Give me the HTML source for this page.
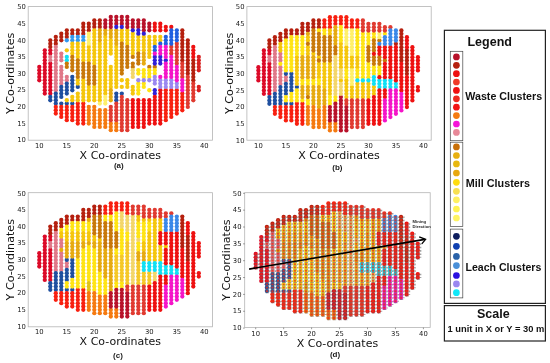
<!DOCTYPE html>
<html><head><meta charset="utf-8"><title>Cluster maps</title>
<style>html,body{margin:0;padding:0;background:#fff}svg{display:block}</style></head>
<body><svg width="550" height="363" viewBox="0 0 550 363">
<rect width="550" height="363" fill="#fff"/>
<g fill="#dc0a28"><circle cx="39.3" cy="66.94" r="2.15"/><circle cx="39.3" cy="70.27" r="2.15"/><circle cx="39.3" cy="73.6" r="2.15"/><circle cx="39.3" cy="76.93" r="2.15"/><circle cx="39.3" cy="80.26" r="2.15"/><circle cx="44.8" cy="50.29" r="2.15"/><circle cx="44.8" cy="53.62" r="2.15"/><circle cx="44.8" cy="56.95" r="2.15"/><circle cx="44.8" cy="60.28" r="2.15"/><circle cx="44.8" cy="63.61" r="2.15"/><circle cx="44.8" cy="66.94" r="2.15"/><circle cx="44.8" cy="70.27" r="2.15"/><circle cx="44.8" cy="73.6" r="2.15"/><circle cx="44.8" cy="76.93" r="2.15"/><circle cx="44.8" cy="80.26" r="2.15"/><circle cx="44.8" cy="83.59" r="2.15"/><circle cx="44.8" cy="86.92" r="2.15"/><circle cx="44.8" cy="90.25" r="2.15"/><circle cx="44.8" cy="93.58" r="2.15"/><circle cx="50.3" cy="50.29" r="2.15"/><circle cx="50.3" cy="53.62" r="2.15"/><circle cx="50.3" cy="63.61" r="2.15"/><circle cx="50.3" cy="66.94" r="2.15"/><circle cx="50.3" cy="70.27" r="2.15"/><circle cx="50.3" cy="73.6" r="2.15"/><circle cx="50.3" cy="76.93" r="2.15"/><circle cx="50.3" cy="80.26" r="2.15"/><circle cx="50.3" cy="83.59" r="2.15"/><circle cx="50.3" cy="86.92" r="2.15"/><circle cx="50.3" cy="90.25" r="2.15"/><circle cx="50.3" cy="93.58" r="2.15"/></g>
<g fill="#b5200f"><circle cx="50.3" cy="40.3" r="2.15"/><circle cx="50.3" cy="43.63" r="2.15"/><circle cx="50.3" cy="46.96" r="2.15"/><circle cx="55.8" cy="36.97" r="2.15"/><circle cx="55.8" cy="40.3" r="2.15"/><circle cx="55.8" cy="43.63" r="2.15"/><circle cx="61.3" cy="33.64" r="2.15"/><circle cx="61.3" cy="36.97" r="2.15"/><circle cx="61.3" cy="40.3" r="2.15"/><circle cx="66.8" cy="30.31" r="2.15"/><circle cx="66.8" cy="33.64" r="2.15"/><circle cx="66.8" cy="36.97" r="2.15"/><circle cx="72.3" cy="30.31" r="2.15"/><circle cx="72.3" cy="33.64" r="2.15"/><circle cx="77.8" cy="30.31" r="2.15"/><circle cx="77.8" cy="33.64" r="2.15"/><circle cx="83.3" cy="23.65" r="2.15"/><circle cx="83.3" cy="26.98" r="2.15"/><circle cx="83.3" cy="30.31" r="2.15"/><circle cx="83.3" cy="33.64" r="2.15"/><circle cx="88.8" cy="23.65" r="2.15"/><circle cx="88.8" cy="26.98" r="2.15"/><circle cx="88.8" cy="30.31" r="2.15"/><circle cx="94.3" cy="20.32" r="2.15"/><circle cx="94.3" cy="23.65" r="2.15"/><circle cx="94.3" cy="26.98" r="2.15"/><circle cx="99.8" cy="20.32" r="2.15"/><circle cx="99.8" cy="23.65" r="2.15"/><circle cx="99.8" cy="26.98" r="2.15"/><circle cx="182.3" cy="30.31" r="2.15"/><circle cx="182.3" cy="33.64" r="2.15"/><circle cx="182.3" cy="36.97" r="2.15"/><circle cx="182.3" cy="40.3" r="2.15"/><circle cx="182.3" cy="43.63" r="2.15"/><circle cx="182.3" cy="46.96" r="2.15"/><circle cx="182.3" cy="50.29" r="2.15"/><circle cx="182.3" cy="53.62" r="2.15"/><circle cx="182.3" cy="56.95" r="2.15"/><circle cx="182.3" cy="60.28" r="2.15"/><circle cx="187.8" cy="40.3" r="2.15"/><circle cx="187.8" cy="43.63" r="2.15"/><circle cx="187.8" cy="46.96" r="2.15"/><circle cx="187.8" cy="50.29" r="2.15"/><circle cx="187.8" cy="53.62" r="2.15"/><circle cx="187.8" cy="56.95" r="2.15"/><circle cx="187.8" cy="60.28" r="2.15"/><circle cx="187.8" cy="63.61" r="2.15"/><circle cx="187.8" cy="66.94" r="2.15"/><circle cx="187.8" cy="70.27" r="2.15"/><circle cx="187.8" cy="73.6" r="2.15"/><circle cx="193.3" cy="60.28" r="2.15"/><circle cx="193.3" cy="63.61" r="2.15"/><circle cx="193.3" cy="66.94" r="2.15"/><circle cx="193.3" cy="70.27" r="2.15"/><circle cx="193.3" cy="73.6" r="2.15"/><circle cx="193.3" cy="76.93" r="2.15"/><circle cx="193.3" cy="80.26" r="2.15"/></g>
<g fill="#e07888"><circle cx="50.3" cy="56.95" r="2.15"/><circle cx="50.3" cy="60.28" r="2.15"/><circle cx="55.8" cy="46.96" r="2.15"/><circle cx="55.8" cy="50.29" r="2.15"/><circle cx="55.8" cy="53.62" r="2.15"/><circle cx="55.8" cy="56.95" r="2.15"/><circle cx="55.8" cy="60.28" r="2.15"/><circle cx="55.8" cy="63.61" r="2.15"/><circle cx="55.8" cy="66.94" r="2.15"/><circle cx="55.8" cy="70.27" r="2.15"/><circle cx="55.8" cy="73.6" r="2.15"/><circle cx="55.8" cy="76.93" r="2.15"/><circle cx="55.8" cy="80.26" r="2.15"/><circle cx="55.8" cy="83.59" r="2.15"/><circle cx="55.8" cy="86.92" r="2.15"/><circle cx="55.8" cy="90.25" r="2.15"/><circle cx="61.3" cy="53.62" r="2.15"/><circle cx="61.3" cy="56.95" r="2.15"/><circle cx="61.3" cy="60.28" r="2.15"/><circle cx="61.3" cy="66.94" r="2.15"/><circle cx="61.3" cy="70.27" r="2.15"/><circle cx="61.3" cy="73.6" r="2.15"/><circle cx="61.3" cy="76.93" r="2.15"/><circle cx="61.3" cy="80.26" r="2.15"/><circle cx="61.3" cy="83.59" r="2.15"/><circle cx="66.8" cy="76.93" r="2.15"/><circle cx="66.8" cy="80.26" r="2.15"/></g>
<g fill="#1f4f9f"><circle cx="50.3" cy="96.91" r="2.15"/><circle cx="50.3" cy="100.24" r="2.15"/><circle cx="55.8" cy="93.58" r="2.15"/><circle cx="55.8" cy="96.91" r="2.15"/><circle cx="55.8" cy="100.24" r="2.15"/><circle cx="55.8" cy="103.57" r="2.15"/><circle cx="61.3" cy="86.92" r="2.15"/><circle cx="61.3" cy="90.25" r="2.15"/><circle cx="61.3" cy="93.58" r="2.15"/><circle cx="61.3" cy="96.91" r="2.15"/><circle cx="61.3" cy="103.57" r="2.15"/><circle cx="66.8" cy="83.59" r="2.15"/><circle cx="66.8" cy="86.92" r="2.15"/><circle cx="66.8" cy="90.25" r="2.15"/><circle cx="66.8" cy="93.58" r="2.15"/><circle cx="66.8" cy="103.57" r="2.15"/><circle cx="72.3" cy="76.93" r="2.15"/><circle cx="72.3" cy="80.26" r="2.15"/><circle cx="72.3" cy="83.59" r="2.15"/><circle cx="72.3" cy="86.92" r="2.15"/><circle cx="72.3" cy="90.25" r="2.15"/><circle cx="72.3" cy="103.57" r="2.15"/><circle cx="77.8" cy="86.92" r="2.15"/><circle cx="116.3" cy="93.58" r="2.15"/><circle cx="116.3" cy="96.91" r="2.15"/><circle cx="116.3" cy="100.24" r="2.15"/><circle cx="121.8" cy="93.58" r="2.15"/></g>
<g fill="#f82010"><circle cx="55.8" cy="106.9" r="2.15"/><circle cx="55.8" cy="110.23" r="2.15"/><circle cx="55.8" cy="113.56" r="2.15"/><circle cx="61.3" cy="106.9" r="2.15"/><circle cx="61.3" cy="110.23" r="2.15"/><circle cx="61.3" cy="113.56" r="2.15"/><circle cx="61.3" cy="116.89" r="2.15"/><circle cx="66.8" cy="106.9" r="2.15"/><circle cx="66.8" cy="110.23" r="2.15"/><circle cx="66.8" cy="113.56" r="2.15"/><circle cx="66.8" cy="116.89" r="2.15"/><circle cx="66.8" cy="120.22" r="2.15"/><circle cx="72.3" cy="106.9" r="2.15"/><circle cx="72.3" cy="110.23" r="2.15"/><circle cx="72.3" cy="113.56" r="2.15"/><circle cx="72.3" cy="116.89" r="2.15"/><circle cx="72.3" cy="120.22" r="2.15"/><circle cx="77.8" cy="103.57" r="2.15"/><circle cx="77.8" cy="106.9" r="2.15"/><circle cx="77.8" cy="110.23" r="2.15"/><circle cx="77.8" cy="113.56" r="2.15"/><circle cx="77.8" cy="116.89" r="2.15"/><circle cx="77.8" cy="120.22" r="2.15"/><circle cx="77.8" cy="123.55" r="2.15"/><circle cx="83.3" cy="103.57" r="2.15"/><circle cx="83.3" cy="106.9" r="2.15"/><circle cx="83.3" cy="110.23" r="2.15"/><circle cx="83.3" cy="113.56" r="2.15"/><circle cx="83.3" cy="116.89" r="2.15"/><circle cx="83.3" cy="120.22" r="2.15"/><circle cx="83.3" cy="123.55" r="2.15"/><circle cx="165.8" cy="90.25" r="2.15"/><circle cx="165.8" cy="93.58" r="2.15"/><circle cx="165.8" cy="96.91" r="2.15"/><circle cx="165.8" cy="100.24" r="2.15"/><circle cx="165.8" cy="103.57" r="2.15"/><circle cx="165.8" cy="106.9" r="2.15"/><circle cx="165.8" cy="110.23" r="2.15"/><circle cx="165.8" cy="113.56" r="2.15"/><circle cx="165.8" cy="116.89" r="2.15"/><circle cx="165.8" cy="120.22" r="2.15"/><circle cx="171.3" cy="90.25" r="2.15"/><circle cx="171.3" cy="93.58" r="2.15"/><circle cx="171.3" cy="96.91" r="2.15"/><circle cx="171.3" cy="100.24" r="2.15"/><circle cx="171.3" cy="103.57" r="2.15"/><circle cx="171.3" cy="106.9" r="2.15"/><circle cx="171.3" cy="110.23" r="2.15"/><circle cx="171.3" cy="113.56" r="2.15"/><circle cx="171.3" cy="116.89" r="2.15"/><circle cx="176.8" cy="90.25" r="2.15"/><circle cx="176.8" cy="93.58" r="2.15"/><circle cx="176.8" cy="96.91" r="2.15"/><circle cx="176.8" cy="100.24" r="2.15"/><circle cx="176.8" cy="103.57" r="2.15"/><circle cx="176.8" cy="106.9" r="2.15"/><circle cx="176.8" cy="110.23" r="2.15"/><circle cx="176.8" cy="113.56" r="2.15"/><circle cx="182.3" cy="93.58" r="2.15"/><circle cx="182.3" cy="96.91" r="2.15"/><circle cx="182.3" cy="100.24" r="2.15"/><circle cx="182.3" cy="103.57" r="2.15"/><circle cx="182.3" cy="106.9" r="2.15"/><circle cx="182.3" cy="110.23" r="2.15"/></g>
<g fill="#3399f0"><circle cx="66.8" cy="40.3" r="2.15"/><circle cx="72.3" cy="36.97" r="2.15"/><circle cx="72.3" cy="40.3" r="2.15"/><circle cx="77.8" cy="36.97" r="2.15"/><circle cx="77.8" cy="40.3" r="2.15"/><circle cx="83.3" cy="36.97" r="2.15"/><circle cx="83.3" cy="40.3" r="2.15"/></g>
<g fill="#f5c60c"><circle cx="66.8" cy="50.29" r="2.15"/><circle cx="66.8" cy="100.24" r="2.15"/><circle cx="72.3" cy="43.63" r="2.15"/><circle cx="72.3" cy="46.96" r="2.15"/><circle cx="72.3" cy="50.29" r="2.15"/><circle cx="72.3" cy="53.62" r="2.15"/><circle cx="72.3" cy="96.91" r="2.15"/><circle cx="72.3" cy="100.24" r="2.15"/><circle cx="77.8" cy="43.63" r="2.15"/><circle cx="77.8" cy="46.96" r="2.15"/><circle cx="77.8" cy="50.29" r="2.15"/><circle cx="77.8" cy="53.62" r="2.15"/><circle cx="77.8" cy="56.95" r="2.15"/><circle cx="77.8" cy="80.26" r="2.15"/><circle cx="77.8" cy="83.59" r="2.15"/><circle cx="77.8" cy="93.58" r="2.15"/><circle cx="77.8" cy="96.91" r="2.15"/><circle cx="77.8" cy="100.24" r="2.15"/><circle cx="83.3" cy="43.63" r="2.15"/><circle cx="83.3" cy="46.96" r="2.15"/><circle cx="83.3" cy="50.29" r="2.15"/><circle cx="83.3" cy="53.62" r="2.15"/><circle cx="83.3" cy="56.95" r="2.15"/><circle cx="83.3" cy="60.28" r="2.15"/><circle cx="83.3" cy="80.26" r="2.15"/><circle cx="83.3" cy="83.59" r="2.15"/><circle cx="83.3" cy="86.92" r="2.15"/><circle cx="83.3" cy="90.25" r="2.15"/><circle cx="83.3" cy="93.58" r="2.15"/><circle cx="83.3" cy="96.91" r="2.15"/><circle cx="83.3" cy="100.24" r="2.15"/><circle cx="88.8" cy="46.96" r="2.15"/><circle cx="88.8" cy="50.29" r="2.15"/><circle cx="88.8" cy="53.62" r="2.15"/><circle cx="88.8" cy="56.95" r="2.15"/><circle cx="88.8" cy="60.28" r="2.15"/><circle cx="88.8" cy="86.92" r="2.15"/><circle cx="88.8" cy="90.25" r="2.15"/><circle cx="88.8" cy="93.58" r="2.15"/><circle cx="88.8" cy="96.91" r="2.15"/><circle cx="88.8" cy="100.24" r="2.15"/><circle cx="94.3" cy="30.31" r="2.15"/><circle cx="94.3" cy="33.64" r="2.15"/><circle cx="94.3" cy="36.97" r="2.15"/><circle cx="94.3" cy="40.3" r="2.15"/><circle cx="94.3" cy="43.63" r="2.15"/><circle cx="94.3" cy="46.96" r="2.15"/><circle cx="94.3" cy="50.29" r="2.15"/><circle cx="94.3" cy="53.62" r="2.15"/><circle cx="94.3" cy="56.95" r="2.15"/><circle cx="94.3" cy="60.28" r="2.15"/><circle cx="94.3" cy="63.61" r="2.15"/><circle cx="94.3" cy="86.92" r="2.15"/><circle cx="94.3" cy="90.25" r="2.15"/><circle cx="94.3" cy="93.58" r="2.15"/><circle cx="94.3" cy="96.91" r="2.15"/><circle cx="94.3" cy="100.24" r="2.15"/><circle cx="99.8" cy="43.63" r="2.15"/><circle cx="99.8" cy="46.96" r="2.15"/><circle cx="99.8" cy="50.29" r="2.15"/><circle cx="99.8" cy="53.62" r="2.15"/><circle cx="99.8" cy="56.95" r="2.15"/><circle cx="99.8" cy="60.28" r="2.15"/><circle cx="99.8" cy="63.61" r="2.15"/><circle cx="99.8" cy="66.94" r="2.15"/><circle cx="99.8" cy="70.27" r="2.15"/><circle cx="99.8" cy="73.6" r="2.15"/><circle cx="99.8" cy="76.93" r="2.15"/><circle cx="99.8" cy="80.26" r="2.15"/><circle cx="99.8" cy="83.59" r="2.15"/><circle cx="99.8" cy="86.92" r="2.15"/><circle cx="99.8" cy="90.25" r="2.15"/><circle cx="99.8" cy="93.58" r="2.15"/><circle cx="99.8" cy="96.91" r="2.15"/><circle cx="99.8" cy="100.24" r="2.15"/><circle cx="105.3" cy="36.97" r="2.15"/><circle cx="105.3" cy="40.3" r="2.15"/><circle cx="105.3" cy="43.63" r="2.15"/><circle cx="105.3" cy="46.96" r="2.15"/><circle cx="105.3" cy="50.29" r="2.15"/><circle cx="105.3" cy="53.62" r="2.15"/><circle cx="105.3" cy="56.95" r="2.15"/><circle cx="105.3" cy="60.28" r="2.15"/><circle cx="105.3" cy="63.61" r="2.15"/><circle cx="105.3" cy="66.94" r="2.15"/><circle cx="105.3" cy="70.27" r="2.15"/><circle cx="105.3" cy="73.6" r="2.15"/><circle cx="105.3" cy="76.93" r="2.15"/><circle cx="105.3" cy="80.26" r="2.15"/><circle cx="105.3" cy="83.59" r="2.15"/><circle cx="105.3" cy="86.92" r="2.15"/><circle cx="105.3" cy="90.25" r="2.15"/><circle cx="105.3" cy="93.58" r="2.15"/><circle cx="110.8" cy="40.3" r="2.15"/><circle cx="110.8" cy="43.63" r="2.15"/><circle cx="110.8" cy="46.96" r="2.15"/><circle cx="110.8" cy="50.29" r="2.15"/><circle cx="110.8" cy="53.62" r="2.15"/><circle cx="110.8" cy="66.94" r="2.15"/><circle cx="110.8" cy="70.27" r="2.15"/><circle cx="110.8" cy="73.6" r="2.15"/><circle cx="110.8" cy="76.93" r="2.15"/><circle cx="110.8" cy="80.26" r="2.15"/><circle cx="110.8" cy="83.59" r="2.15"/><circle cx="110.8" cy="86.92" r="2.15"/><circle cx="116.3" cy="46.96" r="2.15"/><circle cx="116.3" cy="50.29" r="2.15"/><circle cx="116.3" cy="53.62" r="2.15"/><circle cx="116.3" cy="56.95" r="2.15"/><circle cx="116.3" cy="60.28" r="2.15"/><circle cx="116.3" cy="63.61" r="2.15"/><circle cx="116.3" cy="66.94" r="2.15"/><circle cx="116.3" cy="70.27" r="2.15"/><circle cx="116.3" cy="73.6" r="2.15"/><circle cx="116.3" cy="76.93" r="2.15"/><circle cx="116.3" cy="80.26" r="2.15"/><circle cx="116.3" cy="83.59" r="2.15"/><circle cx="116.3" cy="86.92" r="2.15"/><circle cx="121.8" cy="30.31" r="2.15"/><circle cx="121.8" cy="33.64" r="2.15"/><circle cx="121.8" cy="36.97" r="2.15"/><circle cx="121.8" cy="40.3" r="2.15"/><circle cx="121.8" cy="80.26" r="2.15"/><circle cx="121.8" cy="86.92" r="2.15"/><circle cx="127.3" cy="30.31" r="2.15"/><circle cx="127.3" cy="33.64" r="2.15"/><circle cx="127.3" cy="36.97" r="2.15"/><circle cx="127.3" cy="40.3" r="2.15"/><circle cx="127.3" cy="43.63" r="2.15"/><circle cx="127.3" cy="80.26" r="2.15"/><circle cx="127.3" cy="83.59" r="2.15"/><circle cx="127.3" cy="86.92" r="2.15"/><circle cx="132.8" cy="33.64" r="2.15"/><circle cx="132.8" cy="36.97" r="2.15"/><circle cx="132.8" cy="40.3" r="2.15"/><circle cx="132.8" cy="43.63" r="2.15"/><circle cx="132.8" cy="46.96" r="2.15"/><circle cx="132.8" cy="50.29" r="2.15"/><circle cx="132.8" cy="53.62" r="2.15"/><circle cx="132.8" cy="86.92" r="2.15"/><circle cx="132.8" cy="90.25" r="2.15"/><circle cx="132.8" cy="93.58" r="2.15"/><circle cx="138.3" cy="36.97" r="2.15"/><circle cx="138.3" cy="40.3" r="2.15"/><circle cx="138.3" cy="43.63" r="2.15"/><circle cx="138.3" cy="46.96" r="2.15"/><circle cx="138.3" cy="50.29" r="2.15"/><circle cx="143.8" cy="36.97" r="2.15"/><circle cx="143.8" cy="40.3" r="2.15"/><circle cx="143.8" cy="43.63" r="2.15"/><circle cx="143.8" cy="46.96" r="2.15"/><circle cx="143.8" cy="50.29" r="2.15"/><circle cx="149.3" cy="36.97" r="2.15"/><circle cx="149.3" cy="40.3" r="2.15"/><circle cx="149.3" cy="43.63" r="2.15"/><circle cx="149.3" cy="46.96" r="2.15"/><circle cx="149.3" cy="50.29" r="2.15"/><circle cx="149.3" cy="53.62" r="2.15"/><circle cx="149.3" cy="56.95" r="2.15"/><circle cx="154.8" cy="36.97" r="2.15"/><circle cx="154.8" cy="40.3" r="2.15"/><circle cx="154.8" cy="43.63" r="2.15"/><circle cx="160.3" cy="36.97" r="2.15"/><circle cx="160.3" cy="40.3" r="2.15"/></g>
<g fill="#10e0f5"><circle cx="66.8" cy="56.95" r="2.15"/><circle cx="66.8" cy="60.28" r="2.15"/></g>
<g fill="#c8780a"><circle cx="66.8" cy="63.61" r="2.15"/><circle cx="66.8" cy="66.94" r="2.15"/><circle cx="72.3" cy="56.95" r="2.15"/><circle cx="72.3" cy="60.28" r="2.15"/><circle cx="72.3" cy="63.61" r="2.15"/><circle cx="72.3" cy="66.94" r="2.15"/><circle cx="72.3" cy="70.27" r="2.15"/><circle cx="77.8" cy="60.28" r="2.15"/><circle cx="77.8" cy="63.61" r="2.15"/><circle cx="77.8" cy="66.94" r="2.15"/><circle cx="77.8" cy="70.27" r="2.15"/><circle cx="77.8" cy="73.6" r="2.15"/><circle cx="77.8" cy="76.93" r="2.15"/><circle cx="83.3" cy="63.61" r="2.15"/><circle cx="83.3" cy="66.94" r="2.15"/><circle cx="83.3" cy="70.27" r="2.15"/><circle cx="83.3" cy="73.6" r="2.15"/><circle cx="83.3" cy="76.93" r="2.15"/><circle cx="88.8" cy="63.61" r="2.15"/><circle cx="88.8" cy="66.94" r="2.15"/><circle cx="88.8" cy="70.27" r="2.15"/><circle cx="88.8" cy="73.6" r="2.15"/><circle cx="88.8" cy="76.93" r="2.15"/><circle cx="88.8" cy="80.26" r="2.15"/><circle cx="88.8" cy="83.59" r="2.15"/><circle cx="94.3" cy="66.94" r="2.15"/><circle cx="94.3" cy="70.27" r="2.15"/><circle cx="94.3" cy="73.6" r="2.15"/><circle cx="94.3" cy="76.93" r="2.15"/><circle cx="94.3" cy="80.26" r="2.15"/><circle cx="94.3" cy="83.59" r="2.15"/><circle cx="121.8" cy="43.63" r="2.15"/><circle cx="121.8" cy="46.96" r="2.15"/><circle cx="121.8" cy="50.29" r="2.15"/><circle cx="121.8" cy="53.62" r="2.15"/><circle cx="121.8" cy="56.95" r="2.15"/><circle cx="121.8" cy="60.28" r="2.15"/><circle cx="121.8" cy="63.61" r="2.15"/><circle cx="121.8" cy="66.94" r="2.15"/><circle cx="121.8" cy="70.27" r="2.15"/><circle cx="121.8" cy="73.6" r="2.15"/><circle cx="127.3" cy="46.96" r="2.15"/><circle cx="127.3" cy="50.29" r="2.15"/><circle cx="127.3" cy="53.62" r="2.15"/><circle cx="127.3" cy="56.95" r="2.15"/><circle cx="127.3" cy="60.28" r="2.15"/><circle cx="127.3" cy="63.61" r="2.15"/><circle cx="127.3" cy="66.94" r="2.15"/><circle cx="132.8" cy="56.95" r="2.15"/><circle cx="132.8" cy="63.61" r="2.15"/><circle cx="132.8" cy="66.94" r="2.15"/><circle cx="138.3" cy="53.62" r="2.15"/><circle cx="138.3" cy="56.95" r="2.15"/><circle cx="138.3" cy="60.28" r="2.15"/><circle cx="138.3" cy="63.61" r="2.15"/><circle cx="149.3" cy="66.94" r="2.15"/><circle cx="154.8" cy="66.94" r="2.15"/></g>
<g fill="#fff06a"><circle cx="88.8" cy="33.64" r="2.15"/><circle cx="88.8" cy="36.97" r="2.15"/><circle cx="88.8" cy="40.3" r="2.15"/><circle cx="88.8" cy="43.63" r="2.15"/><circle cx="99.8" cy="103.57" r="2.15"/><circle cx="105.3" cy="96.91" r="2.15"/><circle cx="105.3" cy="100.24" r="2.15"/><circle cx="105.3" cy="103.57" r="2.15"/></g>
<g fill="#f57a10"><circle cx="88.8" cy="106.9" r="2.15"/><circle cx="88.8" cy="110.23" r="2.15"/><circle cx="88.8" cy="113.56" r="2.15"/><circle cx="88.8" cy="116.89" r="2.15"/><circle cx="88.8" cy="120.22" r="2.15"/><circle cx="88.8" cy="123.55" r="2.15"/><circle cx="94.3" cy="106.9" r="2.15"/><circle cx="94.3" cy="110.23" r="2.15"/><circle cx="94.3" cy="113.56" r="2.15"/><circle cx="94.3" cy="116.89" r="2.15"/><circle cx="94.3" cy="120.22" r="2.15"/><circle cx="94.3" cy="123.55" r="2.15"/><circle cx="94.3" cy="126.88" r="2.15"/><circle cx="99.8" cy="110.23" r="2.15"/><circle cx="99.8" cy="113.56" r="2.15"/><circle cx="99.8" cy="116.89" r="2.15"/><circle cx="99.8" cy="120.22" r="2.15"/><circle cx="99.8" cy="123.55" r="2.15"/><circle cx="99.8" cy="126.88" r="2.15"/><circle cx="105.3" cy="110.23" r="2.15"/><circle cx="105.3" cy="113.56" r="2.15"/><circle cx="105.3" cy="116.89" r="2.15"/><circle cx="105.3" cy="120.22" r="2.15"/><circle cx="105.3" cy="123.55" r="2.15"/><circle cx="105.3" cy="126.88" r="2.15"/><circle cx="110.8" cy="123.55" r="2.15"/><circle cx="110.8" cy="126.88" r="2.15"/><circle cx="110.8" cy="130.21" r="2.15"/><circle cx="116.3" cy="123.55" r="2.15"/><circle cx="116.3" cy="126.88" r="2.15"/><circle cx="116.3" cy="130.21" r="2.15"/></g>
<g fill="#e6aa10"><circle cx="99.8" cy="30.31" r="2.15"/><circle cx="99.8" cy="33.64" r="2.15"/><circle cx="99.8" cy="36.97" r="2.15"/><circle cx="99.8" cy="40.3" r="2.15"/><circle cx="105.3" cy="30.31" r="2.15"/><circle cx="105.3" cy="33.64" r="2.15"/><circle cx="110.8" cy="30.31" r="2.15"/><circle cx="110.8" cy="33.64" r="2.15"/><circle cx="110.8" cy="36.97" r="2.15"/><circle cx="110.8" cy="90.25" r="2.15"/><circle cx="110.8" cy="93.58" r="2.15"/><circle cx="110.8" cy="96.91" r="2.15"/><circle cx="110.8" cy="100.24" r="2.15"/><circle cx="116.3" cy="30.31" r="2.15"/><circle cx="116.3" cy="33.64" r="2.15"/><circle cx="116.3" cy="36.97" r="2.15"/><circle cx="116.3" cy="40.3" r="2.15"/><circle cx="116.3" cy="43.63" r="2.15"/><circle cx="143.8" cy="53.62" r="2.15"/><circle cx="143.8" cy="56.95" r="2.15"/><circle cx="143.8" cy="60.28" r="2.15"/><circle cx="143.8" cy="63.61" r="2.15"/></g>
<g fill="#b8122a"><circle cx="105.3" cy="20.32" r="2.15"/><circle cx="105.3" cy="23.65" r="2.15"/><circle cx="105.3" cy="26.98" r="2.15"/><circle cx="110.8" cy="16.99" r="2.15"/><circle cx="110.8" cy="20.32" r="2.15"/><circle cx="110.8" cy="23.65" r="2.15"/><circle cx="110.8" cy="26.98" r="2.15"/><circle cx="116.3" cy="16.99" r="2.15"/><circle cx="116.3" cy="20.32" r="2.15"/><circle cx="116.3" cy="23.65" r="2.15"/><circle cx="121.8" cy="16.99" r="2.15"/><circle cx="121.8" cy="20.32" r="2.15"/><circle cx="121.8" cy="23.65" r="2.15"/><circle cx="127.3" cy="16.99" r="2.15"/><circle cx="127.3" cy="20.32" r="2.15"/><circle cx="127.3" cy="23.65" r="2.15"/><circle cx="127.3" cy="26.98" r="2.15"/><circle cx="132.8" cy="20.32" r="2.15"/><circle cx="132.8" cy="23.65" r="2.15"/><circle cx="132.8" cy="26.98" r="2.15"/><circle cx="138.3" cy="20.32" r="2.15"/><circle cx="138.3" cy="23.65" r="2.15"/><circle cx="138.3" cy="26.98" r="2.15"/><circle cx="143.8" cy="20.32" r="2.15"/><circle cx="143.8" cy="23.65" r="2.15"/><circle cx="143.8" cy="26.98" r="2.15"/><circle cx="143.8" cy="30.31" r="2.15"/><circle cx="149.3" cy="23.65" r="2.15"/><circle cx="149.3" cy="26.98" r="2.15"/><circle cx="149.3" cy="30.31" r="2.15"/></g>
<g fill="#e03a30"><circle cx="110.8" cy="106.9" r="2.15"/><circle cx="110.8" cy="110.23" r="2.15"/><circle cx="110.8" cy="113.56" r="2.15"/><circle cx="110.8" cy="116.89" r="2.15"/><circle cx="110.8" cy="120.22" r="2.15"/><circle cx="116.3" cy="103.57" r="2.15"/><circle cx="116.3" cy="106.9" r="2.15"/><circle cx="116.3" cy="110.23" r="2.15"/><circle cx="116.3" cy="113.56" r="2.15"/><circle cx="116.3" cy="116.89" r="2.15"/><circle cx="116.3" cy="120.22" r="2.15"/><circle cx="121.8" cy="96.91" r="2.15"/><circle cx="121.8" cy="100.24" r="2.15"/><circle cx="121.8" cy="103.57" r="2.15"/><circle cx="121.8" cy="106.9" r="2.15"/><circle cx="121.8" cy="110.23" r="2.15"/><circle cx="121.8" cy="113.56" r="2.15"/><circle cx="121.8" cy="116.89" r="2.15"/><circle cx="121.8" cy="120.22" r="2.15"/><circle cx="121.8" cy="123.55" r="2.15"/><circle cx="121.8" cy="126.88" r="2.15"/><circle cx="121.8" cy="130.21" r="2.15"/><circle cx="127.3" cy="100.24" r="2.15"/><circle cx="127.3" cy="103.57" r="2.15"/><circle cx="127.3" cy="106.9" r="2.15"/><circle cx="127.3" cy="110.23" r="2.15"/><circle cx="127.3" cy="113.56" r="2.15"/><circle cx="127.3" cy="116.89" r="2.15"/><circle cx="127.3" cy="120.22" r="2.15"/><circle cx="127.3" cy="123.55" r="2.15"/><circle cx="127.3" cy="126.88" r="2.15"/><circle cx="127.3" cy="130.21" r="2.15"/><circle cx="171.3" cy="46.96" r="2.15"/><circle cx="171.3" cy="50.29" r="2.15"/><circle cx="171.3" cy="53.62" r="2.15"/><circle cx="176.8" cy="43.63" r="2.15"/><circle cx="176.8" cy="46.96" r="2.15"/><circle cx="176.8" cy="50.29" r="2.15"/><circle cx="176.8" cy="53.62" r="2.15"/><circle cx="176.8" cy="56.95" r="2.15"/><circle cx="176.8" cy="60.28" r="2.15"/><circle cx="176.8" cy="63.61" r="2.15"/><circle cx="182.3" cy="63.61" r="2.15"/><circle cx="182.3" cy="66.94" r="2.15"/><circle cx="182.3" cy="70.27" r="2.15"/><circle cx="182.3" cy="73.6" r="2.15"/><circle cx="182.3" cy="76.93" r="2.15"/><circle cx="187.8" cy="76.93" r="2.15"/><circle cx="187.8" cy="80.26" r="2.15"/><circle cx="187.8" cy="83.59" r="2.15"/><circle cx="187.8" cy="86.92" r="2.15"/><circle cx="187.8" cy="90.25" r="2.15"/><circle cx="187.8" cy="93.58" r="2.15"/><circle cx="187.8" cy="96.91" r="2.15"/><circle cx="187.8" cy="100.24" r="2.15"/><circle cx="187.8" cy="103.57" r="2.15"/><circle cx="187.8" cy="106.9" r="2.15"/><circle cx="193.3" cy="83.59" r="2.15"/><circle cx="193.3" cy="86.92" r="2.15"/><circle cx="193.3" cy="90.25" r="2.15"/><circle cx="193.3" cy="93.58" r="2.15"/><circle cx="193.3" cy="96.91" r="2.15"/><circle cx="193.3" cy="100.24" r="2.15"/></g>
<g fill="#3020d8"><circle cx="116.3" cy="26.98" r="2.15"/><circle cx="121.8" cy="26.98" r="2.15"/><circle cx="132.8" cy="30.31" r="2.15"/><circle cx="138.3" cy="30.31" r="2.15"/><circle cx="138.3" cy="33.64" r="2.15"/><circle cx="143.8" cy="33.64" r="2.15"/><circle cx="154.8" cy="56.95" r="2.15"/><circle cx="154.8" cy="60.28" r="2.15"/><circle cx="154.8" cy="63.61" r="2.15"/><circle cx="154.8" cy="90.25" r="2.15"/><circle cx="154.8" cy="93.58" r="2.15"/><circle cx="160.3" cy="56.95" r="2.15"/><circle cx="160.3" cy="60.28" r="2.15"/><circle cx="160.3" cy="63.61" r="2.15"/><circle cx="165.8" cy="60.28" r="2.15"/></g>
<g fill="#f3d66a"><circle cx="132.8" cy="70.27" r="2.15"/><circle cx="132.8" cy="73.6" r="2.15"/><circle cx="132.8" cy="76.93" r="2.15"/></g>
<g fill="#ee1111"><circle cx="132.8" cy="100.24" r="2.15"/><circle cx="132.8" cy="103.57" r="2.15"/><circle cx="132.8" cy="106.9" r="2.15"/><circle cx="132.8" cy="110.23" r="2.15"/><circle cx="132.8" cy="113.56" r="2.15"/><circle cx="132.8" cy="116.89" r="2.15"/><circle cx="132.8" cy="120.22" r="2.15"/><circle cx="132.8" cy="123.55" r="2.15"/><circle cx="132.8" cy="126.88" r="2.15"/><circle cx="138.3" cy="100.24" r="2.15"/><circle cx="138.3" cy="103.57" r="2.15"/><circle cx="138.3" cy="106.9" r="2.15"/><circle cx="138.3" cy="110.23" r="2.15"/><circle cx="138.3" cy="113.56" r="2.15"/><circle cx="138.3" cy="116.89" r="2.15"/><circle cx="138.3" cy="120.22" r="2.15"/><circle cx="138.3" cy="123.55" r="2.15"/><circle cx="138.3" cy="126.88" r="2.15"/><circle cx="143.8" cy="100.24" r="2.15"/><circle cx="143.8" cy="103.57" r="2.15"/><circle cx="143.8" cy="106.9" r="2.15"/><circle cx="143.8" cy="110.23" r="2.15"/><circle cx="143.8" cy="113.56" r="2.15"/><circle cx="143.8" cy="116.89" r="2.15"/><circle cx="143.8" cy="120.22" r="2.15"/><circle cx="143.8" cy="123.55" r="2.15"/><circle cx="143.8" cy="126.88" r="2.15"/><circle cx="149.3" cy="100.24" r="2.15"/><circle cx="149.3" cy="103.57" r="2.15"/><circle cx="149.3" cy="106.9" r="2.15"/><circle cx="149.3" cy="110.23" r="2.15"/><circle cx="149.3" cy="113.56" r="2.15"/><circle cx="149.3" cy="116.89" r="2.15"/><circle cx="149.3" cy="120.22" r="2.15"/><circle cx="149.3" cy="123.55" r="2.15"/><circle cx="154.8" cy="23.65" r="2.15"/><circle cx="154.8" cy="26.98" r="2.15"/><circle cx="154.8" cy="30.31" r="2.15"/><circle cx="154.8" cy="96.91" r="2.15"/><circle cx="154.8" cy="100.24" r="2.15"/><circle cx="154.8" cy="103.57" r="2.15"/><circle cx="154.8" cy="106.9" r="2.15"/><circle cx="154.8" cy="110.23" r="2.15"/><circle cx="154.8" cy="113.56" r="2.15"/><circle cx="154.8" cy="116.89" r="2.15"/><circle cx="154.8" cy="120.22" r="2.15"/><circle cx="154.8" cy="123.55" r="2.15"/><circle cx="160.3" cy="23.65" r="2.15"/><circle cx="160.3" cy="26.98" r="2.15"/><circle cx="160.3" cy="30.31" r="2.15"/><circle cx="160.3" cy="90.25" r="2.15"/><circle cx="160.3" cy="93.58" r="2.15"/><circle cx="160.3" cy="96.91" r="2.15"/><circle cx="160.3" cy="100.24" r="2.15"/><circle cx="160.3" cy="103.57" r="2.15"/><circle cx="160.3" cy="106.9" r="2.15"/><circle cx="160.3" cy="110.23" r="2.15"/><circle cx="160.3" cy="113.56" r="2.15"/><circle cx="160.3" cy="116.89" r="2.15"/><circle cx="160.3" cy="120.22" r="2.15"/><circle cx="160.3" cy="123.55" r="2.15"/><circle cx="165.8" cy="26.98" r="2.15"/><circle cx="165.8" cy="30.31" r="2.15"/><circle cx="171.3" cy="26.98" r="2.15"/><circle cx="193.3" cy="46.96" r="2.15"/><circle cx="193.3" cy="50.29" r="2.15"/><circle cx="193.3" cy="53.62" r="2.15"/><circle cx="193.3" cy="56.95" r="2.15"/></g>
<g fill="#ffe414"><circle cx="138.3" cy="70.27" r="2.15"/><circle cx="138.3" cy="73.6" r="2.15"/><circle cx="138.3" cy="83.59" r="2.15"/><circle cx="138.3" cy="86.92" r="2.15"/><circle cx="138.3" cy="90.25" r="2.15"/><circle cx="138.3" cy="93.58" r="2.15"/><circle cx="143.8" cy="70.27" r="2.15"/><circle cx="143.8" cy="73.6" r="2.15"/><circle cx="143.8" cy="76.93" r="2.15"/><circle cx="143.8" cy="83.59" r="2.15"/><circle cx="143.8" cy="86.92" r="2.15"/><circle cx="149.3" cy="70.27" r="2.15"/><circle cx="149.3" cy="73.6" r="2.15"/><circle cx="149.3" cy="76.93" r="2.15"/><circle cx="149.3" cy="90.25" r="2.15"/><circle cx="154.8" cy="70.27" r="2.15"/><circle cx="154.8" cy="73.6" r="2.15"/></g>
<g fill="#9a88f0"><circle cx="138.3" cy="80.26" r="2.15"/><circle cx="143.8" cy="80.26" r="2.15"/><circle cx="149.3" cy="80.26" r="2.15"/><circle cx="154.8" cy="76.93" r="2.15"/><circle cx="154.8" cy="80.26" r="2.15"/><circle cx="154.8" cy="83.59" r="2.15"/><circle cx="160.3" cy="80.26" r="2.15"/><circle cx="160.3" cy="83.59" r="2.15"/><circle cx="160.3" cy="86.92" r="2.15"/><circle cx="165.8" cy="80.26" r="2.15"/><circle cx="165.8" cy="83.59" r="2.15"/><circle cx="165.8" cy="86.92" r="2.15"/><circle cx="171.3" cy="80.26" r="2.15"/><circle cx="171.3" cy="83.59" r="2.15"/><circle cx="171.3" cy="86.92" r="2.15"/><circle cx="176.8" cy="83.59" r="2.15"/><circle cx="176.8" cy="86.92" r="2.15"/></g>
<g fill="#2060e0"><circle cx="154.8" cy="46.96" r="2.15"/><circle cx="154.8" cy="50.29" r="2.15"/><circle cx="160.3" cy="43.63" r="2.15"/><circle cx="165.8" cy="36.97" r="2.15"/><circle cx="165.8" cy="40.3" r="2.15"/><circle cx="165.8" cy="43.63" r="2.15"/><circle cx="171.3" cy="30.31" r="2.15"/><circle cx="171.3" cy="33.64" r="2.15"/><circle cx="171.3" cy="36.97" r="2.15"/><circle cx="171.3" cy="40.3" r="2.15"/><circle cx="171.3" cy="43.63" r="2.15"/><circle cx="176.8" cy="30.31" r="2.15"/><circle cx="176.8" cy="33.64" r="2.15"/><circle cx="176.8" cy="36.97" r="2.15"/><circle cx="176.8" cy="40.3" r="2.15"/></g>
<g fill="#f514c8"><circle cx="154.8" cy="53.62" r="2.15"/><circle cx="160.3" cy="46.96" r="2.15"/><circle cx="160.3" cy="50.29" r="2.15"/><circle cx="160.3" cy="53.62" r="2.15"/><circle cx="160.3" cy="76.93" r="2.15"/><circle cx="165.8" cy="46.96" r="2.15"/><circle cx="165.8" cy="50.29" r="2.15"/><circle cx="165.8" cy="53.62" r="2.15"/><circle cx="165.8" cy="56.95" r="2.15"/><circle cx="165.8" cy="63.61" r="2.15"/><circle cx="165.8" cy="66.94" r="2.15"/><circle cx="165.8" cy="70.27" r="2.15"/><circle cx="165.8" cy="73.6" r="2.15"/><circle cx="165.8" cy="76.93" r="2.15"/><circle cx="171.3" cy="56.95" r="2.15"/><circle cx="171.3" cy="60.28" r="2.15"/><circle cx="171.3" cy="63.61" r="2.15"/><circle cx="171.3" cy="66.94" r="2.15"/><circle cx="171.3" cy="70.27" r="2.15"/><circle cx="171.3" cy="73.6" r="2.15"/><circle cx="171.3" cy="76.93" r="2.15"/><circle cx="176.8" cy="66.94" r="2.15"/><circle cx="176.8" cy="70.27" r="2.15"/><circle cx="176.8" cy="73.6" r="2.15"/><circle cx="176.8" cy="76.93" r="2.15"/><circle cx="176.8" cy="80.26" r="2.15"/><circle cx="182.3" cy="80.26" r="2.15"/><circle cx="182.3" cy="83.59" r="2.15"/><circle cx="182.3" cy="86.92" r="2.15"/><circle cx="182.3" cy="90.25" r="2.15"/></g>
<g fill="#d82020"><circle cx="198.8" cy="56.95" r="2.15"/><circle cx="198.8" cy="60.28" r="2.15"/><circle cx="198.8" cy="63.61" r="2.15"/><circle cx="198.8" cy="66.94" r="2.15"/><circle cx="198.8" cy="70.27" r="2.15"/><circle cx="198.8" cy="86.92" r="2.15"/><circle cx="198.8" cy="90.25" r="2.15"/></g>
<rect x="28.2" y="6.6" width="184.3" height="133.6" fill="none" stroke="#b4b4b4" stroke-width="0.8"/>
<g font-family="'DejaVu Sans','Liberation Sans',sans-serif" font-size="6.8" fill="#1a1a1a">
<text x="25.8" y="142.4" text-anchor="end">10</text>
<text x="25.8" y="125.75" text-anchor="end">15</text>
<text x="25.8" y="109.1" text-anchor="end">20</text>
<text x="25.8" y="92.45" text-anchor="end">25</text>
<text x="25.8" y="75.8" text-anchor="end">30</text>
<text x="25.8" y="59.15" text-anchor="end">35</text>
<text x="25.8" y="42.5" text-anchor="end">40</text>
<text x="25.8" y="25.85" text-anchor="end">45</text>
<text x="25.8" y="9.2" text-anchor="end">50</text>
<text x="39.3" y="147.8" text-anchor="middle">10</text>
<text x="66.8" y="147.8" text-anchor="middle">15</text>
<text x="94.3" y="147.8" text-anchor="middle">20</text>
<text x="121.8" y="147.8" text-anchor="middle">25</text>
<text x="149.3" y="147.8" text-anchor="middle">30</text>
<text x="176.8" y="147.8" text-anchor="middle">35</text>
<text x="204.3" y="147.8" text-anchor="middle">40</text>
</g>
<text x="120.35" y="158.8" text-anchor="middle" font-family="'DejaVu Sans','Liberation Sans',sans-serif" font-size="11" fill="#111">X Co-ordinates</text>
<text transform="translate(13.8 73.4) rotate(-90)" text-anchor="middle" font-family="'DejaVu Sans','Liberation Sans',sans-serif" font-size="11.1" fill="#111">Y Co-ordinates</text>
<text x="118.8" y="168.3" text-anchor="middle" font-family="'Liberation Sans',sans-serif" font-weight="bold" font-size="8" fill="#1a1a1a">(a)</text>
<g fill="#dc0a28"><circle cx="258.4" cy="67.14" r="2.15"/><circle cx="258.4" cy="70.47" r="2.15"/><circle cx="258.4" cy="73.8" r="2.15"/><circle cx="258.4" cy="77.13" r="2.15"/><circle cx="258.4" cy="80.46" r="2.15"/><circle cx="263.9" cy="50.49" r="2.15"/><circle cx="263.9" cy="53.82" r="2.15"/><circle cx="263.9" cy="57.15" r="2.15"/><circle cx="263.9" cy="60.48" r="2.15"/><circle cx="263.9" cy="63.81" r="2.15"/><circle cx="263.9" cy="67.14" r="2.15"/><circle cx="263.9" cy="70.47" r="2.15"/><circle cx="263.9" cy="73.8" r="2.15"/><circle cx="263.9" cy="77.13" r="2.15"/><circle cx="263.9" cy="80.46" r="2.15"/><circle cx="263.9" cy="83.79" r="2.15"/><circle cx="263.9" cy="87.12" r="2.15"/><circle cx="263.9" cy="90.45" r="2.15"/><circle cx="263.9" cy="93.78" r="2.15"/><circle cx="269.4" cy="50.49" r="2.15"/><circle cx="269.4" cy="53.82" r="2.15"/><circle cx="269.4" cy="63.81" r="2.15"/><circle cx="269.4" cy="67.14" r="2.15"/><circle cx="269.4" cy="70.47" r="2.15"/><circle cx="269.4" cy="73.8" r="2.15"/><circle cx="269.4" cy="77.13" r="2.15"/><circle cx="269.4" cy="80.46" r="2.15"/><circle cx="269.4" cy="83.79" r="2.15"/><circle cx="269.4" cy="87.12" r="2.15"/><circle cx="269.4" cy="90.45" r="2.15"/><circle cx="269.4" cy="93.78" r="2.15"/></g>
<g fill="#b5200f"><circle cx="269.4" cy="40.5" r="2.15"/><circle cx="269.4" cy="43.83" r="2.15"/><circle cx="269.4" cy="47.16" r="2.15"/><circle cx="274.9" cy="37.17" r="2.15"/><circle cx="274.9" cy="40.5" r="2.15"/><circle cx="274.9" cy="43.83" r="2.15"/><circle cx="280.4" cy="33.84" r="2.15"/><circle cx="280.4" cy="37.17" r="2.15"/><circle cx="280.4" cy="40.5" r="2.15"/><circle cx="285.9" cy="30.51" r="2.15"/><circle cx="285.9" cy="33.84" r="2.15"/><circle cx="285.9" cy="37.17" r="2.15"/><circle cx="291.4" cy="30.51" r="2.15"/><circle cx="291.4" cy="33.84" r="2.15"/><circle cx="296.9" cy="30.51" r="2.15"/><circle cx="296.9" cy="33.84" r="2.15"/><circle cx="302.4" cy="23.85" r="2.15"/><circle cx="302.4" cy="27.18" r="2.15"/><circle cx="302.4" cy="30.51" r="2.15"/><circle cx="302.4" cy="33.84" r="2.15"/><circle cx="307.9" cy="23.85" r="2.15"/><circle cx="307.9" cy="27.18" r="2.15"/><circle cx="307.9" cy="30.51" r="2.15"/><circle cx="313.4" cy="20.52" r="2.15"/><circle cx="313.4" cy="23.85" r="2.15"/><circle cx="313.4" cy="27.18" r="2.15"/><circle cx="318.9" cy="20.52" r="2.15"/><circle cx="318.9" cy="23.85" r="2.15"/><circle cx="318.9" cy="27.18" r="2.15"/><circle cx="395.9" cy="43.83" r="2.15"/><circle cx="401.4" cy="30.51" r="2.15"/><circle cx="401.4" cy="33.84" r="2.15"/><circle cx="401.4" cy="37.17" r="2.15"/><circle cx="401.4" cy="40.5" r="2.15"/><circle cx="401.4" cy="43.83" r="2.15"/><circle cx="401.4" cy="47.16" r="2.15"/><circle cx="401.4" cy="50.49" r="2.15"/><circle cx="401.4" cy="53.82" r="2.15"/><circle cx="401.4" cy="57.15" r="2.15"/><circle cx="401.4" cy="60.48" r="2.15"/><circle cx="406.9" cy="50.49" r="2.15"/><circle cx="406.9" cy="53.82" r="2.15"/><circle cx="406.9" cy="57.15" r="2.15"/><circle cx="406.9" cy="60.48" r="2.15"/><circle cx="406.9" cy="63.81" r="2.15"/><circle cx="406.9" cy="67.14" r="2.15"/><circle cx="406.9" cy="70.47" r="2.15"/><circle cx="406.9" cy="73.8" r="2.15"/></g>
<g fill="#e07888"><circle cx="269.4" cy="57.15" r="2.15"/><circle cx="269.4" cy="60.48" r="2.15"/><circle cx="274.9" cy="47.16" r="2.15"/><circle cx="274.9" cy="50.49" r="2.15"/><circle cx="274.9" cy="53.82" r="2.15"/><circle cx="274.9" cy="57.15" r="2.15"/><circle cx="274.9" cy="60.48" r="2.15"/><circle cx="274.9" cy="63.81" r="2.15"/><circle cx="274.9" cy="67.14" r="2.15"/><circle cx="274.9" cy="70.47" r="2.15"/><circle cx="274.9" cy="73.8" r="2.15"/><circle cx="274.9" cy="77.13" r="2.15"/><circle cx="274.9" cy="80.46" r="2.15"/><circle cx="274.9" cy="83.79" r="2.15"/><circle cx="274.9" cy="87.12" r="2.15"/><circle cx="274.9" cy="90.45" r="2.15"/><circle cx="280.4" cy="53.82" r="2.15"/><circle cx="280.4" cy="57.15" r="2.15"/><circle cx="280.4" cy="60.48" r="2.15"/><circle cx="280.4" cy="67.14" r="2.15"/><circle cx="280.4" cy="70.47" r="2.15"/><circle cx="280.4" cy="73.8" r="2.15"/><circle cx="280.4" cy="77.13" r="2.15"/><circle cx="280.4" cy="80.46" r="2.15"/><circle cx="280.4" cy="83.79" r="2.15"/><circle cx="285.9" cy="77.13" r="2.15"/><circle cx="285.9" cy="80.46" r="2.15"/></g>
<g fill="#1f4f9f"><circle cx="269.4" cy="97.11" r="2.15"/><circle cx="269.4" cy="100.44" r="2.15"/><circle cx="269.4" cy="103.77" r="2.15"/><circle cx="274.9" cy="93.78" r="2.15"/><circle cx="274.9" cy="97.11" r="2.15"/><circle cx="274.9" cy="100.44" r="2.15"/><circle cx="274.9" cy="103.77" r="2.15"/><circle cx="280.4" cy="87.12" r="2.15"/><circle cx="280.4" cy="90.45" r="2.15"/><circle cx="280.4" cy="93.78" r="2.15"/><circle cx="280.4" cy="97.11" r="2.15"/><circle cx="280.4" cy="100.44" r="2.15"/><circle cx="280.4" cy="103.77" r="2.15"/><circle cx="285.9" cy="73.8" r="2.15"/><circle cx="285.9" cy="83.79" r="2.15"/><circle cx="285.9" cy="87.12" r="2.15"/><circle cx="285.9" cy="90.45" r="2.15"/><circle cx="285.9" cy="93.78" r="2.15"/><circle cx="285.9" cy="103.77" r="2.15"/><circle cx="291.4" cy="73.8" r="2.15"/><circle cx="291.4" cy="77.13" r="2.15"/><circle cx="291.4" cy="80.46" r="2.15"/><circle cx="291.4" cy="83.79" r="2.15"/><circle cx="291.4" cy="87.12" r="2.15"/><circle cx="291.4" cy="90.45" r="2.15"/><circle cx="291.4" cy="103.77" r="2.15"/><circle cx="296.9" cy="87.12" r="2.15"/></g>
<g fill="#f82010"><circle cx="274.9" cy="107.1" r="2.15"/><circle cx="274.9" cy="110.43" r="2.15"/><circle cx="274.9" cy="113.76" r="2.15"/><circle cx="280.4" cy="107.1" r="2.15"/><circle cx="280.4" cy="110.43" r="2.15"/><circle cx="280.4" cy="113.76" r="2.15"/><circle cx="280.4" cy="117.09" r="2.15"/><circle cx="285.9" cy="107.1" r="2.15"/><circle cx="285.9" cy="110.43" r="2.15"/><circle cx="285.9" cy="113.76" r="2.15"/><circle cx="285.9" cy="117.09" r="2.15"/><circle cx="285.9" cy="120.42" r="2.15"/><circle cx="291.4" cy="107.1" r="2.15"/><circle cx="291.4" cy="110.43" r="2.15"/><circle cx="291.4" cy="113.76" r="2.15"/><circle cx="291.4" cy="117.09" r="2.15"/><circle cx="291.4" cy="120.42" r="2.15"/><circle cx="296.9" cy="103.77" r="2.15"/><circle cx="296.9" cy="107.1" r="2.15"/><circle cx="296.9" cy="110.43" r="2.15"/><circle cx="296.9" cy="113.76" r="2.15"/><circle cx="296.9" cy="117.09" r="2.15"/><circle cx="296.9" cy="120.42" r="2.15"/><circle cx="296.9" cy="123.75" r="2.15"/><circle cx="302.4" cy="103.77" r="2.15"/><circle cx="302.4" cy="107.1" r="2.15"/><circle cx="302.4" cy="110.43" r="2.15"/><circle cx="302.4" cy="113.76" r="2.15"/><circle cx="302.4" cy="117.09" r="2.15"/><circle cx="302.4" cy="120.42" r="2.15"/><circle cx="302.4" cy="123.75" r="2.15"/><circle cx="324.4" cy="20.52" r="2.15"/><circle cx="324.4" cy="23.85" r="2.15"/><circle cx="324.4" cy="27.18" r="2.15"/><circle cx="329.9" cy="17.19" r="2.15"/><circle cx="329.9" cy="20.52" r="2.15"/><circle cx="329.9" cy="23.85" r="2.15"/><circle cx="329.9" cy="27.18" r="2.15"/><circle cx="335.4" cy="17.19" r="2.15"/><circle cx="335.4" cy="20.52" r="2.15"/><circle cx="335.4" cy="23.85" r="2.15"/><circle cx="340.9" cy="17.19" r="2.15"/><circle cx="340.9" cy="20.52" r="2.15"/><circle cx="340.9" cy="23.85" r="2.15"/><circle cx="346.4" cy="17.19" r="2.15"/><circle cx="346.4" cy="20.52" r="2.15"/><circle cx="346.4" cy="23.85" r="2.15"/><circle cx="346.4" cy="27.18" r="2.15"/><circle cx="351.9" cy="20.52" r="2.15"/><circle cx="351.9" cy="23.85" r="2.15"/><circle cx="351.9" cy="27.18" r="2.15"/><circle cx="357.4" cy="20.52" r="2.15"/><circle cx="357.4" cy="23.85" r="2.15"/><circle cx="357.4" cy="27.18" r="2.15"/></g>
<g fill="#f5c60c"><circle cx="280.4" cy="43.83" r="2.15"/><circle cx="280.4" cy="47.16" r="2.15"/><circle cx="280.4" cy="50.49" r="2.15"/><circle cx="296.9" cy="57.15" r="2.15"/><circle cx="296.9" cy="60.48" r="2.15"/><circle cx="296.9" cy="63.81" r="2.15"/><circle cx="296.9" cy="67.14" r="2.15"/><circle cx="296.9" cy="70.47" r="2.15"/><circle cx="296.9" cy="73.8" r="2.15"/><circle cx="296.9" cy="77.13" r="2.15"/><circle cx="296.9" cy="80.46" r="2.15"/><circle cx="296.9" cy="83.79" r="2.15"/><circle cx="307.9" cy="37.17" r="2.15"/><circle cx="307.9" cy="40.5" r="2.15"/><circle cx="307.9" cy="47.16" r="2.15"/><circle cx="307.9" cy="50.49" r="2.15"/><circle cx="307.9" cy="53.82" r="2.15"/><circle cx="313.4" cy="53.82" r="2.15"/><circle cx="318.9" cy="57.15" r="2.15"/><circle cx="318.9" cy="63.81" r="2.15"/><circle cx="318.9" cy="67.14" r="2.15"/><circle cx="318.9" cy="70.47" r="2.15"/><circle cx="318.9" cy="73.8" r="2.15"/><circle cx="318.9" cy="77.13" r="2.15"/><circle cx="324.4" cy="63.81" r="2.15"/><circle cx="324.4" cy="67.14" r="2.15"/><circle cx="324.4" cy="70.47" r="2.15"/><circle cx="324.4" cy="73.8" r="2.15"/><circle cx="324.4" cy="77.13" r="2.15"/><circle cx="324.4" cy="80.46" r="2.15"/><circle cx="324.4" cy="83.79" r="2.15"/><circle cx="324.4" cy="87.12" r="2.15"/><circle cx="329.9" cy="30.51" r="2.15"/><circle cx="329.9" cy="33.84" r="2.15"/><circle cx="329.9" cy="63.81" r="2.15"/><circle cx="329.9" cy="67.14" r="2.15"/><circle cx="329.9" cy="70.47" r="2.15"/><circle cx="329.9" cy="73.8" r="2.15"/><circle cx="329.9" cy="77.13" r="2.15"/><circle cx="329.9" cy="80.46" r="2.15"/><circle cx="329.9" cy="83.79" r="2.15"/><circle cx="329.9" cy="87.12" r="2.15"/><circle cx="329.9" cy="90.45" r="2.15"/><circle cx="329.9" cy="93.78" r="2.15"/><circle cx="340.9" cy="43.83" r="2.15"/><circle cx="340.9" cy="47.16" r="2.15"/><circle cx="340.9" cy="50.49" r="2.15"/><circle cx="340.9" cy="53.82" r="2.15"/><circle cx="340.9" cy="57.15" r="2.15"/><circle cx="340.9" cy="60.48" r="2.15"/><circle cx="340.9" cy="63.81" r="2.15"/><circle cx="340.9" cy="67.14" r="2.15"/><circle cx="340.9" cy="80.46" r="2.15"/><circle cx="346.4" cy="47.16" r="2.15"/><circle cx="346.4" cy="50.49" r="2.15"/><circle cx="346.4" cy="53.82" r="2.15"/><circle cx="346.4" cy="57.15" r="2.15"/><circle cx="346.4" cy="60.48" r="2.15"/><circle cx="346.4" cy="63.81" r="2.15"/><circle cx="346.4" cy="67.14" r="2.15"/><circle cx="346.4" cy="80.46" r="2.15"/><circle cx="346.4" cy="83.79" r="2.15"/><circle cx="346.4" cy="87.12" r="2.15"/><circle cx="346.4" cy="90.45" r="2.15"/><circle cx="346.4" cy="93.78" r="2.15"/><circle cx="346.4" cy="97.11" r="2.15"/><circle cx="351.9" cy="57.15" r="2.15"/><circle cx="351.9" cy="60.48" r="2.15"/><circle cx="351.9" cy="63.81" r="2.15"/><circle cx="351.9" cy="67.14" r="2.15"/><circle cx="351.9" cy="87.12" r="2.15"/><circle cx="351.9" cy="90.45" r="2.15"/><circle cx="351.9" cy="93.78" r="2.15"/><circle cx="351.9" cy="97.11" r="2.15"/><circle cx="357.4" cy="57.15" r="2.15"/><circle cx="357.4" cy="60.48" r="2.15"/><circle cx="357.4" cy="63.81" r="2.15"/><circle cx="357.4" cy="67.14" r="2.15"/><circle cx="357.4" cy="83.79" r="2.15"/><circle cx="357.4" cy="87.12" r="2.15"/><circle cx="357.4" cy="90.45" r="2.15"/><circle cx="357.4" cy="93.78" r="2.15"/><circle cx="357.4" cy="97.11" r="2.15"/><circle cx="362.9" cy="83.79" r="2.15"/><circle cx="362.9" cy="87.12" r="2.15"/><circle cx="362.9" cy="90.45" r="2.15"/><circle cx="362.9" cy="93.78" r="2.15"/><circle cx="362.9" cy="97.11" r="2.15"/><circle cx="368.4" cy="83.79" r="2.15"/><circle cx="368.4" cy="87.12" r="2.15"/><circle cx="368.4" cy="90.45" r="2.15"/><circle cx="368.4" cy="93.78" r="2.15"/><circle cx="368.4" cy="97.11" r="2.15"/><circle cx="373.9" cy="87.12" r="2.15"/><circle cx="373.9" cy="90.45" r="2.15"/><circle cx="373.9" cy="93.78" r="2.15"/></g>
<g fill="#ffe414"><circle cx="280.4" cy="63.81" r="2.15"/><circle cx="285.9" cy="40.5" r="2.15"/><circle cx="285.9" cy="43.83" r="2.15"/><circle cx="285.9" cy="47.16" r="2.15"/><circle cx="285.9" cy="50.49" r="2.15"/><circle cx="285.9" cy="53.82" r="2.15"/><circle cx="285.9" cy="57.15" r="2.15"/><circle cx="285.9" cy="60.48" r="2.15"/><circle cx="285.9" cy="63.81" r="2.15"/><circle cx="285.9" cy="67.14" r="2.15"/><circle cx="285.9" cy="70.47" r="2.15"/><circle cx="285.9" cy="97.11" r="2.15"/><circle cx="285.9" cy="100.44" r="2.15"/><circle cx="291.4" cy="37.17" r="2.15"/><circle cx="291.4" cy="40.5" r="2.15"/><circle cx="291.4" cy="43.83" r="2.15"/><circle cx="291.4" cy="47.16" r="2.15"/><circle cx="291.4" cy="50.49" r="2.15"/><circle cx="291.4" cy="53.82" r="2.15"/><circle cx="291.4" cy="57.15" r="2.15"/><circle cx="291.4" cy="60.48" r="2.15"/><circle cx="291.4" cy="63.81" r="2.15"/><circle cx="291.4" cy="67.14" r="2.15"/><circle cx="291.4" cy="70.47" r="2.15"/><circle cx="291.4" cy="93.78" r="2.15"/><circle cx="291.4" cy="97.11" r="2.15"/><circle cx="291.4" cy="100.44" r="2.15"/><circle cx="296.9" cy="37.17" r="2.15"/><circle cx="296.9" cy="40.5" r="2.15"/><circle cx="296.9" cy="43.83" r="2.15"/><circle cx="296.9" cy="47.16" r="2.15"/><circle cx="296.9" cy="50.49" r="2.15"/><circle cx="296.9" cy="53.82" r="2.15"/><circle cx="296.9" cy="90.45" r="2.15"/><circle cx="296.9" cy="93.78" r="2.15"/><circle cx="296.9" cy="97.11" r="2.15"/><circle cx="296.9" cy="100.44" r="2.15"/><circle cx="302.4" cy="37.17" r="2.15"/><circle cx="302.4" cy="40.5" r="2.15"/><circle cx="302.4" cy="43.83" r="2.15"/><circle cx="302.4" cy="47.16" r="2.15"/><circle cx="302.4" cy="50.49" r="2.15"/><circle cx="302.4" cy="53.82" r="2.15"/><circle cx="302.4" cy="80.46" r="2.15"/><circle cx="302.4" cy="83.79" r="2.15"/><circle cx="302.4" cy="100.44" r="2.15"/><circle cx="307.9" cy="80.46" r="2.15"/><circle cx="307.9" cy="83.79" r="2.15"/><circle cx="307.9" cy="100.44" r="2.15"/><circle cx="307.9" cy="103.77" r="2.15"/><circle cx="313.4" cy="80.46" r="2.15"/><circle cx="313.4" cy="83.79" r="2.15"/><circle cx="318.9" cy="30.51" r="2.15"/><circle cx="318.9" cy="80.46" r="2.15"/><circle cx="318.9" cy="83.79" r="2.15"/><circle cx="324.4" cy="30.51" r="2.15"/><circle cx="324.4" cy="33.84" r="2.15"/><circle cx="329.9" cy="97.11" r="2.15"/><circle cx="329.9" cy="100.44" r="2.15"/><circle cx="329.9" cy="103.77" r="2.15"/><circle cx="335.4" cy="97.11" r="2.15"/><circle cx="335.4" cy="100.44" r="2.15"/><circle cx="340.9" cy="27.18" r="2.15"/><circle cx="340.9" cy="30.51" r="2.15"/><circle cx="340.9" cy="33.84" r="2.15"/><circle cx="340.9" cy="37.17" r="2.15"/><circle cx="340.9" cy="40.5" r="2.15"/><circle cx="346.4" cy="70.47" r="2.15"/><circle cx="346.4" cy="73.8" r="2.15"/><circle cx="346.4" cy="77.13" r="2.15"/><circle cx="357.4" cy="30.51" r="2.15"/><circle cx="357.4" cy="33.84" r="2.15"/><circle cx="357.4" cy="37.17" r="2.15"/><circle cx="357.4" cy="40.5" r="2.15"/><circle cx="357.4" cy="43.83" r="2.15"/><circle cx="357.4" cy="47.16" r="2.15"/><circle cx="357.4" cy="50.49" r="2.15"/><circle cx="357.4" cy="53.82" r="2.15"/><circle cx="357.4" cy="70.47" r="2.15"/><circle cx="357.4" cy="73.8" r="2.15"/><circle cx="357.4" cy="77.13" r="2.15"/><circle cx="362.9" cy="33.84" r="2.15"/><circle cx="362.9" cy="37.17" r="2.15"/><circle cx="362.9" cy="40.5" r="2.15"/><circle cx="362.9" cy="43.83" r="2.15"/><circle cx="362.9" cy="47.16" r="2.15"/><circle cx="362.9" cy="50.49" r="2.15"/><circle cx="362.9" cy="53.82" r="2.15"/><circle cx="362.9" cy="57.15" r="2.15"/><circle cx="362.9" cy="60.48" r="2.15"/><circle cx="362.9" cy="63.81" r="2.15"/><circle cx="362.9" cy="67.14" r="2.15"/><circle cx="362.9" cy="70.47" r="2.15"/><circle cx="362.9" cy="73.8" r="2.15"/><circle cx="362.9" cy="77.13" r="2.15"/><circle cx="368.4" cy="33.84" r="2.15"/><circle cx="368.4" cy="37.17" r="2.15"/><circle cx="368.4" cy="40.5" r="2.15"/><circle cx="368.4" cy="43.83" r="2.15"/><circle cx="368.4" cy="63.81" r="2.15"/><circle cx="368.4" cy="67.14" r="2.15"/><circle cx="368.4" cy="70.47" r="2.15"/><circle cx="368.4" cy="73.8" r="2.15"/><circle cx="368.4" cy="77.13" r="2.15"/><circle cx="373.9" cy="33.84" r="2.15"/><circle cx="373.9" cy="37.17" r="2.15"/><circle cx="373.9" cy="67.14" r="2.15"/><circle cx="373.9" cy="70.47" r="2.15"/><circle cx="373.9" cy="73.8" r="2.15"/><circle cx="379.4" cy="67.14" r="2.15"/><circle cx="379.4" cy="70.47" r="2.15"/><circle cx="379.4" cy="73.8" r="2.15"/><circle cx="384.9" cy="33.84" r="2.15"/></g>
<g fill="#e6aa10"><circle cx="302.4" cy="57.15" r="2.15"/><circle cx="302.4" cy="60.48" r="2.15"/><circle cx="302.4" cy="63.81" r="2.15"/><circle cx="302.4" cy="67.14" r="2.15"/><circle cx="302.4" cy="70.47" r="2.15"/><circle cx="302.4" cy="73.8" r="2.15"/><circle cx="302.4" cy="77.13" r="2.15"/><circle cx="302.4" cy="87.12" r="2.15"/><circle cx="302.4" cy="90.45" r="2.15"/><circle cx="302.4" cy="93.78" r="2.15"/><circle cx="302.4" cy="97.11" r="2.15"/><circle cx="307.9" cy="33.84" r="2.15"/><circle cx="307.9" cy="57.15" r="2.15"/><circle cx="307.9" cy="60.48" r="2.15"/><circle cx="307.9" cy="63.81" r="2.15"/><circle cx="307.9" cy="67.14" r="2.15"/><circle cx="307.9" cy="70.47" r="2.15"/><circle cx="307.9" cy="73.8" r="2.15"/><circle cx="307.9" cy="77.13" r="2.15"/><circle cx="307.9" cy="87.12" r="2.15"/><circle cx="307.9" cy="90.45" r="2.15"/><circle cx="307.9" cy="93.78" r="2.15"/><circle cx="313.4" cy="57.15" r="2.15"/><circle cx="313.4" cy="60.48" r="2.15"/><circle cx="313.4" cy="63.81" r="2.15"/><circle cx="313.4" cy="67.14" r="2.15"/><circle cx="313.4" cy="70.47" r="2.15"/><circle cx="313.4" cy="73.8" r="2.15"/><circle cx="313.4" cy="77.13" r="2.15"/><circle cx="313.4" cy="87.12" r="2.15"/><circle cx="313.4" cy="90.45" r="2.15"/><circle cx="313.4" cy="93.78" r="2.15"/><circle cx="313.4" cy="97.11" r="2.15"/><circle cx="313.4" cy="100.44" r="2.15"/><circle cx="313.4" cy="103.77" r="2.15"/><circle cx="318.9" cy="87.12" r="2.15"/><circle cx="318.9" cy="90.45" r="2.15"/><circle cx="318.9" cy="93.78" r="2.15"/><circle cx="318.9" cy="97.11" r="2.15"/><circle cx="318.9" cy="100.44" r="2.15"/><circle cx="318.9" cy="103.77" r="2.15"/><circle cx="318.9" cy="107.1" r="2.15"/><circle cx="324.4" cy="90.45" r="2.15"/><circle cx="324.4" cy="93.78" r="2.15"/><circle cx="324.4" cy="97.11" r="2.15"/><circle cx="324.4" cy="100.44" r="2.15"/><circle cx="324.4" cy="103.77" r="2.15"/><circle cx="335.4" cy="27.18" r="2.15"/><circle cx="335.4" cy="30.51" r="2.15"/><circle cx="335.4" cy="33.84" r="2.15"/><circle cx="335.4" cy="37.17" r="2.15"/><circle cx="335.4" cy="40.5" r="2.15"/><circle cx="335.4" cy="43.83" r="2.15"/></g>
<g fill="#c8780a"><circle cx="307.9" cy="43.83" r="2.15"/><circle cx="307.9" cy="97.11" r="2.15"/><circle cx="313.4" cy="30.51" r="2.15"/><circle cx="313.4" cy="33.84" r="2.15"/><circle cx="313.4" cy="37.17" r="2.15"/><circle cx="313.4" cy="40.5" r="2.15"/><circle cx="313.4" cy="43.83" r="2.15"/><circle cx="313.4" cy="47.16" r="2.15"/><circle cx="313.4" cy="50.49" r="2.15"/><circle cx="318.9" cy="33.84" r="2.15"/><circle cx="318.9" cy="37.17" r="2.15"/><circle cx="318.9" cy="40.5" r="2.15"/><circle cx="318.9" cy="43.83" r="2.15"/><circle cx="318.9" cy="47.16" r="2.15"/><circle cx="318.9" cy="50.49" r="2.15"/><circle cx="318.9" cy="53.82" r="2.15"/><circle cx="318.9" cy="60.48" r="2.15"/><circle cx="324.4" cy="37.17" r="2.15"/><circle cx="324.4" cy="40.5" r="2.15"/><circle cx="324.4" cy="43.83" r="2.15"/><circle cx="324.4" cy="47.16" r="2.15"/><circle cx="324.4" cy="50.49" r="2.15"/><circle cx="324.4" cy="53.82" r="2.15"/><circle cx="324.4" cy="57.15" r="2.15"/><circle cx="324.4" cy="60.48" r="2.15"/><circle cx="329.9" cy="37.17" r="2.15"/><circle cx="329.9" cy="40.5" r="2.15"/><circle cx="329.9" cy="43.83" r="2.15"/><circle cx="329.9" cy="47.16" r="2.15"/><circle cx="329.9" cy="50.49" r="2.15"/><circle cx="329.9" cy="53.82" r="2.15"/><circle cx="329.9" cy="57.15" r="2.15"/><circle cx="329.9" cy="60.48" r="2.15"/><circle cx="335.4" cy="47.16" r="2.15"/><circle cx="335.4" cy="50.49" r="2.15"/><circle cx="335.4" cy="53.82" r="2.15"/><circle cx="368.4" cy="47.16" r="2.15"/><circle cx="368.4" cy="50.49" r="2.15"/><circle cx="368.4" cy="53.82" r="2.15"/><circle cx="368.4" cy="57.15" r="2.15"/><circle cx="368.4" cy="60.48" r="2.15"/><circle cx="373.9" cy="40.5" r="2.15"/><circle cx="373.9" cy="43.83" r="2.15"/><circle cx="373.9" cy="47.16" r="2.15"/><circle cx="373.9" cy="50.49" r="2.15"/><circle cx="373.9" cy="57.15" r="2.15"/><circle cx="373.9" cy="60.48" r="2.15"/><circle cx="373.9" cy="63.81" r="2.15"/><circle cx="379.4" cy="40.5" r="2.15"/><circle cx="379.4" cy="57.15" r="2.15"/><circle cx="379.4" cy="60.48" r="2.15"/><circle cx="379.4" cy="63.81" r="2.15"/><circle cx="384.9" cy="60.48" r="2.15"/></g>
<g fill="#f57a10"><circle cx="307.9" cy="107.1" r="2.15"/><circle cx="307.9" cy="110.43" r="2.15"/><circle cx="307.9" cy="113.76" r="2.15"/><circle cx="307.9" cy="117.09" r="2.15"/><circle cx="307.9" cy="120.42" r="2.15"/><circle cx="307.9" cy="123.75" r="2.15"/><circle cx="313.4" cy="107.1" r="2.15"/><circle cx="313.4" cy="110.43" r="2.15"/><circle cx="313.4" cy="113.76" r="2.15"/><circle cx="313.4" cy="117.09" r="2.15"/><circle cx="313.4" cy="120.42" r="2.15"/><circle cx="313.4" cy="123.75" r="2.15"/><circle cx="313.4" cy="127.08" r="2.15"/><circle cx="318.9" cy="110.43" r="2.15"/><circle cx="318.9" cy="113.76" r="2.15"/><circle cx="318.9" cy="117.09" r="2.15"/><circle cx="318.9" cy="120.42" r="2.15"/><circle cx="318.9" cy="123.75" r="2.15"/><circle cx="318.9" cy="127.08" r="2.15"/><circle cx="324.4" cy="107.1" r="2.15"/><circle cx="324.4" cy="110.43" r="2.15"/><circle cx="324.4" cy="113.76" r="2.15"/><circle cx="324.4" cy="117.09" r="2.15"/><circle cx="324.4" cy="120.42" r="2.15"/><circle cx="324.4" cy="123.75" r="2.15"/><circle cx="324.4" cy="127.08" r="2.15"/><circle cx="329.9" cy="123.75" r="2.15"/><circle cx="329.9" cy="127.08" r="2.15"/><circle cx="329.9" cy="130.41" r="2.15"/><circle cx="335.4" cy="123.75" r="2.15"/><circle cx="335.4" cy="127.08" r="2.15"/><circle cx="335.4" cy="130.41" r="2.15"/></g>
<g fill="#b8122a"><circle cx="329.9" cy="107.1" r="2.15"/><circle cx="329.9" cy="110.43" r="2.15"/><circle cx="329.9" cy="113.76" r="2.15"/><circle cx="329.9" cy="117.09" r="2.15"/><circle cx="329.9" cy="120.42" r="2.15"/><circle cx="335.4" cy="103.77" r="2.15"/><circle cx="335.4" cy="107.1" r="2.15"/><circle cx="335.4" cy="110.43" r="2.15"/><circle cx="335.4" cy="113.76" r="2.15"/><circle cx="335.4" cy="117.09" r="2.15"/><circle cx="335.4" cy="120.42" r="2.15"/><circle cx="340.9" cy="97.11" r="2.15"/><circle cx="340.9" cy="100.44" r="2.15"/><circle cx="340.9" cy="103.77" r="2.15"/><circle cx="340.9" cy="107.1" r="2.15"/><circle cx="340.9" cy="110.43" r="2.15"/><circle cx="340.9" cy="113.76" r="2.15"/><circle cx="340.9" cy="117.09" r="2.15"/><circle cx="340.9" cy="120.42" r="2.15"/><circle cx="340.9" cy="123.75" r="2.15"/><circle cx="340.9" cy="127.08" r="2.15"/><circle cx="340.9" cy="130.41" r="2.15"/><circle cx="346.4" cy="107.1" r="2.15"/><circle cx="346.4" cy="110.43" r="2.15"/><circle cx="346.4" cy="113.76" r="2.15"/><circle cx="346.4" cy="117.09" r="2.15"/><circle cx="346.4" cy="120.42" r="2.15"/><circle cx="346.4" cy="123.75" r="2.15"/><circle cx="346.4" cy="127.08" r="2.15"/><circle cx="346.4" cy="130.41" r="2.15"/></g>
<g fill="#f3d66a"><circle cx="335.4" cy="57.15" r="2.15"/><circle cx="335.4" cy="60.48" r="2.15"/><circle cx="335.4" cy="63.81" r="2.15"/><circle cx="335.4" cy="67.14" r="2.15"/><circle cx="335.4" cy="70.47" r="2.15"/><circle cx="335.4" cy="73.8" r="2.15"/><circle cx="335.4" cy="77.13" r="2.15"/><circle cx="335.4" cy="80.46" r="2.15"/><circle cx="335.4" cy="83.79" r="2.15"/><circle cx="335.4" cy="87.12" r="2.15"/><circle cx="335.4" cy="90.45" r="2.15"/><circle cx="335.4" cy="93.78" r="2.15"/><circle cx="340.9" cy="70.47" r="2.15"/><circle cx="340.9" cy="73.8" r="2.15"/><circle cx="340.9" cy="77.13" r="2.15"/><circle cx="340.9" cy="83.79" r="2.15"/><circle cx="340.9" cy="87.12" r="2.15"/><circle cx="340.9" cy="90.45" r="2.15"/><circle cx="340.9" cy="93.78" r="2.15"/></g>
<g fill="#fff06a"><circle cx="346.4" cy="30.51" r="2.15"/><circle cx="346.4" cy="33.84" r="2.15"/><circle cx="346.4" cy="37.17" r="2.15"/><circle cx="346.4" cy="40.5" r="2.15"/><circle cx="346.4" cy="43.83" r="2.15"/><circle cx="351.9" cy="30.51" r="2.15"/><circle cx="351.9" cy="33.84" r="2.15"/><circle cx="351.9" cy="37.17" r="2.15"/><circle cx="351.9" cy="40.5" r="2.15"/><circle cx="351.9" cy="43.83" r="2.15"/><circle cx="351.9" cy="47.16" r="2.15"/><circle cx="351.9" cy="50.49" r="2.15"/><circle cx="351.9" cy="53.82" r="2.15"/><circle cx="351.9" cy="70.47" r="2.15"/><circle cx="351.9" cy="73.8" r="2.15"/><circle cx="351.9" cy="77.13" r="2.15"/><circle cx="351.9" cy="80.46" r="2.15"/><circle cx="351.9" cy="83.79" r="2.15"/><circle cx="379.4" cy="33.84" r="2.15"/><circle cx="379.4" cy="37.17" r="2.15"/></g>
<g fill="#e03a30"><circle cx="346.4" cy="100.44" r="2.15"/><circle cx="346.4" cy="103.77" r="2.15"/><circle cx="351.9" cy="100.44" r="2.15"/><circle cx="351.9" cy="103.77" r="2.15"/><circle cx="351.9" cy="107.1" r="2.15"/><circle cx="351.9" cy="110.43" r="2.15"/><circle cx="351.9" cy="113.76" r="2.15"/><circle cx="351.9" cy="117.09" r="2.15"/><circle cx="351.9" cy="120.42" r="2.15"/><circle cx="351.9" cy="123.75" r="2.15"/><circle cx="351.9" cy="127.08" r="2.15"/><circle cx="357.4" cy="100.44" r="2.15"/><circle cx="357.4" cy="103.77" r="2.15"/><circle cx="357.4" cy="107.1" r="2.15"/><circle cx="357.4" cy="110.43" r="2.15"/><circle cx="357.4" cy="113.76" r="2.15"/><circle cx="357.4" cy="117.09" r="2.15"/><circle cx="357.4" cy="120.42" r="2.15"/><circle cx="357.4" cy="123.75" r="2.15"/><circle cx="357.4" cy="127.08" r="2.15"/><circle cx="362.9" cy="20.52" r="2.15"/><circle cx="362.9" cy="23.85" r="2.15"/><circle cx="362.9" cy="27.18" r="2.15"/><circle cx="362.9" cy="30.51" r="2.15"/><circle cx="362.9" cy="100.44" r="2.15"/><circle cx="362.9" cy="103.77" r="2.15"/><circle cx="362.9" cy="107.1" r="2.15"/><circle cx="362.9" cy="110.43" r="2.15"/><circle cx="362.9" cy="113.76" r="2.15"/><circle cx="362.9" cy="117.09" r="2.15"/><circle cx="362.9" cy="120.42" r="2.15"/><circle cx="362.9" cy="123.75" r="2.15"/><circle cx="362.9" cy="127.08" r="2.15"/><circle cx="368.4" cy="23.85" r="2.15"/><circle cx="368.4" cy="27.18" r="2.15"/><circle cx="368.4" cy="30.51" r="2.15"/><circle cx="373.9" cy="23.85" r="2.15"/><circle cx="373.9" cy="27.18" r="2.15"/><circle cx="373.9" cy="30.51" r="2.15"/><circle cx="379.4" cy="23.85" r="2.15"/><circle cx="379.4" cy="27.18" r="2.15"/><circle cx="379.4" cy="30.51" r="2.15"/><circle cx="384.9" cy="27.18" r="2.15"/><circle cx="384.9" cy="30.51" r="2.15"/><circle cx="390.4" cy="27.18" r="2.15"/></g>
<g fill="#10e0f5"><circle cx="357.4" cy="80.46" r="2.15"/><circle cx="362.9" cy="80.46" r="2.15"/><circle cx="368.4" cy="80.46" r="2.15"/><circle cx="373.9" cy="77.13" r="2.15"/><circle cx="373.9" cy="80.46" r="2.15"/><circle cx="373.9" cy="83.79" r="2.15"/><circle cx="379.4" cy="80.46" r="2.15"/><circle cx="379.4" cy="83.79" r="2.15"/><circle cx="379.4" cy="87.12" r="2.15"/><circle cx="384.9" cy="80.46" r="2.15"/><circle cx="384.9" cy="83.79" r="2.15"/><circle cx="384.9" cy="87.12" r="2.15"/><circle cx="390.4" cy="80.46" r="2.15"/><circle cx="390.4" cy="83.79" r="2.15"/><circle cx="390.4" cy="87.12" r="2.15"/><circle cx="395.9" cy="83.79" r="2.15"/><circle cx="395.9" cy="87.12" r="2.15"/></g>
<g fill="#ee1111"><circle cx="368.4" cy="100.44" r="2.15"/><circle cx="368.4" cy="103.77" r="2.15"/><circle cx="368.4" cy="107.1" r="2.15"/><circle cx="368.4" cy="110.43" r="2.15"/><circle cx="368.4" cy="113.76" r="2.15"/><circle cx="368.4" cy="117.09" r="2.15"/><circle cx="368.4" cy="120.42" r="2.15"/><circle cx="368.4" cy="123.75" r="2.15"/><circle cx="373.9" cy="53.82" r="2.15"/><circle cx="373.9" cy="97.11" r="2.15"/><circle cx="373.9" cy="100.44" r="2.15"/><circle cx="373.9" cy="103.77" r="2.15"/><circle cx="373.9" cy="107.1" r="2.15"/><circle cx="373.9" cy="110.43" r="2.15"/><circle cx="373.9" cy="113.76" r="2.15"/><circle cx="373.9" cy="117.09" r="2.15"/><circle cx="373.9" cy="120.42" r="2.15"/><circle cx="373.9" cy="123.75" r="2.15"/><circle cx="379.4" cy="47.16" r="2.15"/><circle cx="379.4" cy="50.49" r="2.15"/><circle cx="379.4" cy="53.82" r="2.15"/><circle cx="379.4" cy="77.13" r="2.15"/><circle cx="379.4" cy="90.45" r="2.15"/><circle cx="379.4" cy="93.78" r="2.15"/><circle cx="379.4" cy="97.11" r="2.15"/><circle cx="379.4" cy="100.44" r="2.15"/><circle cx="379.4" cy="103.77" r="2.15"/><circle cx="379.4" cy="107.1" r="2.15"/><circle cx="379.4" cy="110.43" r="2.15"/><circle cx="379.4" cy="113.76" r="2.15"/><circle cx="379.4" cy="117.09" r="2.15"/><circle cx="379.4" cy="120.42" r="2.15"/><circle cx="379.4" cy="123.75" r="2.15"/><circle cx="384.9" cy="47.16" r="2.15"/><circle cx="384.9" cy="50.49" r="2.15"/><circle cx="384.9" cy="53.82" r="2.15"/><circle cx="384.9" cy="57.15" r="2.15"/><circle cx="384.9" cy="63.81" r="2.15"/><circle cx="384.9" cy="67.14" r="2.15"/><circle cx="384.9" cy="70.47" r="2.15"/><circle cx="384.9" cy="73.8" r="2.15"/><circle cx="384.9" cy="77.13" r="2.15"/><circle cx="384.9" cy="90.45" r="2.15"/><circle cx="384.9" cy="93.78" r="2.15"/><circle cx="384.9" cy="97.11" r="2.15"/><circle cx="390.4" cy="47.16" r="2.15"/><circle cx="390.4" cy="50.49" r="2.15"/><circle cx="390.4" cy="53.82" r="2.15"/><circle cx="390.4" cy="57.15" r="2.15"/><circle cx="390.4" cy="60.48" r="2.15"/><circle cx="390.4" cy="63.81" r="2.15"/><circle cx="390.4" cy="67.14" r="2.15"/><circle cx="390.4" cy="70.47" r="2.15"/><circle cx="390.4" cy="73.8" r="2.15"/><circle cx="390.4" cy="77.13" r="2.15"/><circle cx="395.9" cy="47.16" r="2.15"/><circle cx="395.9" cy="50.49" r="2.15"/><circle cx="395.9" cy="53.82" r="2.15"/><circle cx="395.9" cy="57.15" r="2.15"/><circle cx="395.9" cy="60.48" r="2.15"/><circle cx="395.9" cy="63.81" r="2.15"/><circle cx="395.9" cy="67.14" r="2.15"/><circle cx="395.9" cy="70.47" r="2.15"/><circle cx="395.9" cy="73.8" r="2.15"/><circle cx="395.9" cy="77.13" r="2.15"/><circle cx="395.9" cy="80.46" r="2.15"/><circle cx="401.4" cy="63.81" r="2.15"/><circle cx="401.4" cy="67.14" r="2.15"/><circle cx="401.4" cy="70.47" r="2.15"/><circle cx="401.4" cy="73.8" r="2.15"/><circle cx="401.4" cy="77.13" r="2.15"/><circle cx="401.4" cy="80.46" r="2.15"/><circle cx="401.4" cy="83.79" r="2.15"/><circle cx="401.4" cy="87.12" r="2.15"/><circle cx="401.4" cy="90.45" r="2.15"/><circle cx="406.9" cy="37.17" r="2.15"/><circle cx="406.9" cy="40.5" r="2.15"/><circle cx="406.9" cy="43.83" r="2.15"/><circle cx="406.9" cy="47.16" r="2.15"/><circle cx="406.9" cy="77.13" r="2.15"/><circle cx="406.9" cy="80.46" r="2.15"/><circle cx="406.9" cy="83.79" r="2.15"/><circle cx="406.9" cy="87.12" r="2.15"/><circle cx="406.9" cy="90.45" r="2.15"/><circle cx="406.9" cy="93.78" r="2.15"/><circle cx="406.9" cy="97.11" r="2.15"/><circle cx="406.9" cy="100.44" r="2.15"/><circle cx="406.9" cy="103.77" r="2.15"/><circle cx="406.9" cy="107.1" r="2.15"/><circle cx="412.4" cy="47.16" r="2.15"/><circle cx="412.4" cy="50.49" r="2.15"/><circle cx="412.4" cy="53.82" r="2.15"/><circle cx="412.4" cy="57.15" r="2.15"/><circle cx="412.4" cy="60.48" r="2.15"/><circle cx="412.4" cy="63.81" r="2.15"/><circle cx="412.4" cy="67.14" r="2.15"/><circle cx="412.4" cy="70.47" r="2.15"/><circle cx="412.4" cy="73.8" r="2.15"/><circle cx="412.4" cy="77.13" r="2.15"/><circle cx="412.4" cy="80.46" r="2.15"/><circle cx="412.4" cy="83.79" r="2.15"/><circle cx="412.4" cy="87.12" r="2.15"/><circle cx="412.4" cy="90.45" r="2.15"/><circle cx="412.4" cy="93.78" r="2.15"/><circle cx="412.4" cy="97.11" r="2.15"/><circle cx="412.4" cy="100.44" r="2.15"/><circle cx="417.9" cy="57.15" r="2.15"/><circle cx="417.9" cy="60.48" r="2.15"/><circle cx="417.9" cy="63.81" r="2.15"/><circle cx="417.9" cy="67.14" r="2.15"/><circle cx="417.9" cy="70.47" r="2.15"/><circle cx="417.9" cy="87.12" r="2.15"/><circle cx="417.9" cy="90.45" r="2.15"/></g>
<g fill="#3a88e8"><circle cx="379.4" cy="43.83" r="2.15"/><circle cx="384.9" cy="37.17" r="2.15"/><circle cx="384.9" cy="40.5" r="2.15"/><circle cx="384.9" cy="43.83" r="2.15"/><circle cx="390.4" cy="30.51" r="2.15"/><circle cx="390.4" cy="33.84" r="2.15"/><circle cx="390.4" cy="37.17" r="2.15"/><circle cx="390.4" cy="40.5" r="2.15"/><circle cx="390.4" cy="43.83" r="2.15"/><circle cx="395.9" cy="30.51" r="2.15"/><circle cx="395.9" cy="33.84" r="2.15"/><circle cx="395.9" cy="37.17" r="2.15"/><circle cx="395.9" cy="40.5" r="2.15"/></g>
<g fill="#f514c8"><circle cx="384.9" cy="100.44" r="2.15"/><circle cx="384.9" cy="103.77" r="2.15"/><circle cx="384.9" cy="107.1" r="2.15"/><circle cx="384.9" cy="110.43" r="2.15"/><circle cx="384.9" cy="113.76" r="2.15"/><circle cx="384.9" cy="117.09" r="2.15"/><circle cx="384.9" cy="120.42" r="2.15"/><circle cx="390.4" cy="90.45" r="2.15"/><circle cx="390.4" cy="93.78" r="2.15"/><circle cx="390.4" cy="97.11" r="2.15"/><circle cx="390.4" cy="100.44" r="2.15"/><circle cx="390.4" cy="103.77" r="2.15"/><circle cx="390.4" cy="107.1" r="2.15"/><circle cx="390.4" cy="110.43" r="2.15"/><circle cx="390.4" cy="113.76" r="2.15"/><circle cx="390.4" cy="117.09" r="2.15"/><circle cx="395.9" cy="90.45" r="2.15"/><circle cx="395.9" cy="93.78" r="2.15"/><circle cx="395.9" cy="97.11" r="2.15"/><circle cx="395.9" cy="100.44" r="2.15"/><circle cx="395.9" cy="103.77" r="2.15"/><circle cx="395.9" cy="107.1" r="2.15"/><circle cx="395.9" cy="110.43" r="2.15"/><circle cx="395.9" cy="113.76" r="2.15"/><circle cx="401.4" cy="93.78" r="2.15"/><circle cx="401.4" cy="97.11" r="2.15"/><circle cx="401.4" cy="100.44" r="2.15"/><circle cx="401.4" cy="103.77" r="2.15"/><circle cx="401.4" cy="107.1" r="2.15"/><circle cx="401.4" cy="110.43" r="2.15"/></g>
<rect x="246.9" y="6.6" width="184.3" height="133.6" fill="none" stroke="#b4b4b4" stroke-width="0.8"/>
<g font-family="'DejaVu Sans','Liberation Sans',sans-serif" font-size="6.8" fill="#1a1a1a">
<text x="244.5" y="142.6" text-anchor="end">10</text>
<text x="244.5" y="125.95" text-anchor="end">15</text>
<text x="244.5" y="109.3" text-anchor="end">20</text>
<text x="244.5" y="92.65" text-anchor="end">25</text>
<text x="244.5" y="76" text-anchor="end">30</text>
<text x="244.5" y="59.35" text-anchor="end">35</text>
<text x="244.5" y="42.7" text-anchor="end">40</text>
<text x="244.5" y="26.05" text-anchor="end">45</text>
<text x="244.5" y="9.4" text-anchor="end">50</text>
<text x="258.4" y="147.8" text-anchor="middle">10</text>
<text x="285.9" y="147.8" text-anchor="middle">15</text>
<text x="313.4" y="147.8" text-anchor="middle">20</text>
<text x="340.9" y="147.8" text-anchor="middle">25</text>
<text x="368.4" y="147.8" text-anchor="middle">30</text>
<text x="395.9" y="147.8" text-anchor="middle">35</text>
<text x="423.4" y="147.8" text-anchor="middle">40</text>
</g>
<text x="339.05" y="158.8" text-anchor="middle" font-family="'DejaVu Sans','Liberation Sans',sans-serif" font-size="11" fill="#111">X Co-ordinates</text>
<text transform="translate(232.5 73.4) rotate(-90)" text-anchor="middle" font-family="'DejaVu Sans','Liberation Sans',sans-serif" font-size="11.1" fill="#111">Y Co-ordinates</text>
<text x="337.4" y="170" text-anchor="middle" font-family="'Liberation Sans',sans-serif" font-weight="bold" font-size="8" fill="#1a1a1a">(b)</text>
<g fill="#dc0a28"><circle cx="39.3" cy="253.24" r="2.15"/><circle cx="39.3" cy="256.57" r="2.15"/><circle cx="39.3" cy="259.9" r="2.15"/><circle cx="39.3" cy="263.23" r="2.15"/><circle cx="39.3" cy="266.56" r="2.15"/><circle cx="44.8" cy="236.59" r="2.15"/><circle cx="44.8" cy="239.92" r="2.15"/><circle cx="44.8" cy="243.25" r="2.15"/><circle cx="44.8" cy="246.58" r="2.15"/><circle cx="44.8" cy="249.91" r="2.15"/><circle cx="44.8" cy="253.24" r="2.15"/><circle cx="44.8" cy="256.57" r="2.15"/><circle cx="44.8" cy="259.9" r="2.15"/><circle cx="44.8" cy="263.23" r="2.15"/><circle cx="44.8" cy="266.56" r="2.15"/><circle cx="44.8" cy="269.89" r="2.15"/><circle cx="44.8" cy="273.22" r="2.15"/><circle cx="44.8" cy="276.55" r="2.15"/><circle cx="44.8" cy="279.88" r="2.15"/><circle cx="50.3" cy="236.59" r="2.15"/><circle cx="50.3" cy="239.92" r="2.15"/><circle cx="50.3" cy="249.91" r="2.15"/><circle cx="50.3" cy="253.24" r="2.15"/><circle cx="50.3" cy="256.57" r="2.15"/><circle cx="50.3" cy="259.9" r="2.15"/><circle cx="50.3" cy="263.23" r="2.15"/><circle cx="50.3" cy="266.56" r="2.15"/><circle cx="50.3" cy="269.89" r="2.15"/><circle cx="50.3" cy="273.22" r="2.15"/><circle cx="50.3" cy="276.55" r="2.15"/><circle cx="50.3" cy="279.88" r="2.15"/></g>
<g fill="#b5200f"><circle cx="50.3" cy="226.6" r="2.15"/><circle cx="50.3" cy="229.93" r="2.15"/><circle cx="50.3" cy="233.26" r="2.15"/><circle cx="55.8" cy="223.27" r="2.15"/><circle cx="55.8" cy="226.6" r="2.15"/><circle cx="55.8" cy="229.93" r="2.15"/><circle cx="61.3" cy="219.94" r="2.15"/><circle cx="61.3" cy="223.27" r="2.15"/><circle cx="61.3" cy="226.6" r="2.15"/><circle cx="66.8" cy="216.61" r="2.15"/><circle cx="66.8" cy="219.94" r="2.15"/><circle cx="66.8" cy="223.27" r="2.15"/><circle cx="72.3" cy="216.61" r="2.15"/><circle cx="72.3" cy="219.94" r="2.15"/><circle cx="77.8" cy="216.61" r="2.15"/><circle cx="77.8" cy="219.94" r="2.15"/><circle cx="83.3" cy="209.95" r="2.15"/><circle cx="83.3" cy="213.28" r="2.15"/><circle cx="83.3" cy="216.61" r="2.15"/><circle cx="83.3" cy="219.94" r="2.15"/><circle cx="88.8" cy="209.95" r="2.15"/><circle cx="88.8" cy="213.28" r="2.15"/><circle cx="88.8" cy="216.61" r="2.15"/><circle cx="94.3" cy="206.62" r="2.15"/><circle cx="94.3" cy="209.95" r="2.15"/><circle cx="94.3" cy="213.28" r="2.15"/><circle cx="99.8" cy="206.62" r="2.15"/><circle cx="99.8" cy="209.95" r="2.15"/><circle cx="99.8" cy="213.28" r="2.15"/><circle cx="182.3" cy="216.61" r="2.15"/><circle cx="182.3" cy="219.94" r="2.15"/><circle cx="182.3" cy="223.27" r="2.15"/><circle cx="182.3" cy="226.6" r="2.15"/><circle cx="182.3" cy="229.93" r="2.15"/><circle cx="182.3" cy="233.26" r="2.15"/><circle cx="182.3" cy="236.59" r="2.15"/><circle cx="182.3" cy="239.92" r="2.15"/><circle cx="182.3" cy="243.25" r="2.15"/><circle cx="182.3" cy="246.58" r="2.15"/><circle cx="187.8" cy="236.59" r="2.15"/><circle cx="187.8" cy="239.92" r="2.15"/><circle cx="187.8" cy="243.25" r="2.15"/><circle cx="187.8" cy="246.58" r="2.15"/><circle cx="187.8" cy="249.91" r="2.15"/><circle cx="187.8" cy="253.24" r="2.15"/><circle cx="187.8" cy="256.57" r="2.15"/><circle cx="187.8" cy="259.9" r="2.15"/></g>
<g fill="#e07888"><circle cx="50.3" cy="243.25" r="2.15"/><circle cx="50.3" cy="246.58" r="2.15"/><circle cx="55.8" cy="233.26" r="2.15"/><circle cx="55.8" cy="236.59" r="2.15"/><circle cx="55.8" cy="239.92" r="2.15"/><circle cx="55.8" cy="243.25" r="2.15"/><circle cx="55.8" cy="246.58" r="2.15"/><circle cx="55.8" cy="249.91" r="2.15"/><circle cx="55.8" cy="253.24" r="2.15"/><circle cx="55.8" cy="256.57" r="2.15"/><circle cx="55.8" cy="259.9" r="2.15"/><circle cx="55.8" cy="263.23" r="2.15"/><circle cx="55.8" cy="266.56" r="2.15"/><circle cx="55.8" cy="269.89" r="2.15"/><circle cx="61.3" cy="239.92" r="2.15"/><circle cx="61.3" cy="243.25" r="2.15"/><circle cx="61.3" cy="246.58" r="2.15"/><circle cx="61.3" cy="253.24" r="2.15"/><circle cx="61.3" cy="256.57" r="2.15"/><circle cx="61.3" cy="259.9" r="2.15"/><circle cx="61.3" cy="263.23" r="2.15"/><circle cx="61.3" cy="266.56" r="2.15"/><circle cx="61.3" cy="269.89" r="2.15"/><circle cx="66.8" cy="263.23" r="2.15"/><circle cx="66.8" cy="266.56" r="2.15"/></g>
<g fill="#1f4f9f"><circle cx="50.3" cy="283.21" r="2.15"/><circle cx="50.3" cy="286.54" r="2.15"/><circle cx="50.3" cy="289.87" r="2.15"/><circle cx="55.8" cy="273.22" r="2.15"/><circle cx="55.8" cy="276.55" r="2.15"/><circle cx="55.8" cy="279.88" r="2.15"/><circle cx="55.8" cy="283.21" r="2.15"/><circle cx="55.8" cy="286.54" r="2.15"/><circle cx="55.8" cy="289.87" r="2.15"/><circle cx="61.3" cy="273.22" r="2.15"/><circle cx="61.3" cy="276.55" r="2.15"/><circle cx="61.3" cy="279.88" r="2.15"/><circle cx="61.3" cy="283.21" r="2.15"/><circle cx="61.3" cy="286.54" r="2.15"/><circle cx="61.3" cy="289.87" r="2.15"/><circle cx="66.8" cy="259.9" r="2.15"/><circle cx="66.8" cy="269.89" r="2.15"/><circle cx="66.8" cy="273.22" r="2.15"/><circle cx="66.8" cy="276.55" r="2.15"/><circle cx="66.8" cy="279.88" r="2.15"/><circle cx="66.8" cy="289.87" r="2.15"/><circle cx="72.3" cy="259.9" r="2.15"/><circle cx="72.3" cy="263.23" r="2.15"/><circle cx="72.3" cy="266.56" r="2.15"/><circle cx="72.3" cy="269.89" r="2.15"/><circle cx="72.3" cy="273.22" r="2.15"/><circle cx="72.3" cy="276.55" r="2.15"/><circle cx="72.3" cy="289.87" r="2.15"/></g>
<g fill="#f82010"><circle cx="55.8" cy="293.2" r="2.15"/><circle cx="55.8" cy="296.53" r="2.15"/><circle cx="55.8" cy="299.86" r="2.15"/><circle cx="61.3" cy="293.2" r="2.15"/><circle cx="61.3" cy="296.53" r="2.15"/><circle cx="61.3" cy="299.86" r="2.15"/><circle cx="61.3" cy="303.19" r="2.15"/><circle cx="66.8" cy="293.2" r="2.15"/><circle cx="66.8" cy="296.53" r="2.15"/><circle cx="66.8" cy="299.86" r="2.15"/><circle cx="66.8" cy="303.19" r="2.15"/><circle cx="66.8" cy="306.52" r="2.15"/><circle cx="72.3" cy="293.2" r="2.15"/><circle cx="72.3" cy="296.53" r="2.15"/><circle cx="72.3" cy="299.86" r="2.15"/><circle cx="72.3" cy="303.19" r="2.15"/><circle cx="72.3" cy="306.52" r="2.15"/><circle cx="77.8" cy="289.87" r="2.15"/><circle cx="77.8" cy="293.2" r="2.15"/><circle cx="77.8" cy="296.53" r="2.15"/><circle cx="77.8" cy="299.86" r="2.15"/><circle cx="77.8" cy="303.19" r="2.15"/><circle cx="77.8" cy="306.52" r="2.15"/><circle cx="77.8" cy="309.85" r="2.15"/><circle cx="83.3" cy="289.87" r="2.15"/><circle cx="83.3" cy="293.2" r="2.15"/><circle cx="83.3" cy="296.53" r="2.15"/><circle cx="83.3" cy="299.86" r="2.15"/><circle cx="83.3" cy="303.19" r="2.15"/><circle cx="83.3" cy="306.52" r="2.15"/><circle cx="83.3" cy="309.85" r="2.15"/><circle cx="105.3" cy="206.62" r="2.15"/><circle cx="105.3" cy="209.95" r="2.15"/><circle cx="105.3" cy="213.28" r="2.15"/><circle cx="110.8" cy="203.29" r="2.15"/><circle cx="110.8" cy="206.62" r="2.15"/><circle cx="110.8" cy="209.95" r="2.15"/><circle cx="110.8" cy="213.28" r="2.15"/><circle cx="116.3" cy="203.29" r="2.15"/><circle cx="116.3" cy="206.62" r="2.15"/><circle cx="116.3" cy="209.95" r="2.15"/><circle cx="121.8" cy="203.29" r="2.15"/><circle cx="121.8" cy="206.62" r="2.15"/><circle cx="121.8" cy="209.95" r="2.15"/><circle cx="127.3" cy="203.29" r="2.15"/><circle cx="127.3" cy="206.62" r="2.15"/><circle cx="127.3" cy="209.95" r="2.15"/><circle cx="127.3" cy="213.28" r="2.15"/></g>
<g fill="#ffe414"><circle cx="61.3" cy="229.93" r="2.15"/><circle cx="66.8" cy="226.6" r="2.15"/><circle cx="66.8" cy="229.93" r="2.15"/><circle cx="66.8" cy="283.21" r="2.15"/><circle cx="66.8" cy="286.54" r="2.15"/><circle cx="72.3" cy="223.27" r="2.15"/><circle cx="72.3" cy="226.6" r="2.15"/><circle cx="72.3" cy="229.93" r="2.15"/><circle cx="72.3" cy="279.88" r="2.15"/><circle cx="72.3" cy="283.21" r="2.15"/><circle cx="72.3" cy="286.54" r="2.15"/><circle cx="77.8" cy="223.27" r="2.15"/><circle cx="77.8" cy="226.6" r="2.15"/><circle cx="77.8" cy="229.93" r="2.15"/><circle cx="77.8" cy="259.9" r="2.15"/><circle cx="77.8" cy="263.23" r="2.15"/><circle cx="77.8" cy="266.56" r="2.15"/><circle cx="77.8" cy="269.89" r="2.15"/><circle cx="77.8" cy="273.22" r="2.15"/><circle cx="77.8" cy="276.55" r="2.15"/><circle cx="77.8" cy="279.88" r="2.15"/><circle cx="77.8" cy="283.21" r="2.15"/><circle cx="77.8" cy="286.54" r="2.15"/><circle cx="83.3" cy="223.27" r="2.15"/><circle cx="83.3" cy="226.6" r="2.15"/><circle cx="83.3" cy="229.93" r="2.15"/><circle cx="83.3" cy="249.91" r="2.15"/><circle cx="83.3" cy="253.24" r="2.15"/><circle cx="83.3" cy="256.57" r="2.15"/><circle cx="83.3" cy="259.9" r="2.15"/><circle cx="83.3" cy="263.23" r="2.15"/><circle cx="83.3" cy="266.56" r="2.15"/><circle cx="83.3" cy="269.89" r="2.15"/><circle cx="83.3" cy="273.22" r="2.15"/><circle cx="83.3" cy="276.55" r="2.15"/><circle cx="83.3" cy="279.88" r="2.15"/><circle cx="83.3" cy="283.21" r="2.15"/><circle cx="83.3" cy="286.54" r="2.15"/><circle cx="88.8" cy="223.27" r="2.15"/><circle cx="88.8" cy="226.6" r="2.15"/><circle cx="88.8" cy="229.93" r="2.15"/><circle cx="88.8" cy="246.58" r="2.15"/><circle cx="88.8" cy="249.91" r="2.15"/><circle cx="88.8" cy="253.24" r="2.15"/><circle cx="88.8" cy="256.57" r="2.15"/><circle cx="88.8" cy="259.9" r="2.15"/><circle cx="88.8" cy="263.23" r="2.15"/><circle cx="88.8" cy="266.56" r="2.15"/><circle cx="88.8" cy="269.89" r="2.15"/><circle cx="88.8" cy="273.22" r="2.15"/><circle cx="88.8" cy="276.55" r="2.15"/><circle cx="88.8" cy="279.88" r="2.15"/><circle cx="94.3" cy="249.91" r="2.15"/><circle cx="94.3" cy="253.24" r="2.15"/><circle cx="94.3" cy="256.57" r="2.15"/><circle cx="94.3" cy="259.9" r="2.15"/><circle cx="94.3" cy="263.23" r="2.15"/><circle cx="94.3" cy="266.56" r="2.15"/><circle cx="94.3" cy="269.89" r="2.15"/><circle cx="94.3" cy="273.22" r="2.15"/><circle cx="94.3" cy="276.55" r="2.15"/><circle cx="94.3" cy="279.88" r="2.15"/><circle cx="94.3" cy="283.21" r="2.15"/><circle cx="94.3" cy="286.54" r="2.15"/><circle cx="94.3" cy="289.87" r="2.15"/><circle cx="99.8" cy="273.22" r="2.15"/><circle cx="99.8" cy="276.55" r="2.15"/><circle cx="99.8" cy="279.88" r="2.15"/><circle cx="99.8" cy="283.21" r="2.15"/><circle cx="99.8" cy="286.54" r="2.15"/><circle cx="99.8" cy="289.87" r="2.15"/><circle cx="99.8" cy="293.2" r="2.15"/><circle cx="105.3" cy="216.61" r="2.15"/><circle cx="105.3" cy="219.94" r="2.15"/><circle cx="105.3" cy="279.88" r="2.15"/><circle cx="105.3" cy="283.21" r="2.15"/><circle cx="105.3" cy="286.54" r="2.15"/><circle cx="105.3" cy="289.87" r="2.15"/><circle cx="105.3" cy="293.2" r="2.15"/><circle cx="110.8" cy="216.61" r="2.15"/><circle cx="110.8" cy="219.94" r="2.15"/><circle cx="116.3" cy="213.28" r="2.15"/><circle cx="116.3" cy="216.61" r="2.15"/><circle cx="116.3" cy="219.94" r="2.15"/><circle cx="116.3" cy="223.27" r="2.15"/><circle cx="116.3" cy="226.6" r="2.15"/><circle cx="116.3" cy="229.93" r="2.15"/><circle cx="116.3" cy="249.91" r="2.15"/><circle cx="116.3" cy="253.24" r="2.15"/><circle cx="116.3" cy="283.21" r="2.15"/><circle cx="116.3" cy="286.54" r="2.15"/><circle cx="121.8" cy="229.93" r="2.15"/><circle cx="121.8" cy="233.26" r="2.15"/><circle cx="121.8" cy="236.59" r="2.15"/><circle cx="121.8" cy="239.92" r="2.15"/><circle cx="121.8" cy="243.25" r="2.15"/><circle cx="121.8" cy="246.58" r="2.15"/><circle cx="121.8" cy="249.91" r="2.15"/><circle cx="121.8" cy="253.24" r="2.15"/><circle cx="121.8" cy="283.21" r="2.15"/><circle cx="121.8" cy="286.54" r="2.15"/><circle cx="127.3" cy="233.26" r="2.15"/><circle cx="127.3" cy="236.59" r="2.15"/><circle cx="127.3" cy="239.92" r="2.15"/><circle cx="138.3" cy="223.27" r="2.15"/><circle cx="138.3" cy="226.6" r="2.15"/><circle cx="138.3" cy="229.93" r="2.15"/><circle cx="138.3" cy="233.26" r="2.15"/><circle cx="138.3" cy="236.59" r="2.15"/><circle cx="138.3" cy="243.25" r="2.15"/><circle cx="138.3" cy="246.58" r="2.15"/><circle cx="138.3" cy="249.91" r="2.15"/><circle cx="143.8" cy="223.27" r="2.15"/><circle cx="143.8" cy="226.6" r="2.15"/><circle cx="143.8" cy="229.93" r="2.15"/><circle cx="143.8" cy="233.26" r="2.15"/><circle cx="143.8" cy="236.59" r="2.15"/><circle cx="143.8" cy="239.92" r="2.15"/><circle cx="149.3" cy="223.27" r="2.15"/><circle cx="149.3" cy="226.6" r="2.15"/><circle cx="149.3" cy="229.93" r="2.15"/></g>
<g fill="#f5c60c"><circle cx="61.3" cy="233.26" r="2.15"/><circle cx="61.3" cy="236.59" r="2.15"/><circle cx="66.8" cy="233.26" r="2.15"/><circle cx="66.8" cy="236.59" r="2.15"/><circle cx="66.8" cy="239.92" r="2.15"/><circle cx="72.3" cy="233.26" r="2.15"/><circle cx="72.3" cy="236.59" r="2.15"/><circle cx="72.3" cy="239.92" r="2.15"/><circle cx="77.8" cy="233.26" r="2.15"/><circle cx="77.8" cy="236.59" r="2.15"/><circle cx="77.8" cy="239.92" r="2.15"/><circle cx="83.3" cy="233.26" r="2.15"/><circle cx="83.3" cy="236.59" r="2.15"/><circle cx="83.3" cy="239.92" r="2.15"/><circle cx="88.8" cy="233.26" r="2.15"/><circle cx="88.8" cy="236.59" r="2.15"/><circle cx="88.8" cy="239.92" r="2.15"/><circle cx="94.3" cy="236.59" r="2.15"/><circle cx="94.3" cy="239.92" r="2.15"/><circle cx="99.8" cy="239.92" r="2.15"/><circle cx="138.3" cy="216.61" r="2.15"/><circle cx="138.3" cy="219.94" r="2.15"/><circle cx="143.8" cy="219.94" r="2.15"/><circle cx="143.8" cy="243.25" r="2.15"/><circle cx="143.8" cy="246.58" r="2.15"/><circle cx="143.8" cy="249.91" r="2.15"/><circle cx="149.3" cy="219.94" r="2.15"/><circle cx="149.3" cy="233.26" r="2.15"/><circle cx="149.3" cy="236.59" r="2.15"/><circle cx="149.3" cy="239.92" r="2.15"/><circle cx="149.3" cy="243.25" r="2.15"/><circle cx="149.3" cy="246.58" r="2.15"/><circle cx="149.3" cy="249.91" r="2.15"/><circle cx="149.3" cy="253.24" r="2.15"/><circle cx="149.3" cy="256.57" r="2.15"/><circle cx="149.3" cy="259.9" r="2.15"/><circle cx="154.8" cy="219.94" r="2.15"/><circle cx="154.8" cy="223.27" r="2.15"/><circle cx="154.8" cy="226.6" r="2.15"/><circle cx="154.8" cy="229.93" r="2.15"/><circle cx="154.8" cy="233.26" r="2.15"/><circle cx="154.8" cy="236.59" r="2.15"/><circle cx="154.8" cy="239.92" r="2.15"/><circle cx="154.8" cy="243.25" r="2.15"/><circle cx="154.8" cy="246.58" r="2.15"/><circle cx="154.8" cy="249.91" r="2.15"/><circle cx="154.8" cy="253.24" r="2.15"/><circle cx="154.8" cy="256.57" r="2.15"/><circle cx="154.8" cy="259.9" r="2.15"/><circle cx="160.3" cy="219.94" r="2.15"/><circle cx="160.3" cy="223.27" r="2.15"/><circle cx="160.3" cy="226.6" r="2.15"/><circle cx="160.3" cy="229.93" r="2.15"/><circle cx="160.3" cy="246.58" r="2.15"/><circle cx="160.3" cy="249.91" r="2.15"/><circle cx="160.3" cy="253.24" r="2.15"/><circle cx="160.3" cy="256.57" r="2.15"/><circle cx="160.3" cy="259.9" r="2.15"/><circle cx="165.8" cy="246.58" r="2.15"/></g>
<g fill="#e6aa10"><circle cx="61.3" cy="249.91" r="2.15"/><circle cx="66.8" cy="243.25" r="2.15"/><circle cx="66.8" cy="246.58" r="2.15"/><circle cx="66.8" cy="249.91" r="2.15"/><circle cx="66.8" cy="253.24" r="2.15"/><circle cx="66.8" cy="256.57" r="2.15"/><circle cx="72.3" cy="243.25" r="2.15"/><circle cx="72.3" cy="246.58" r="2.15"/><circle cx="72.3" cy="249.91" r="2.15"/><circle cx="72.3" cy="253.24" r="2.15"/><circle cx="72.3" cy="256.57" r="2.15"/><circle cx="77.8" cy="243.25" r="2.15"/><circle cx="77.8" cy="246.58" r="2.15"/><circle cx="77.8" cy="249.91" r="2.15"/><circle cx="77.8" cy="253.24" r="2.15"/><circle cx="77.8" cy="256.57" r="2.15"/><circle cx="83.3" cy="243.25" r="2.15"/><circle cx="83.3" cy="246.58" r="2.15"/><circle cx="88.8" cy="219.94" r="2.15"/><circle cx="88.8" cy="243.25" r="2.15"/><circle cx="94.3" cy="243.25" r="2.15"/><circle cx="94.3" cy="246.58" r="2.15"/><circle cx="99.8" cy="243.25" r="2.15"/><circle cx="99.8" cy="246.58" r="2.15"/><circle cx="99.8" cy="249.91" r="2.15"/><circle cx="99.8" cy="253.24" r="2.15"/><circle cx="99.8" cy="256.57" r="2.15"/><circle cx="99.8" cy="259.9" r="2.15"/><circle cx="99.8" cy="263.23" r="2.15"/><circle cx="99.8" cy="266.56" r="2.15"/><circle cx="99.8" cy="269.89" r="2.15"/><circle cx="105.3" cy="249.91" r="2.15"/><circle cx="105.3" cy="253.24" r="2.15"/><circle cx="105.3" cy="256.57" r="2.15"/><circle cx="105.3" cy="259.9" r="2.15"/><circle cx="105.3" cy="263.23" r="2.15"/><circle cx="105.3" cy="266.56" r="2.15"/><circle cx="105.3" cy="269.89" r="2.15"/><circle cx="105.3" cy="273.22" r="2.15"/><circle cx="105.3" cy="276.55" r="2.15"/><circle cx="110.8" cy="249.91" r="2.15"/><circle cx="110.8" cy="253.24" r="2.15"/><circle cx="110.8" cy="256.57" r="2.15"/><circle cx="110.8" cy="259.9" r="2.15"/><circle cx="110.8" cy="263.23" r="2.15"/><circle cx="110.8" cy="266.56" r="2.15"/><circle cx="110.8" cy="269.89" r="2.15"/><circle cx="110.8" cy="273.22" r="2.15"/><circle cx="110.8" cy="276.55" r="2.15"/><circle cx="110.8" cy="279.88" r="2.15"/><circle cx="110.8" cy="283.21" r="2.15"/><circle cx="110.8" cy="286.54" r="2.15"/><circle cx="110.8" cy="289.87" r="2.15"/><circle cx="138.3" cy="253.24" r="2.15"/><circle cx="138.3" cy="256.57" r="2.15"/><circle cx="138.3" cy="259.9" r="2.15"/><circle cx="143.8" cy="253.24" r="2.15"/><circle cx="143.8" cy="256.57" r="2.15"/><circle cx="143.8" cy="259.9" r="2.15"/></g>
<g fill="#e0c418"><circle cx="88.8" cy="283.21" r="2.15"/><circle cx="88.8" cy="286.54" r="2.15"/><circle cx="88.8" cy="289.87" r="2.15"/></g>
<g fill="#f57a10"><circle cx="88.8" cy="293.2" r="2.15"/><circle cx="88.8" cy="296.53" r="2.15"/><circle cx="88.8" cy="299.86" r="2.15"/><circle cx="88.8" cy="303.19" r="2.15"/><circle cx="88.8" cy="306.52" r="2.15"/><circle cx="88.8" cy="309.85" r="2.15"/><circle cx="94.3" cy="293.2" r="2.15"/><circle cx="94.3" cy="296.53" r="2.15"/><circle cx="94.3" cy="299.86" r="2.15"/><circle cx="94.3" cy="303.19" r="2.15"/><circle cx="94.3" cy="306.52" r="2.15"/><circle cx="94.3" cy="309.85" r="2.15"/><circle cx="94.3" cy="313.18" r="2.15"/><circle cx="99.8" cy="296.53" r="2.15"/><circle cx="99.8" cy="299.86" r="2.15"/><circle cx="99.8" cy="303.19" r="2.15"/><circle cx="99.8" cy="306.52" r="2.15"/><circle cx="99.8" cy="309.85" r="2.15"/><circle cx="99.8" cy="313.18" r="2.15"/><circle cx="105.3" cy="296.53" r="2.15"/><circle cx="105.3" cy="299.86" r="2.15"/><circle cx="105.3" cy="303.19" r="2.15"/><circle cx="105.3" cy="306.52" r="2.15"/><circle cx="105.3" cy="309.85" r="2.15"/><circle cx="105.3" cy="313.18" r="2.15"/><circle cx="110.8" cy="309.85" r="2.15"/><circle cx="110.8" cy="313.18" r="2.15"/><circle cx="110.8" cy="316.51" r="2.15"/><circle cx="116.3" cy="309.85" r="2.15"/><circle cx="116.3" cy="313.18" r="2.15"/><circle cx="116.3" cy="316.51" r="2.15"/></g>
<g fill="#c8780a"><circle cx="94.3" cy="216.61" r="2.15"/><circle cx="94.3" cy="219.94" r="2.15"/><circle cx="94.3" cy="223.27" r="2.15"/><circle cx="94.3" cy="226.6" r="2.15"/><circle cx="94.3" cy="229.93" r="2.15"/><circle cx="94.3" cy="233.26" r="2.15"/><circle cx="99.8" cy="216.61" r="2.15"/><circle cx="99.8" cy="219.94" r="2.15"/><circle cx="99.8" cy="223.27" r="2.15"/><circle cx="99.8" cy="226.6" r="2.15"/><circle cx="99.8" cy="229.93" r="2.15"/><circle cx="99.8" cy="233.26" r="2.15"/><circle cx="99.8" cy="236.59" r="2.15"/><circle cx="105.3" cy="223.27" r="2.15"/><circle cx="105.3" cy="226.6" r="2.15"/><circle cx="105.3" cy="229.93" r="2.15"/><circle cx="105.3" cy="233.26" r="2.15"/><circle cx="105.3" cy="236.59" r="2.15"/><circle cx="105.3" cy="239.92" r="2.15"/><circle cx="105.3" cy="243.25" r="2.15"/><circle cx="105.3" cy="246.58" r="2.15"/><circle cx="110.8" cy="223.27" r="2.15"/><circle cx="110.8" cy="226.6" r="2.15"/><circle cx="110.8" cy="229.93" r="2.15"/><circle cx="110.8" cy="233.26" r="2.15"/><circle cx="110.8" cy="236.59" r="2.15"/><circle cx="110.8" cy="239.92" r="2.15"/><circle cx="110.8" cy="243.25" r="2.15"/><circle cx="110.8" cy="246.58" r="2.15"/><circle cx="116.3" cy="233.26" r="2.15"/><circle cx="116.3" cy="236.59" r="2.15"/><circle cx="116.3" cy="239.92" r="2.15"/><circle cx="116.3" cy="243.25" r="2.15"/><circle cx="116.3" cy="246.58" r="2.15"/></g>
<g fill="#b8122a"><circle cx="110.8" cy="293.2" r="2.15"/><circle cx="110.8" cy="296.53" r="2.15"/><circle cx="110.8" cy="299.86" r="2.15"/><circle cx="110.8" cy="303.19" r="2.15"/><circle cx="110.8" cy="306.52" r="2.15"/><circle cx="116.3" cy="289.87" r="2.15"/><circle cx="116.3" cy="293.2" r="2.15"/><circle cx="116.3" cy="296.53" r="2.15"/><circle cx="116.3" cy="299.86" r="2.15"/><circle cx="116.3" cy="303.19" r="2.15"/><circle cx="116.3" cy="306.52" r="2.15"/><circle cx="121.8" cy="289.87" r="2.15"/><circle cx="121.8" cy="293.2" r="2.15"/><circle cx="121.8" cy="296.53" r="2.15"/><circle cx="121.8" cy="299.86" r="2.15"/><circle cx="121.8" cy="303.19" r="2.15"/><circle cx="121.8" cy="306.52" r="2.15"/><circle cx="121.8" cy="309.85" r="2.15"/><circle cx="121.8" cy="313.18" r="2.15"/><circle cx="121.8" cy="316.51" r="2.15"/><circle cx="127.3" cy="293.2" r="2.15"/><circle cx="127.3" cy="296.53" r="2.15"/><circle cx="127.3" cy="299.86" r="2.15"/><circle cx="127.3" cy="303.19" r="2.15"/><circle cx="127.3" cy="306.52" r="2.15"/><circle cx="127.3" cy="309.85" r="2.15"/><circle cx="127.3" cy="313.18" r="2.15"/><circle cx="127.3" cy="316.51" r="2.15"/></g>
<g fill="#f5c828"><circle cx="116.3" cy="256.57" r="2.15"/><circle cx="116.3" cy="259.9" r="2.15"/><circle cx="116.3" cy="263.23" r="2.15"/><circle cx="116.3" cy="266.56" r="2.15"/><circle cx="116.3" cy="269.89" r="2.15"/><circle cx="116.3" cy="273.22" r="2.15"/><circle cx="116.3" cy="276.55" r="2.15"/><circle cx="116.3" cy="279.88" r="2.15"/><circle cx="121.8" cy="256.57" r="2.15"/><circle cx="121.8" cy="259.9" r="2.15"/><circle cx="121.8" cy="263.23" r="2.15"/><circle cx="121.8" cy="266.56" r="2.15"/><circle cx="121.8" cy="269.89" r="2.15"/><circle cx="121.8" cy="273.22" r="2.15"/><circle cx="121.8" cy="276.55" r="2.15"/><circle cx="121.8" cy="279.88" r="2.15"/><circle cx="127.3" cy="243.25" r="2.15"/><circle cx="127.3" cy="246.58" r="2.15"/><circle cx="127.3" cy="249.91" r="2.15"/><circle cx="127.3" cy="253.24" r="2.15"/><circle cx="127.3" cy="256.57" r="2.15"/><circle cx="127.3" cy="259.9" r="2.15"/><circle cx="127.3" cy="263.23" r="2.15"/><circle cx="127.3" cy="266.56" r="2.15"/><circle cx="127.3" cy="269.89" r="2.15"/><circle cx="127.3" cy="273.22" r="2.15"/><circle cx="127.3" cy="276.55" r="2.15"/><circle cx="127.3" cy="279.88" r="2.15"/><circle cx="127.3" cy="283.21" r="2.15"/><circle cx="138.3" cy="263.23" r="2.15"/><circle cx="138.3" cy="266.56" r="2.15"/><circle cx="138.3" cy="269.89" r="2.15"/><circle cx="138.3" cy="273.22" r="2.15"/><circle cx="138.3" cy="276.55" r="2.15"/><circle cx="138.3" cy="279.88" r="2.15"/><circle cx="138.3" cy="283.21" r="2.15"/><circle cx="143.8" cy="273.22" r="2.15"/><circle cx="143.8" cy="276.55" r="2.15"/><circle cx="143.8" cy="279.88" r="2.15"/><circle cx="143.8" cy="283.21" r="2.15"/><circle cx="149.3" cy="273.22" r="2.15"/><circle cx="149.3" cy="276.55" r="2.15"/><circle cx="149.3" cy="279.88" r="2.15"/><circle cx="149.3" cy="283.21" r="2.15"/></g>
<g fill="#f3d66a"><circle cx="121.8" cy="213.28" r="2.15"/><circle cx="121.8" cy="216.61" r="2.15"/><circle cx="121.8" cy="219.94" r="2.15"/><circle cx="121.8" cy="223.27" r="2.15"/><circle cx="121.8" cy="226.6" r="2.15"/><circle cx="127.3" cy="216.61" r="2.15"/><circle cx="127.3" cy="219.94" r="2.15"/><circle cx="127.3" cy="223.27" r="2.15"/><circle cx="127.3" cy="226.6" r="2.15"/><circle cx="127.3" cy="229.93" r="2.15"/><circle cx="132.8" cy="216.61" r="2.15"/><circle cx="132.8" cy="219.94" r="2.15"/><circle cx="132.8" cy="223.27" r="2.15"/><circle cx="132.8" cy="226.6" r="2.15"/><circle cx="132.8" cy="229.93" r="2.15"/><circle cx="132.8" cy="233.26" r="2.15"/><circle cx="132.8" cy="236.59" r="2.15"/><circle cx="132.8" cy="239.92" r="2.15"/><circle cx="132.8" cy="243.25" r="2.15"/><circle cx="132.8" cy="246.58" r="2.15"/><circle cx="132.8" cy="249.91" r="2.15"/><circle cx="132.8" cy="253.24" r="2.15"/><circle cx="132.8" cy="256.57" r="2.15"/><circle cx="132.8" cy="259.9" r="2.15"/><circle cx="132.8" cy="263.23" r="2.15"/><circle cx="132.8" cy="266.56" r="2.15"/><circle cx="132.8" cy="269.89" r="2.15"/><circle cx="132.8" cy="273.22" r="2.15"/><circle cx="132.8" cy="276.55" r="2.15"/><circle cx="132.8" cy="279.88" r="2.15"/><circle cx="132.8" cy="283.21" r="2.15"/><circle cx="138.3" cy="239.92" r="2.15"/><circle cx="154.8" cy="273.22" r="2.15"/><circle cx="154.8" cy="276.55" r="2.15"/><circle cx="154.8" cy="279.88" r="2.15"/></g>
<g fill="#e03a30"><circle cx="127.3" cy="286.54" r="2.15"/><circle cx="127.3" cy="289.87" r="2.15"/><circle cx="132.8" cy="206.62" r="2.15"/><circle cx="132.8" cy="209.95" r="2.15"/><circle cx="132.8" cy="213.28" r="2.15"/><circle cx="132.8" cy="286.54" r="2.15"/><circle cx="132.8" cy="289.87" r="2.15"/><circle cx="132.8" cy="293.2" r="2.15"/><circle cx="132.8" cy="296.53" r="2.15"/><circle cx="132.8" cy="299.86" r="2.15"/><circle cx="132.8" cy="303.19" r="2.15"/><circle cx="132.8" cy="306.52" r="2.15"/><circle cx="132.8" cy="309.85" r="2.15"/><circle cx="132.8" cy="313.18" r="2.15"/><circle cx="138.3" cy="206.62" r="2.15"/><circle cx="138.3" cy="209.95" r="2.15"/><circle cx="138.3" cy="213.28" r="2.15"/><circle cx="138.3" cy="286.54" r="2.15"/><circle cx="138.3" cy="289.87" r="2.15"/><circle cx="138.3" cy="293.2" r="2.15"/><circle cx="138.3" cy="296.53" r="2.15"/><circle cx="138.3" cy="299.86" r="2.15"/><circle cx="138.3" cy="303.19" r="2.15"/><circle cx="138.3" cy="306.52" r="2.15"/><circle cx="138.3" cy="309.85" r="2.15"/><circle cx="138.3" cy="313.18" r="2.15"/><circle cx="143.8" cy="206.62" r="2.15"/><circle cx="143.8" cy="209.95" r="2.15"/><circle cx="143.8" cy="213.28" r="2.15"/><circle cx="143.8" cy="216.61" r="2.15"/><circle cx="143.8" cy="286.54" r="2.15"/><circle cx="143.8" cy="289.87" r="2.15"/><circle cx="143.8" cy="293.2" r="2.15"/><circle cx="143.8" cy="296.53" r="2.15"/><circle cx="143.8" cy="299.86" r="2.15"/><circle cx="143.8" cy="303.19" r="2.15"/><circle cx="143.8" cy="306.52" r="2.15"/><circle cx="143.8" cy="309.85" r="2.15"/><circle cx="143.8" cy="313.18" r="2.15"/><circle cx="149.3" cy="209.95" r="2.15"/><circle cx="149.3" cy="213.28" r="2.15"/><circle cx="149.3" cy="216.61" r="2.15"/><circle cx="154.8" cy="209.95" r="2.15"/><circle cx="154.8" cy="213.28" r="2.15"/><circle cx="154.8" cy="216.61" r="2.15"/><circle cx="160.3" cy="209.95" r="2.15"/><circle cx="160.3" cy="213.28" r="2.15"/><circle cx="160.3" cy="216.61" r="2.15"/><circle cx="165.8" cy="213.28" r="2.15"/><circle cx="165.8" cy="216.61" r="2.15"/><circle cx="171.3" cy="213.28" r="2.15"/></g>
<g fill="#10e0f5"><circle cx="143.8" cy="263.23" r="2.15"/><circle cx="143.8" cy="266.56" r="2.15"/><circle cx="143.8" cy="269.89" r="2.15"/><circle cx="149.3" cy="263.23" r="2.15"/><circle cx="149.3" cy="266.56" r="2.15"/><circle cx="149.3" cy="269.89" r="2.15"/><circle cx="154.8" cy="263.23" r="2.15"/><circle cx="154.8" cy="266.56" r="2.15"/><circle cx="154.8" cy="269.89" r="2.15"/><circle cx="160.3" cy="263.23" r="2.15"/><circle cx="160.3" cy="266.56" r="2.15"/><circle cx="160.3" cy="269.89" r="2.15"/><circle cx="160.3" cy="273.22" r="2.15"/><circle cx="165.8" cy="266.56" r="2.15"/><circle cx="165.8" cy="269.89" r="2.15"/><circle cx="165.8" cy="273.22" r="2.15"/><circle cx="171.3" cy="266.56" r="2.15"/><circle cx="171.3" cy="269.89" r="2.15"/><circle cx="171.3" cy="273.22" r="2.15"/><circle cx="176.8" cy="269.89" r="2.15"/><circle cx="176.8" cy="273.22" r="2.15"/></g>
<g fill="#ee1111"><circle cx="149.3" cy="286.54" r="2.15"/><circle cx="149.3" cy="289.87" r="2.15"/><circle cx="149.3" cy="293.2" r="2.15"/><circle cx="149.3" cy="296.53" r="2.15"/><circle cx="149.3" cy="299.86" r="2.15"/><circle cx="149.3" cy="303.19" r="2.15"/><circle cx="149.3" cy="306.52" r="2.15"/><circle cx="149.3" cy="309.85" r="2.15"/><circle cx="154.8" cy="283.21" r="2.15"/><circle cx="154.8" cy="286.54" r="2.15"/><circle cx="154.8" cy="289.87" r="2.15"/><circle cx="154.8" cy="293.2" r="2.15"/><circle cx="154.8" cy="296.53" r="2.15"/><circle cx="154.8" cy="299.86" r="2.15"/><circle cx="154.8" cy="303.19" r="2.15"/><circle cx="154.8" cy="306.52" r="2.15"/><circle cx="154.8" cy="309.85" r="2.15"/><circle cx="160.3" cy="233.26" r="2.15"/><circle cx="160.3" cy="236.59" r="2.15"/><circle cx="160.3" cy="239.92" r="2.15"/><circle cx="160.3" cy="243.25" r="2.15"/><circle cx="160.3" cy="276.55" r="2.15"/><circle cx="160.3" cy="279.88" r="2.15"/><circle cx="160.3" cy="283.21" r="2.15"/><circle cx="160.3" cy="286.54" r="2.15"/><circle cx="160.3" cy="289.87" r="2.15"/><circle cx="160.3" cy="293.2" r="2.15"/><circle cx="160.3" cy="296.53" r="2.15"/><circle cx="160.3" cy="299.86" r="2.15"/><circle cx="160.3" cy="303.19" r="2.15"/><circle cx="160.3" cy="306.52" r="2.15"/><circle cx="160.3" cy="309.85" r="2.15"/><circle cx="165.8" cy="233.26" r="2.15"/><circle cx="165.8" cy="236.59" r="2.15"/><circle cx="165.8" cy="239.92" r="2.15"/><circle cx="165.8" cy="243.25" r="2.15"/><circle cx="165.8" cy="249.91" r="2.15"/><circle cx="165.8" cy="253.24" r="2.15"/><circle cx="165.8" cy="256.57" r="2.15"/><circle cx="165.8" cy="259.9" r="2.15"/><circle cx="165.8" cy="263.23" r="2.15"/><circle cx="165.8" cy="276.55" r="2.15"/><circle cx="165.8" cy="279.88" r="2.15"/><circle cx="165.8" cy="283.21" r="2.15"/><circle cx="171.3" cy="233.26" r="2.15"/><circle cx="171.3" cy="236.59" r="2.15"/><circle cx="171.3" cy="239.92" r="2.15"/><circle cx="171.3" cy="243.25" r="2.15"/><circle cx="171.3" cy="246.58" r="2.15"/><circle cx="171.3" cy="249.91" r="2.15"/><circle cx="171.3" cy="253.24" r="2.15"/><circle cx="171.3" cy="256.57" r="2.15"/><circle cx="171.3" cy="259.9" r="2.15"/><circle cx="171.3" cy="263.23" r="2.15"/><circle cx="176.8" cy="233.26" r="2.15"/><circle cx="176.8" cy="236.59" r="2.15"/><circle cx="176.8" cy="239.92" r="2.15"/><circle cx="176.8" cy="243.25" r="2.15"/><circle cx="176.8" cy="246.58" r="2.15"/><circle cx="176.8" cy="249.91" r="2.15"/><circle cx="176.8" cy="253.24" r="2.15"/><circle cx="176.8" cy="256.57" r="2.15"/><circle cx="176.8" cy="259.9" r="2.15"/><circle cx="176.8" cy="263.23" r="2.15"/><circle cx="176.8" cy="266.56" r="2.15"/><circle cx="182.3" cy="249.91" r="2.15"/><circle cx="182.3" cy="253.24" r="2.15"/><circle cx="182.3" cy="256.57" r="2.15"/><circle cx="182.3" cy="259.9" r="2.15"/><circle cx="182.3" cy="263.23" r="2.15"/><circle cx="182.3" cy="266.56" r="2.15"/><circle cx="182.3" cy="269.89" r="2.15"/><circle cx="182.3" cy="273.22" r="2.15"/><circle cx="182.3" cy="276.55" r="2.15"/><circle cx="187.8" cy="223.27" r="2.15"/><circle cx="187.8" cy="226.6" r="2.15"/><circle cx="187.8" cy="229.93" r="2.15"/><circle cx="187.8" cy="233.26" r="2.15"/><circle cx="187.8" cy="263.23" r="2.15"/><circle cx="187.8" cy="266.56" r="2.15"/><circle cx="187.8" cy="269.89" r="2.15"/><circle cx="187.8" cy="273.22" r="2.15"/><circle cx="187.8" cy="276.55" r="2.15"/><circle cx="187.8" cy="279.88" r="2.15"/><circle cx="187.8" cy="283.21" r="2.15"/><circle cx="187.8" cy="286.54" r="2.15"/><circle cx="187.8" cy="289.87" r="2.15"/><circle cx="187.8" cy="293.2" r="2.15"/><circle cx="193.3" cy="233.26" r="2.15"/><circle cx="193.3" cy="236.59" r="2.15"/><circle cx="193.3" cy="239.92" r="2.15"/><circle cx="193.3" cy="243.25" r="2.15"/><circle cx="193.3" cy="246.58" r="2.15"/><circle cx="193.3" cy="249.91" r="2.15"/><circle cx="193.3" cy="253.24" r="2.15"/><circle cx="193.3" cy="256.57" r="2.15"/><circle cx="193.3" cy="259.9" r="2.15"/><circle cx="193.3" cy="263.23" r="2.15"/><circle cx="193.3" cy="266.56" r="2.15"/><circle cx="193.3" cy="269.89" r="2.15"/><circle cx="193.3" cy="273.22" r="2.15"/><circle cx="193.3" cy="276.55" r="2.15"/><circle cx="193.3" cy="279.88" r="2.15"/><circle cx="193.3" cy="283.21" r="2.15"/><circle cx="193.3" cy="286.54" r="2.15"/><circle cx="198.8" cy="243.25" r="2.15"/><circle cx="198.8" cy="246.58" r="2.15"/><circle cx="198.8" cy="249.91" r="2.15"/><circle cx="198.8" cy="253.24" r="2.15"/><circle cx="198.8" cy="256.57" r="2.15"/><circle cx="198.8" cy="273.22" r="2.15"/><circle cx="198.8" cy="276.55" r="2.15"/></g>
<g fill="#3a88e8"><circle cx="165.8" cy="219.94" r="2.15"/><circle cx="165.8" cy="223.27" r="2.15"/><circle cx="165.8" cy="226.6" r="2.15"/><circle cx="165.8" cy="229.93" r="2.15"/><circle cx="171.3" cy="216.61" r="2.15"/><circle cx="171.3" cy="219.94" r="2.15"/><circle cx="171.3" cy="223.27" r="2.15"/><circle cx="171.3" cy="226.6" r="2.15"/><circle cx="171.3" cy="229.93" r="2.15"/><circle cx="176.8" cy="216.61" r="2.15"/><circle cx="176.8" cy="219.94" r="2.15"/><circle cx="176.8" cy="223.27" r="2.15"/><circle cx="176.8" cy="226.6" r="2.15"/><circle cx="176.8" cy="229.93" r="2.15"/></g>
<g fill="#f514c8"><circle cx="165.8" cy="286.54" r="2.15"/><circle cx="165.8" cy="289.87" r="2.15"/><circle cx="165.8" cy="293.2" r="2.15"/><circle cx="165.8" cy="296.53" r="2.15"/><circle cx="165.8" cy="299.86" r="2.15"/><circle cx="165.8" cy="303.19" r="2.15"/><circle cx="165.8" cy="306.52" r="2.15"/><circle cx="171.3" cy="276.55" r="2.15"/><circle cx="171.3" cy="279.88" r="2.15"/><circle cx="171.3" cy="283.21" r="2.15"/><circle cx="171.3" cy="286.54" r="2.15"/><circle cx="171.3" cy="289.87" r="2.15"/><circle cx="171.3" cy="293.2" r="2.15"/><circle cx="171.3" cy="296.53" r="2.15"/><circle cx="171.3" cy="299.86" r="2.15"/><circle cx="171.3" cy="303.19" r="2.15"/><circle cx="176.8" cy="276.55" r="2.15"/><circle cx="176.8" cy="279.88" r="2.15"/><circle cx="176.8" cy="283.21" r="2.15"/><circle cx="176.8" cy="286.54" r="2.15"/><circle cx="176.8" cy="289.87" r="2.15"/><circle cx="176.8" cy="293.2" r="2.15"/><circle cx="176.8" cy="296.53" r="2.15"/><circle cx="176.8" cy="299.86" r="2.15"/><circle cx="182.3" cy="279.88" r="2.15"/><circle cx="182.3" cy="283.21" r="2.15"/><circle cx="182.3" cy="286.54" r="2.15"/><circle cx="182.3" cy="289.87" r="2.15"/><circle cx="182.3" cy="293.2" r="2.15"/><circle cx="182.3" cy="296.53" r="2.15"/></g>
<rect x="28.2" y="192.7" width="184.3" height="134.1" fill="none" stroke="#b4b4b4" stroke-width="0.8"/>
<g font-family="'DejaVu Sans','Liberation Sans',sans-serif" font-size="6.8" fill="#1a1a1a">
<text x="25.8" y="328.7" text-anchor="end">10</text>
<text x="25.8" y="312.05" text-anchor="end">15</text>
<text x="25.8" y="295.4" text-anchor="end">20</text>
<text x="25.8" y="278.75" text-anchor="end">25</text>
<text x="25.8" y="262.1" text-anchor="end">30</text>
<text x="25.8" y="245.45" text-anchor="end">35</text>
<text x="25.8" y="228.8" text-anchor="end">40</text>
<text x="25.8" y="212.15" text-anchor="end">45</text>
<text x="25.8" y="195.5" text-anchor="end">50</text>
<text x="39.3" y="334.4" text-anchor="middle">10</text>
<text x="66.8" y="334.4" text-anchor="middle">15</text>
<text x="94.3" y="334.4" text-anchor="middle">20</text>
<text x="121.8" y="334.4" text-anchor="middle">25</text>
<text x="149.3" y="334.4" text-anchor="middle">30</text>
<text x="176.8" y="334.4" text-anchor="middle">35</text>
<text x="204.3" y="334.4" text-anchor="middle">40</text>
</g>
<text x="120.35" y="345.4" text-anchor="middle" font-family="'DejaVu Sans','Liberation Sans',sans-serif" font-size="11" fill="#111">X Co-ordinates</text>
<text transform="translate(13.8 259.75) rotate(-90)" text-anchor="middle" font-family="'DejaVu Sans','Liberation Sans',sans-serif" font-size="11.1" fill="#111">Y Co-ordinates</text>
<text x="118" y="357.8" text-anchor="middle" font-family="'Liberation Sans',sans-serif" font-weight="bold" font-size="8" fill="#1a1a1a">(c)</text>
<g fill="#dc0a28"><circle cx="255.7" cy="253.96" r="2.15"/><circle cx="255.7" cy="257.33" r="2.15"/><circle cx="255.7" cy="260.7" r="2.15"/><circle cx="255.7" cy="264.07" r="2.15"/><circle cx="255.7" cy="267.44" r="2.15"/><circle cx="261.29" cy="237.11" r="2.15"/><circle cx="261.29" cy="240.48" r="2.15"/><circle cx="261.29" cy="243.85" r="2.15"/><circle cx="261.29" cy="247.22" r="2.15"/><circle cx="261.29" cy="250.59" r="2.15"/><circle cx="261.29" cy="253.96" r="2.15"/><circle cx="261.29" cy="257.33" r="2.15"/><circle cx="261.29" cy="260.7" r="2.15"/><circle cx="261.29" cy="264.07" r="2.15"/><circle cx="261.29" cy="267.44" r="2.15"/><circle cx="261.29" cy="270.81" r="2.15"/><circle cx="261.29" cy="274.18" r="2.15"/><circle cx="261.29" cy="277.55" r="2.15"/><circle cx="261.29" cy="280.92" r="2.15"/><circle cx="266.88" cy="237.11" r="2.15"/><circle cx="266.88" cy="240.48" r="2.15"/><circle cx="266.88" cy="250.59" r="2.15"/><circle cx="266.88" cy="253.96" r="2.15"/><circle cx="266.88" cy="257.33" r="2.15"/><circle cx="266.88" cy="260.7" r="2.15"/><circle cx="266.88" cy="264.07" r="2.15"/><circle cx="266.88" cy="267.44" r="2.15"/><circle cx="266.88" cy="270.81" r="2.15"/><circle cx="266.88" cy="274.18" r="2.15"/><circle cx="266.88" cy="277.55" r="2.15"/><circle cx="266.88" cy="280.92" r="2.15"/></g>
<g fill="#b5200f"><circle cx="266.88" cy="227" r="2.15"/><circle cx="266.88" cy="230.37" r="2.15"/><circle cx="266.88" cy="233.74" r="2.15"/><circle cx="272.47" cy="223.63" r="2.15"/><circle cx="272.47" cy="227" r="2.15"/><circle cx="272.47" cy="230.37" r="2.15"/><circle cx="278.06" cy="220.26" r="2.15"/><circle cx="278.06" cy="223.63" r="2.15"/><circle cx="278.06" cy="227" r="2.15"/><circle cx="283.65" cy="216.89" r="2.15"/><circle cx="283.65" cy="220.26" r="2.15"/><circle cx="283.65" cy="223.63" r="2.15"/><circle cx="289.24" cy="216.89" r="2.15"/><circle cx="289.24" cy="220.26" r="2.15"/><circle cx="294.83" cy="216.89" r="2.15"/><circle cx="294.83" cy="220.26" r="2.15"/><circle cx="300.42" cy="210.15" r="2.15"/><circle cx="300.42" cy="213.52" r="2.15"/><circle cx="300.42" cy="216.89" r="2.15"/><circle cx="300.42" cy="220.26" r="2.15"/><circle cx="306.01" cy="210.15" r="2.15"/><circle cx="306.01" cy="213.52" r="2.15"/><circle cx="306.01" cy="216.89" r="2.15"/><circle cx="311.6" cy="206.78" r="2.15"/><circle cx="311.6" cy="210.15" r="2.15"/><circle cx="311.6" cy="213.52" r="2.15"/><circle cx="317.19" cy="206.78" r="2.15"/><circle cx="317.19" cy="210.15" r="2.15"/><circle cx="317.19" cy="213.52" r="2.15"/><circle cx="401.04" cy="216.89" r="2.15"/><circle cx="401.04" cy="220.26" r="2.15"/><circle cx="401.04" cy="223.63" r="2.15"/><circle cx="401.04" cy="227" r="2.15"/><circle cx="401.04" cy="230.37" r="2.15"/><circle cx="401.04" cy="233.74" r="2.15"/><circle cx="401.04" cy="237.11" r="2.15"/><circle cx="401.04" cy="240.48" r="2.15"/><circle cx="401.04" cy="243.85" r="2.15"/><circle cx="401.04" cy="247.22" r="2.15"/><circle cx="406.63" cy="237.11" r="2.15"/><circle cx="406.63" cy="240.48" r="2.15"/><circle cx="406.63" cy="243.85" r="2.15"/><circle cx="406.63" cy="247.22" r="2.15"/><circle cx="406.63" cy="250.59" r="2.15"/><circle cx="406.63" cy="253.96" r="2.15"/><circle cx="406.63" cy="257.33" r="2.15"/><circle cx="406.63" cy="260.7" r="2.15"/></g>
<g fill="#e07888"><circle cx="266.88" cy="243.85" r="2.15"/><circle cx="266.88" cy="247.22" r="2.15"/><circle cx="272.47" cy="233.74" r="2.15"/><circle cx="272.47" cy="237.11" r="2.15"/><circle cx="272.47" cy="240.48" r="2.15"/><circle cx="272.47" cy="243.85" r="2.15"/><circle cx="272.47" cy="247.22" r="2.15"/><circle cx="272.47" cy="250.59" r="2.15"/><circle cx="272.47" cy="253.96" r="2.15"/><circle cx="272.47" cy="257.33" r="2.15"/><circle cx="272.47" cy="260.7" r="2.15"/><circle cx="272.47" cy="264.07" r="2.15"/><circle cx="272.47" cy="267.44" r="2.15"/><circle cx="272.47" cy="270.81" r="2.15"/><circle cx="278.06" cy="240.48" r="2.15"/><circle cx="278.06" cy="243.85" r="2.15"/><circle cx="278.06" cy="247.22" r="2.15"/><circle cx="278.06" cy="253.96" r="2.15"/><circle cx="278.06" cy="257.33" r="2.15"/><circle cx="278.06" cy="260.7" r="2.15"/><circle cx="278.06" cy="264.07" r="2.15"/><circle cx="278.06" cy="267.44" r="2.15"/><circle cx="278.06" cy="270.81" r="2.15"/><circle cx="283.65" cy="264.07" r="2.15"/><circle cx="283.65" cy="267.44" r="2.15"/></g>
<g fill="#1f4f9f"><circle cx="266.88" cy="284.29" r="2.15"/><circle cx="266.88" cy="287.66" r="2.15"/><circle cx="266.88" cy="291.03" r="2.15"/><circle cx="272.47" cy="274.18" r="2.15"/><circle cx="272.47" cy="277.55" r="2.15"/><circle cx="272.47" cy="280.92" r="2.15"/><circle cx="272.47" cy="284.29" r="2.15"/><circle cx="272.47" cy="287.66" r="2.15"/><circle cx="272.47" cy="291.03" r="2.15"/><circle cx="278.06" cy="274.18" r="2.15"/><circle cx="278.06" cy="277.55" r="2.15"/><circle cx="278.06" cy="280.92" r="2.15"/><circle cx="278.06" cy="284.29" r="2.15"/><circle cx="278.06" cy="287.66" r="2.15"/><circle cx="278.06" cy="291.03" r="2.15"/><circle cx="283.65" cy="260.7" r="2.15"/><circle cx="283.65" cy="270.81" r="2.15"/><circle cx="283.65" cy="274.18" r="2.15"/><circle cx="283.65" cy="277.55" r="2.15"/><circle cx="283.65" cy="280.92" r="2.15"/><circle cx="283.65" cy="291.03" r="2.15"/><circle cx="289.24" cy="260.7" r="2.15"/><circle cx="289.24" cy="264.07" r="2.15"/><circle cx="289.24" cy="267.44" r="2.15"/><circle cx="289.24" cy="270.81" r="2.15"/><circle cx="289.24" cy="274.18" r="2.15"/><circle cx="289.24" cy="277.55" r="2.15"/><circle cx="289.24" cy="291.03" r="2.15"/></g>
<g fill="#f82010"><circle cx="272.47" cy="294.4" r="2.15"/><circle cx="272.47" cy="297.77" r="2.15"/><circle cx="272.47" cy="301.14" r="2.15"/><circle cx="278.06" cy="294.4" r="2.15"/><circle cx="278.06" cy="297.77" r="2.15"/><circle cx="278.06" cy="301.14" r="2.15"/><circle cx="278.06" cy="304.51" r="2.15"/><circle cx="283.65" cy="294.4" r="2.15"/><circle cx="283.65" cy="297.77" r="2.15"/><circle cx="283.65" cy="301.14" r="2.15"/><circle cx="283.65" cy="304.51" r="2.15"/><circle cx="283.65" cy="307.88" r="2.15"/><circle cx="289.24" cy="294.4" r="2.15"/><circle cx="289.24" cy="297.77" r="2.15"/><circle cx="289.24" cy="301.14" r="2.15"/><circle cx="289.24" cy="304.51" r="2.15"/><circle cx="289.24" cy="307.88" r="2.15"/><circle cx="294.83" cy="291.03" r="2.15"/><circle cx="294.83" cy="294.4" r="2.15"/><circle cx="294.83" cy="297.77" r="2.15"/><circle cx="294.83" cy="301.14" r="2.15"/><circle cx="294.83" cy="304.51" r="2.15"/><circle cx="294.83" cy="307.88" r="2.15"/><circle cx="294.83" cy="311.25" r="2.15"/><circle cx="300.42" cy="291.03" r="2.15"/><circle cx="300.42" cy="294.4" r="2.15"/><circle cx="300.42" cy="297.77" r="2.15"/><circle cx="300.42" cy="301.14" r="2.15"/><circle cx="300.42" cy="304.51" r="2.15"/><circle cx="300.42" cy="307.88" r="2.15"/><circle cx="300.42" cy="311.25" r="2.15"/><circle cx="322.78" cy="206.78" r="2.15"/><circle cx="322.78" cy="210.15" r="2.15"/><circle cx="322.78" cy="213.52" r="2.15"/><circle cx="328.37" cy="203.41" r="2.15"/><circle cx="328.37" cy="206.78" r="2.15"/><circle cx="328.37" cy="210.15" r="2.15"/><circle cx="328.37" cy="213.52" r="2.15"/><circle cx="333.96" cy="203.41" r="2.15"/><circle cx="333.96" cy="206.78" r="2.15"/><circle cx="333.96" cy="210.15" r="2.15"/><circle cx="339.55" cy="203.41" r="2.15"/><circle cx="339.55" cy="206.78" r="2.15"/><circle cx="339.55" cy="210.15" r="2.15"/><circle cx="345.14" cy="203.41" r="2.15"/><circle cx="345.14" cy="206.78" r="2.15"/><circle cx="345.14" cy="210.15" r="2.15"/><circle cx="345.14" cy="213.52" r="2.15"/></g>
<g fill="#ffe414"><circle cx="278.06" cy="230.37" r="2.15"/><circle cx="283.65" cy="227" r="2.15"/><circle cx="283.65" cy="230.37" r="2.15"/><circle cx="283.65" cy="284.29" r="2.15"/><circle cx="283.65" cy="287.66" r="2.15"/><circle cx="289.24" cy="223.63" r="2.15"/><circle cx="289.24" cy="227" r="2.15"/><circle cx="289.24" cy="230.37" r="2.15"/><circle cx="289.24" cy="280.92" r="2.15"/><circle cx="289.24" cy="284.29" r="2.15"/><circle cx="289.24" cy="287.66" r="2.15"/><circle cx="294.83" cy="223.63" r="2.15"/><circle cx="294.83" cy="227" r="2.15"/><circle cx="294.83" cy="230.37" r="2.15"/><circle cx="294.83" cy="260.7" r="2.15"/><circle cx="294.83" cy="264.07" r="2.15"/><circle cx="294.83" cy="267.44" r="2.15"/><circle cx="294.83" cy="270.81" r="2.15"/><circle cx="294.83" cy="274.18" r="2.15"/><circle cx="294.83" cy="277.55" r="2.15"/><circle cx="294.83" cy="280.92" r="2.15"/><circle cx="294.83" cy="284.29" r="2.15"/><circle cx="294.83" cy="287.66" r="2.15"/><circle cx="300.42" cy="223.63" r="2.15"/><circle cx="300.42" cy="227" r="2.15"/><circle cx="300.42" cy="230.37" r="2.15"/><circle cx="300.42" cy="250.59" r="2.15"/><circle cx="300.42" cy="253.96" r="2.15"/><circle cx="300.42" cy="257.33" r="2.15"/><circle cx="300.42" cy="260.7" r="2.15"/><circle cx="300.42" cy="264.07" r="2.15"/><circle cx="300.42" cy="267.44" r="2.15"/><circle cx="300.42" cy="270.81" r="2.15"/><circle cx="300.42" cy="274.18" r="2.15"/><circle cx="300.42" cy="277.55" r="2.15"/><circle cx="300.42" cy="280.92" r="2.15"/><circle cx="300.42" cy="284.29" r="2.15"/><circle cx="300.42" cy="287.66" r="2.15"/><circle cx="306.01" cy="223.63" r="2.15"/><circle cx="306.01" cy="227" r="2.15"/><circle cx="306.01" cy="230.37" r="2.15"/><circle cx="306.01" cy="247.22" r="2.15"/><circle cx="306.01" cy="250.59" r="2.15"/><circle cx="306.01" cy="253.96" r="2.15"/><circle cx="306.01" cy="257.33" r="2.15"/><circle cx="306.01" cy="260.7" r="2.15"/><circle cx="306.01" cy="264.07" r="2.15"/><circle cx="306.01" cy="267.44" r="2.15"/><circle cx="306.01" cy="270.81" r="2.15"/><circle cx="306.01" cy="274.18" r="2.15"/><circle cx="306.01" cy="277.55" r="2.15"/><circle cx="306.01" cy="280.92" r="2.15"/><circle cx="311.6" cy="250.59" r="2.15"/><circle cx="311.6" cy="253.96" r="2.15"/><circle cx="311.6" cy="257.33" r="2.15"/><circle cx="311.6" cy="260.7" r="2.15"/><circle cx="311.6" cy="264.07" r="2.15"/><circle cx="311.6" cy="267.44" r="2.15"/><circle cx="311.6" cy="270.81" r="2.15"/><circle cx="311.6" cy="274.18" r="2.15"/><circle cx="311.6" cy="277.55" r="2.15"/><circle cx="311.6" cy="280.92" r="2.15"/><circle cx="311.6" cy="284.29" r="2.15"/><circle cx="311.6" cy="287.66" r="2.15"/><circle cx="311.6" cy="291.03" r="2.15"/><circle cx="317.19" cy="274.18" r="2.15"/><circle cx="317.19" cy="277.55" r="2.15"/><circle cx="317.19" cy="280.92" r="2.15"/><circle cx="317.19" cy="284.29" r="2.15"/><circle cx="317.19" cy="287.66" r="2.15"/><circle cx="317.19" cy="291.03" r="2.15"/><circle cx="317.19" cy="294.4" r="2.15"/><circle cx="322.78" cy="216.89" r="2.15"/><circle cx="322.78" cy="220.26" r="2.15"/><circle cx="322.78" cy="280.92" r="2.15"/><circle cx="322.78" cy="284.29" r="2.15"/><circle cx="322.78" cy="287.66" r="2.15"/><circle cx="322.78" cy="291.03" r="2.15"/><circle cx="322.78" cy="294.4" r="2.15"/><circle cx="328.37" cy="216.89" r="2.15"/><circle cx="328.37" cy="220.26" r="2.15"/><circle cx="333.96" cy="213.52" r="2.15"/><circle cx="333.96" cy="216.89" r="2.15"/><circle cx="333.96" cy="220.26" r="2.15"/><circle cx="333.96" cy="223.63" r="2.15"/><circle cx="333.96" cy="227" r="2.15"/><circle cx="333.96" cy="230.37" r="2.15"/><circle cx="333.96" cy="250.59" r="2.15"/><circle cx="333.96" cy="253.96" r="2.15"/><circle cx="333.96" cy="284.29" r="2.15"/><circle cx="333.96" cy="287.66" r="2.15"/><circle cx="339.55" cy="230.37" r="2.15"/><circle cx="339.55" cy="233.74" r="2.15"/><circle cx="339.55" cy="237.11" r="2.15"/><circle cx="339.55" cy="240.48" r="2.15"/><circle cx="339.55" cy="243.85" r="2.15"/><circle cx="339.55" cy="247.22" r="2.15"/><circle cx="339.55" cy="250.59" r="2.15"/><circle cx="339.55" cy="253.96" r="2.15"/><circle cx="339.55" cy="284.29" r="2.15"/><circle cx="339.55" cy="287.66" r="2.15"/><circle cx="345.14" cy="233.74" r="2.15"/><circle cx="345.14" cy="237.11" r="2.15"/><circle cx="345.14" cy="240.48" r="2.15"/><circle cx="356.32" cy="223.63" r="2.15"/><circle cx="356.32" cy="227" r="2.15"/><circle cx="356.32" cy="230.37" r="2.15"/><circle cx="356.32" cy="233.74" r="2.15"/><circle cx="356.32" cy="237.11" r="2.15"/><circle cx="356.32" cy="243.85" r="2.15"/><circle cx="356.32" cy="247.22" r="2.15"/><circle cx="356.32" cy="250.59" r="2.15"/><circle cx="361.91" cy="223.63" r="2.15"/><circle cx="361.91" cy="227" r="2.15"/><circle cx="361.91" cy="230.37" r="2.15"/><circle cx="361.91" cy="233.74" r="2.15"/><circle cx="361.91" cy="237.11" r="2.15"/><circle cx="361.91" cy="240.48" r="2.15"/><circle cx="367.5" cy="223.63" r="2.15"/><circle cx="367.5" cy="227" r="2.15"/><circle cx="367.5" cy="230.37" r="2.15"/></g>
<g fill="#f5c60c"><circle cx="278.06" cy="233.74" r="2.15"/><circle cx="278.06" cy="237.11" r="2.15"/><circle cx="283.65" cy="233.74" r="2.15"/><circle cx="283.65" cy="237.11" r="2.15"/><circle cx="283.65" cy="240.48" r="2.15"/><circle cx="289.24" cy="233.74" r="2.15"/><circle cx="289.24" cy="237.11" r="2.15"/><circle cx="289.24" cy="240.48" r="2.15"/><circle cx="294.83" cy="233.74" r="2.15"/><circle cx="294.83" cy="237.11" r="2.15"/><circle cx="294.83" cy="240.48" r="2.15"/><circle cx="300.42" cy="233.74" r="2.15"/><circle cx="300.42" cy="237.11" r="2.15"/><circle cx="300.42" cy="240.48" r="2.15"/><circle cx="306.01" cy="233.74" r="2.15"/><circle cx="306.01" cy="237.11" r="2.15"/><circle cx="306.01" cy="240.48" r="2.15"/><circle cx="311.6" cy="237.11" r="2.15"/><circle cx="311.6" cy="240.48" r="2.15"/><circle cx="317.19" cy="240.48" r="2.15"/><circle cx="356.32" cy="216.89" r="2.15"/><circle cx="356.32" cy="220.26" r="2.15"/><circle cx="361.91" cy="220.26" r="2.15"/><circle cx="361.91" cy="243.85" r="2.15"/><circle cx="361.91" cy="247.22" r="2.15"/><circle cx="361.91" cy="250.59" r="2.15"/><circle cx="367.5" cy="220.26" r="2.15"/><circle cx="367.5" cy="233.74" r="2.15"/><circle cx="367.5" cy="237.11" r="2.15"/><circle cx="367.5" cy="240.48" r="2.15"/><circle cx="367.5" cy="243.85" r="2.15"/><circle cx="367.5" cy="247.22" r="2.15"/><circle cx="367.5" cy="250.59" r="2.15"/><circle cx="367.5" cy="253.96" r="2.15"/><circle cx="367.5" cy="257.33" r="2.15"/><circle cx="367.5" cy="260.7" r="2.15"/><circle cx="373.09" cy="220.26" r="2.15"/><circle cx="373.09" cy="223.63" r="2.15"/><circle cx="373.09" cy="227" r="2.15"/><circle cx="373.09" cy="230.37" r="2.15"/><circle cx="373.09" cy="233.74" r="2.15"/><circle cx="373.09" cy="237.11" r="2.15"/><circle cx="373.09" cy="240.48" r="2.15"/><circle cx="373.09" cy="243.85" r="2.15"/><circle cx="373.09" cy="247.22" r="2.15"/><circle cx="373.09" cy="250.59" r="2.15"/><circle cx="373.09" cy="253.96" r="2.15"/><circle cx="373.09" cy="257.33" r="2.15"/><circle cx="373.09" cy="260.7" r="2.15"/><circle cx="378.68" cy="220.26" r="2.15"/><circle cx="378.68" cy="223.63" r="2.15"/><circle cx="378.68" cy="227" r="2.15"/><circle cx="378.68" cy="230.37" r="2.15"/><circle cx="378.68" cy="247.22" r="2.15"/><circle cx="378.68" cy="250.59" r="2.15"/><circle cx="378.68" cy="253.96" r="2.15"/><circle cx="378.68" cy="257.33" r="2.15"/><circle cx="378.68" cy="260.7" r="2.15"/><circle cx="384.27" cy="247.22" r="2.15"/></g>
<g fill="#e6aa10"><circle cx="278.06" cy="250.59" r="2.15"/><circle cx="283.65" cy="243.85" r="2.15"/><circle cx="283.65" cy="247.22" r="2.15"/><circle cx="283.65" cy="250.59" r="2.15"/><circle cx="283.65" cy="253.96" r="2.15"/><circle cx="283.65" cy="257.33" r="2.15"/><circle cx="289.24" cy="243.85" r="2.15"/><circle cx="289.24" cy="247.22" r="2.15"/><circle cx="289.24" cy="250.59" r="2.15"/><circle cx="289.24" cy="253.96" r="2.15"/><circle cx="289.24" cy="257.33" r="2.15"/><circle cx="294.83" cy="243.85" r="2.15"/><circle cx="294.83" cy="247.22" r="2.15"/><circle cx="294.83" cy="250.59" r="2.15"/><circle cx="294.83" cy="253.96" r="2.15"/><circle cx="294.83" cy="257.33" r="2.15"/><circle cx="300.42" cy="243.85" r="2.15"/><circle cx="300.42" cy="247.22" r="2.15"/><circle cx="306.01" cy="220.26" r="2.15"/><circle cx="306.01" cy="243.85" r="2.15"/><circle cx="311.6" cy="243.85" r="2.15"/><circle cx="311.6" cy="247.22" r="2.15"/><circle cx="317.19" cy="243.85" r="2.15"/><circle cx="317.19" cy="247.22" r="2.15"/><circle cx="317.19" cy="250.59" r="2.15"/><circle cx="317.19" cy="253.96" r="2.15"/><circle cx="317.19" cy="257.33" r="2.15"/><circle cx="317.19" cy="260.7" r="2.15"/><circle cx="317.19" cy="264.07" r="2.15"/><circle cx="317.19" cy="267.44" r="2.15"/><circle cx="317.19" cy="270.81" r="2.15"/><circle cx="322.78" cy="250.59" r="2.15"/><circle cx="322.78" cy="253.96" r="2.15"/><circle cx="322.78" cy="257.33" r="2.15"/><circle cx="322.78" cy="260.7" r="2.15"/><circle cx="322.78" cy="264.07" r="2.15"/><circle cx="322.78" cy="267.44" r="2.15"/><circle cx="322.78" cy="270.81" r="2.15"/><circle cx="322.78" cy="274.18" r="2.15"/><circle cx="322.78" cy="277.55" r="2.15"/><circle cx="328.37" cy="250.59" r="2.15"/><circle cx="328.37" cy="253.96" r="2.15"/><circle cx="328.37" cy="257.33" r="2.15"/><circle cx="328.37" cy="260.7" r="2.15"/><circle cx="328.37" cy="264.07" r="2.15"/><circle cx="328.37" cy="267.44" r="2.15"/><circle cx="328.37" cy="270.81" r="2.15"/><circle cx="328.37" cy="274.18" r="2.15"/><circle cx="328.37" cy="277.55" r="2.15"/><circle cx="328.37" cy="280.92" r="2.15"/><circle cx="328.37" cy="284.29" r="2.15"/><circle cx="328.37" cy="287.66" r="2.15"/><circle cx="328.37" cy="291.03" r="2.15"/><circle cx="356.32" cy="253.96" r="2.15"/><circle cx="356.32" cy="257.33" r="2.15"/><circle cx="356.32" cy="260.7" r="2.15"/><circle cx="361.91" cy="253.96" r="2.15"/><circle cx="361.91" cy="257.33" r="2.15"/><circle cx="361.91" cy="260.7" r="2.15"/></g>
<g fill="#e0c418"><circle cx="306.01" cy="284.29" r="2.15"/><circle cx="306.01" cy="287.66" r="2.15"/><circle cx="306.01" cy="291.03" r="2.15"/></g>
<g fill="#f57a10"><circle cx="306.01" cy="294.4" r="2.15"/><circle cx="306.01" cy="297.77" r="2.15"/><circle cx="306.01" cy="301.14" r="2.15"/><circle cx="306.01" cy="304.51" r="2.15"/><circle cx="306.01" cy="307.88" r="2.15"/><circle cx="306.01" cy="311.25" r="2.15"/><circle cx="311.6" cy="294.4" r="2.15"/><circle cx="311.6" cy="297.77" r="2.15"/><circle cx="311.6" cy="301.14" r="2.15"/><circle cx="311.6" cy="304.51" r="2.15"/><circle cx="311.6" cy="307.88" r="2.15"/><circle cx="311.6" cy="311.25" r="2.15"/><circle cx="311.6" cy="314.62" r="2.15"/><circle cx="317.19" cy="297.77" r="2.15"/><circle cx="317.19" cy="301.14" r="2.15"/><circle cx="317.19" cy="304.51" r="2.15"/><circle cx="317.19" cy="307.88" r="2.15"/><circle cx="317.19" cy="311.25" r="2.15"/><circle cx="317.19" cy="314.62" r="2.15"/><circle cx="322.78" cy="297.77" r="2.15"/><circle cx="322.78" cy="301.14" r="2.15"/><circle cx="322.78" cy="304.51" r="2.15"/><circle cx="322.78" cy="307.88" r="2.15"/><circle cx="322.78" cy="311.25" r="2.15"/><circle cx="322.78" cy="314.62" r="2.15"/><circle cx="328.37" cy="311.25" r="2.15"/><circle cx="328.37" cy="314.62" r="2.15"/><circle cx="328.37" cy="317.99" r="2.15"/><circle cx="333.96" cy="311.25" r="2.15"/><circle cx="333.96" cy="314.62" r="2.15"/><circle cx="333.96" cy="317.99" r="2.15"/></g>
<g fill="#c8780a"><circle cx="311.6" cy="216.89" r="2.15"/><circle cx="311.6" cy="220.26" r="2.15"/><circle cx="311.6" cy="223.63" r="2.15"/><circle cx="311.6" cy="227" r="2.15"/><circle cx="311.6" cy="230.37" r="2.15"/><circle cx="311.6" cy="233.74" r="2.15"/><circle cx="317.19" cy="216.89" r="2.15"/><circle cx="317.19" cy="220.26" r="2.15"/><circle cx="317.19" cy="223.63" r="2.15"/><circle cx="317.19" cy="227" r="2.15"/><circle cx="317.19" cy="230.37" r="2.15"/><circle cx="317.19" cy="233.74" r="2.15"/><circle cx="317.19" cy="237.11" r="2.15"/><circle cx="322.78" cy="223.63" r="2.15"/><circle cx="322.78" cy="227" r="2.15"/><circle cx="322.78" cy="230.37" r="2.15"/><circle cx="322.78" cy="233.74" r="2.15"/><circle cx="322.78" cy="237.11" r="2.15"/><circle cx="322.78" cy="240.48" r="2.15"/><circle cx="322.78" cy="243.85" r="2.15"/><circle cx="322.78" cy="247.22" r="2.15"/><circle cx="328.37" cy="223.63" r="2.15"/><circle cx="328.37" cy="227" r="2.15"/><circle cx="328.37" cy="230.37" r="2.15"/><circle cx="328.37" cy="233.74" r="2.15"/><circle cx="328.37" cy="237.11" r="2.15"/><circle cx="328.37" cy="240.48" r="2.15"/><circle cx="328.37" cy="243.85" r="2.15"/><circle cx="328.37" cy="247.22" r="2.15"/><circle cx="333.96" cy="233.74" r="2.15"/><circle cx="333.96" cy="237.11" r="2.15"/><circle cx="333.96" cy="240.48" r="2.15"/><circle cx="333.96" cy="243.85" r="2.15"/><circle cx="333.96" cy="247.22" r="2.15"/></g>
<g fill="#b8122a"><circle cx="328.37" cy="294.4" r="2.15"/><circle cx="328.37" cy="297.77" r="2.15"/><circle cx="328.37" cy="301.14" r="2.15"/><circle cx="328.37" cy="304.51" r="2.15"/><circle cx="328.37" cy="307.88" r="2.15"/><circle cx="333.96" cy="291.03" r="2.15"/><circle cx="333.96" cy="294.4" r="2.15"/><circle cx="333.96" cy="297.77" r="2.15"/><circle cx="333.96" cy="301.14" r="2.15"/><circle cx="333.96" cy="304.51" r="2.15"/><circle cx="333.96" cy="307.88" r="2.15"/><circle cx="339.55" cy="291.03" r="2.15"/><circle cx="339.55" cy="294.4" r="2.15"/><circle cx="339.55" cy="297.77" r="2.15"/><circle cx="339.55" cy="301.14" r="2.15"/><circle cx="339.55" cy="304.51" r="2.15"/><circle cx="339.55" cy="307.88" r="2.15"/><circle cx="339.55" cy="311.25" r="2.15"/><circle cx="339.55" cy="314.62" r="2.15"/><circle cx="339.55" cy="317.99" r="2.15"/><circle cx="345.14" cy="294.4" r="2.15"/><circle cx="345.14" cy="297.77" r="2.15"/><circle cx="345.14" cy="301.14" r="2.15"/><circle cx="345.14" cy="304.51" r="2.15"/><circle cx="345.14" cy="307.88" r="2.15"/><circle cx="345.14" cy="311.25" r="2.15"/><circle cx="345.14" cy="314.62" r="2.15"/><circle cx="345.14" cy="317.99" r="2.15"/></g>
<g fill="#f5c828"><circle cx="333.96" cy="257.33" r="2.15"/><circle cx="333.96" cy="260.7" r="2.15"/><circle cx="333.96" cy="264.07" r="2.15"/><circle cx="333.96" cy="267.44" r="2.15"/><circle cx="333.96" cy="270.81" r="2.15"/><circle cx="333.96" cy="274.18" r="2.15"/><circle cx="333.96" cy="277.55" r="2.15"/><circle cx="333.96" cy="280.92" r="2.15"/><circle cx="339.55" cy="257.33" r="2.15"/><circle cx="339.55" cy="260.7" r="2.15"/><circle cx="339.55" cy="264.07" r="2.15"/><circle cx="339.55" cy="267.44" r="2.15"/><circle cx="339.55" cy="270.81" r="2.15"/><circle cx="339.55" cy="274.18" r="2.15"/><circle cx="339.55" cy="277.55" r="2.15"/><circle cx="339.55" cy="280.92" r="2.15"/><circle cx="345.14" cy="243.85" r="2.15"/><circle cx="345.14" cy="247.22" r="2.15"/><circle cx="345.14" cy="250.59" r="2.15"/><circle cx="345.14" cy="253.96" r="2.15"/><circle cx="345.14" cy="257.33" r="2.15"/><circle cx="345.14" cy="260.7" r="2.15"/><circle cx="345.14" cy="264.07" r="2.15"/><circle cx="345.14" cy="267.44" r="2.15"/><circle cx="345.14" cy="270.81" r="2.15"/><circle cx="345.14" cy="274.18" r="2.15"/><circle cx="345.14" cy="277.55" r="2.15"/><circle cx="345.14" cy="280.92" r="2.15"/><circle cx="345.14" cy="284.29" r="2.15"/><circle cx="356.32" cy="264.07" r="2.15"/><circle cx="356.32" cy="267.44" r="2.15"/><circle cx="356.32" cy="270.81" r="2.15"/><circle cx="356.32" cy="274.18" r="2.15"/><circle cx="356.32" cy="277.55" r="2.15"/><circle cx="356.32" cy="280.92" r="2.15"/><circle cx="356.32" cy="284.29" r="2.15"/><circle cx="361.91" cy="274.18" r="2.15"/><circle cx="361.91" cy="277.55" r="2.15"/><circle cx="361.91" cy="280.92" r="2.15"/><circle cx="361.91" cy="284.29" r="2.15"/><circle cx="367.5" cy="274.18" r="2.15"/><circle cx="367.5" cy="277.55" r="2.15"/><circle cx="367.5" cy="280.92" r="2.15"/><circle cx="367.5" cy="284.29" r="2.15"/></g>
<g fill="#f3d66a"><circle cx="339.55" cy="213.52" r="2.15"/><circle cx="339.55" cy="216.89" r="2.15"/><circle cx="339.55" cy="220.26" r="2.15"/><circle cx="339.55" cy="223.63" r="2.15"/><circle cx="339.55" cy="227" r="2.15"/><circle cx="345.14" cy="216.89" r="2.15"/><circle cx="345.14" cy="220.26" r="2.15"/><circle cx="345.14" cy="223.63" r="2.15"/><circle cx="345.14" cy="227" r="2.15"/><circle cx="345.14" cy="230.37" r="2.15"/><circle cx="350.73" cy="216.89" r="2.15"/><circle cx="350.73" cy="220.26" r="2.15"/><circle cx="350.73" cy="223.63" r="2.15"/><circle cx="350.73" cy="227" r="2.15"/><circle cx="350.73" cy="230.37" r="2.15"/><circle cx="350.73" cy="233.74" r="2.15"/><circle cx="350.73" cy="237.11" r="2.15"/><circle cx="350.73" cy="240.48" r="2.15"/><circle cx="350.73" cy="243.85" r="2.15"/><circle cx="350.73" cy="247.22" r="2.15"/><circle cx="350.73" cy="250.59" r="2.15"/><circle cx="350.73" cy="253.96" r="2.15"/><circle cx="350.73" cy="257.33" r="2.15"/><circle cx="350.73" cy="260.7" r="2.15"/><circle cx="350.73" cy="264.07" r="2.15"/><circle cx="350.73" cy="267.44" r="2.15"/><circle cx="350.73" cy="270.81" r="2.15"/><circle cx="350.73" cy="274.18" r="2.15"/><circle cx="350.73" cy="277.55" r="2.15"/><circle cx="350.73" cy="280.92" r="2.15"/><circle cx="350.73" cy="284.29" r="2.15"/><circle cx="356.32" cy="240.48" r="2.15"/><circle cx="373.09" cy="274.18" r="2.15"/><circle cx="373.09" cy="277.55" r="2.15"/><circle cx="373.09" cy="280.92" r="2.15"/></g>
<g fill="#e03a30"><circle cx="345.14" cy="287.66" r="2.15"/><circle cx="345.14" cy="291.03" r="2.15"/><circle cx="350.73" cy="206.78" r="2.15"/><circle cx="350.73" cy="210.15" r="2.15"/><circle cx="350.73" cy="213.52" r="2.15"/><circle cx="350.73" cy="287.66" r="2.15"/><circle cx="350.73" cy="291.03" r="2.15"/><circle cx="350.73" cy="294.4" r="2.15"/><circle cx="350.73" cy="297.77" r="2.15"/><circle cx="350.73" cy="301.14" r="2.15"/><circle cx="350.73" cy="304.51" r="2.15"/><circle cx="350.73" cy="307.88" r="2.15"/><circle cx="350.73" cy="311.25" r="2.15"/><circle cx="350.73" cy="314.62" r="2.15"/><circle cx="356.32" cy="206.78" r="2.15"/><circle cx="356.32" cy="210.15" r="2.15"/><circle cx="356.32" cy="213.52" r="2.15"/><circle cx="356.32" cy="287.66" r="2.15"/><circle cx="356.32" cy="291.03" r="2.15"/><circle cx="356.32" cy="294.4" r="2.15"/><circle cx="356.32" cy="297.77" r="2.15"/><circle cx="356.32" cy="301.14" r="2.15"/><circle cx="356.32" cy="304.51" r="2.15"/><circle cx="356.32" cy="307.88" r="2.15"/><circle cx="356.32" cy="311.25" r="2.15"/><circle cx="356.32" cy="314.62" r="2.15"/><circle cx="361.91" cy="206.78" r="2.15"/><circle cx="361.91" cy="210.15" r="2.15"/><circle cx="361.91" cy="213.52" r="2.15"/><circle cx="361.91" cy="216.89" r="2.15"/><circle cx="361.91" cy="287.66" r="2.15"/><circle cx="361.91" cy="291.03" r="2.15"/><circle cx="361.91" cy="294.4" r="2.15"/><circle cx="361.91" cy="297.77" r="2.15"/><circle cx="361.91" cy="301.14" r="2.15"/><circle cx="361.91" cy="304.51" r="2.15"/><circle cx="361.91" cy="307.88" r="2.15"/><circle cx="361.91" cy="311.25" r="2.15"/><circle cx="361.91" cy="314.62" r="2.15"/><circle cx="367.5" cy="210.15" r="2.15"/><circle cx="367.5" cy="213.52" r="2.15"/><circle cx="367.5" cy="216.89" r="2.15"/><circle cx="373.09" cy="210.15" r="2.15"/><circle cx="373.09" cy="213.52" r="2.15"/><circle cx="373.09" cy="216.89" r="2.15"/><circle cx="378.68" cy="210.15" r="2.15"/><circle cx="378.68" cy="213.52" r="2.15"/><circle cx="378.68" cy="216.89" r="2.15"/><circle cx="384.27" cy="213.52" r="2.15"/><circle cx="384.27" cy="216.89" r="2.15"/><circle cx="389.86" cy="213.52" r="2.15"/></g>
<g fill="#10e0f5"><circle cx="361.91" cy="264.07" r="2.15"/><circle cx="361.91" cy="267.44" r="2.15"/><circle cx="361.91" cy="270.81" r="2.15"/><circle cx="367.5" cy="264.07" r="2.15"/><circle cx="367.5" cy="267.44" r="2.15"/><circle cx="367.5" cy="270.81" r="2.15"/><circle cx="373.09" cy="264.07" r="2.15"/><circle cx="373.09" cy="267.44" r="2.15"/><circle cx="373.09" cy="270.81" r="2.15"/><circle cx="378.68" cy="264.07" r="2.15"/><circle cx="378.68" cy="267.44" r="2.15"/><circle cx="378.68" cy="270.81" r="2.15"/><circle cx="378.68" cy="274.18" r="2.15"/><circle cx="384.27" cy="267.44" r="2.15"/><circle cx="384.27" cy="270.81" r="2.15"/><circle cx="384.27" cy="274.18" r="2.15"/><circle cx="389.86" cy="267.44" r="2.15"/><circle cx="389.86" cy="270.81" r="2.15"/><circle cx="389.86" cy="274.18" r="2.15"/><circle cx="395.45" cy="270.81" r="2.15"/><circle cx="395.45" cy="274.18" r="2.15"/></g>
<g fill="#ee1111"><circle cx="367.5" cy="287.66" r="2.15"/><circle cx="367.5" cy="291.03" r="2.15"/><circle cx="367.5" cy="294.4" r="2.15"/><circle cx="367.5" cy="297.77" r="2.15"/><circle cx="367.5" cy="301.14" r="2.15"/><circle cx="367.5" cy="304.51" r="2.15"/><circle cx="367.5" cy="307.88" r="2.15"/><circle cx="367.5" cy="311.25" r="2.15"/><circle cx="373.09" cy="284.29" r="2.15"/><circle cx="373.09" cy="287.66" r="2.15"/><circle cx="373.09" cy="291.03" r="2.15"/><circle cx="373.09" cy="294.4" r="2.15"/><circle cx="373.09" cy="297.77" r="2.15"/><circle cx="373.09" cy="301.14" r="2.15"/><circle cx="373.09" cy="304.51" r="2.15"/><circle cx="373.09" cy="307.88" r="2.15"/><circle cx="373.09" cy="311.25" r="2.15"/><circle cx="378.68" cy="233.74" r="2.15"/><circle cx="378.68" cy="237.11" r="2.15"/><circle cx="378.68" cy="240.48" r="2.15"/><circle cx="378.68" cy="243.85" r="2.15"/><circle cx="378.68" cy="277.55" r="2.15"/><circle cx="378.68" cy="280.92" r="2.15"/><circle cx="378.68" cy="284.29" r="2.15"/><circle cx="378.68" cy="287.66" r="2.15"/><circle cx="378.68" cy="291.03" r="2.15"/><circle cx="378.68" cy="294.4" r="2.15"/><circle cx="378.68" cy="297.77" r="2.15"/><circle cx="378.68" cy="301.14" r="2.15"/><circle cx="378.68" cy="304.51" r="2.15"/><circle cx="378.68" cy="307.88" r="2.15"/><circle cx="378.68" cy="311.25" r="2.15"/><circle cx="384.27" cy="233.74" r="2.15"/><circle cx="384.27" cy="237.11" r="2.15"/><circle cx="384.27" cy="240.48" r="2.15"/><circle cx="384.27" cy="243.85" r="2.15"/><circle cx="384.27" cy="250.59" r="2.15"/><circle cx="384.27" cy="253.96" r="2.15"/><circle cx="384.27" cy="257.33" r="2.15"/><circle cx="384.27" cy="260.7" r="2.15"/><circle cx="384.27" cy="264.07" r="2.15"/><circle cx="384.27" cy="277.55" r="2.15"/><circle cx="384.27" cy="280.92" r="2.15"/><circle cx="384.27" cy="284.29" r="2.15"/><circle cx="389.86" cy="233.74" r="2.15"/><circle cx="389.86" cy="237.11" r="2.15"/><circle cx="389.86" cy="240.48" r="2.15"/><circle cx="389.86" cy="243.85" r="2.15"/><circle cx="389.86" cy="247.22" r="2.15"/><circle cx="389.86" cy="250.59" r="2.15"/><circle cx="389.86" cy="253.96" r="2.15"/><circle cx="389.86" cy="257.33" r="2.15"/><circle cx="389.86" cy="260.7" r="2.15"/><circle cx="389.86" cy="264.07" r="2.15"/><circle cx="395.45" cy="233.74" r="2.15"/><circle cx="395.45" cy="237.11" r="2.15"/><circle cx="395.45" cy="240.48" r="2.15"/><circle cx="395.45" cy="243.85" r="2.15"/><circle cx="395.45" cy="247.22" r="2.15"/><circle cx="395.45" cy="250.59" r="2.15"/><circle cx="395.45" cy="253.96" r="2.15"/><circle cx="395.45" cy="257.33" r="2.15"/><circle cx="395.45" cy="260.7" r="2.15"/><circle cx="395.45" cy="264.07" r="2.15"/><circle cx="395.45" cy="267.44" r="2.15"/><circle cx="401.04" cy="250.59" r="2.15"/><circle cx="401.04" cy="253.96" r="2.15"/><circle cx="401.04" cy="257.33" r="2.15"/><circle cx="401.04" cy="260.7" r="2.15"/><circle cx="401.04" cy="264.07" r="2.15"/><circle cx="401.04" cy="267.44" r="2.15"/><circle cx="401.04" cy="270.81" r="2.15"/><circle cx="401.04" cy="274.18" r="2.15"/><circle cx="401.04" cy="277.55" r="2.15"/><circle cx="406.63" cy="223.63" r="2.15"/><circle cx="406.63" cy="227" r="2.15"/><circle cx="406.63" cy="230.37" r="2.15"/><circle cx="406.63" cy="233.74" r="2.15"/><circle cx="406.63" cy="264.07" r="2.15"/><circle cx="406.63" cy="267.44" r="2.15"/><circle cx="406.63" cy="270.81" r="2.15"/><circle cx="406.63" cy="274.18" r="2.15"/><circle cx="406.63" cy="277.55" r="2.15"/><circle cx="406.63" cy="280.92" r="2.15"/><circle cx="406.63" cy="284.29" r="2.15"/><circle cx="406.63" cy="287.66" r="2.15"/><circle cx="406.63" cy="291.03" r="2.15"/><circle cx="406.63" cy="294.4" r="2.15"/><circle cx="412.22" cy="233.74" r="2.15"/><circle cx="412.22" cy="237.11" r="2.15"/><circle cx="412.22" cy="240.48" r="2.15"/><circle cx="412.22" cy="243.85" r="2.15"/><circle cx="412.22" cy="247.22" r="2.15"/><circle cx="412.22" cy="250.59" r="2.15"/><circle cx="412.22" cy="253.96" r="2.15"/><circle cx="412.22" cy="257.33" r="2.15"/><circle cx="412.22" cy="260.7" r="2.15"/><circle cx="412.22" cy="264.07" r="2.15"/><circle cx="412.22" cy="267.44" r="2.15"/><circle cx="412.22" cy="270.81" r="2.15"/><circle cx="412.22" cy="274.18" r="2.15"/><circle cx="412.22" cy="277.55" r="2.15"/><circle cx="412.22" cy="280.92" r="2.15"/><circle cx="412.22" cy="284.29" r="2.15"/><circle cx="412.22" cy="287.66" r="2.15"/><circle cx="417.81" cy="243.85" r="2.15"/><circle cx="417.81" cy="247.22" r="2.15"/><circle cx="417.81" cy="250.59" r="2.15"/><circle cx="417.81" cy="253.96" r="2.15"/><circle cx="417.81" cy="257.33" r="2.15"/><circle cx="417.81" cy="274.18" r="2.15"/><circle cx="417.81" cy="277.55" r="2.15"/></g>
<g fill="#3a88e8"><circle cx="384.27" cy="220.26" r="2.15"/><circle cx="384.27" cy="223.63" r="2.15"/><circle cx="384.27" cy="227" r="2.15"/><circle cx="384.27" cy="230.37" r="2.15"/><circle cx="389.86" cy="216.89" r="2.15"/><circle cx="389.86" cy="220.26" r="2.15"/><circle cx="389.86" cy="223.63" r="2.15"/><circle cx="389.86" cy="227" r="2.15"/><circle cx="389.86" cy="230.37" r="2.15"/><circle cx="395.45" cy="216.89" r="2.15"/><circle cx="395.45" cy="220.26" r="2.15"/><circle cx="395.45" cy="223.63" r="2.15"/><circle cx="395.45" cy="227" r="2.15"/><circle cx="395.45" cy="230.37" r="2.15"/></g>
<g fill="#f514c8"><circle cx="384.27" cy="287.66" r="2.15"/><circle cx="384.27" cy="291.03" r="2.15"/><circle cx="384.27" cy="294.4" r="2.15"/><circle cx="384.27" cy="297.77" r="2.15"/><circle cx="384.27" cy="301.14" r="2.15"/><circle cx="384.27" cy="304.51" r="2.15"/><circle cx="384.27" cy="307.88" r="2.15"/><circle cx="389.86" cy="277.55" r="2.15"/><circle cx="389.86" cy="280.92" r="2.15"/><circle cx="389.86" cy="284.29" r="2.15"/><circle cx="389.86" cy="287.66" r="2.15"/><circle cx="389.86" cy="291.03" r="2.15"/><circle cx="389.86" cy="294.4" r="2.15"/><circle cx="389.86" cy="297.77" r="2.15"/><circle cx="389.86" cy="301.14" r="2.15"/><circle cx="389.86" cy="304.51" r="2.15"/><circle cx="395.45" cy="277.55" r="2.15"/><circle cx="395.45" cy="280.92" r="2.15"/><circle cx="395.45" cy="284.29" r="2.15"/><circle cx="395.45" cy="287.66" r="2.15"/><circle cx="395.45" cy="291.03" r="2.15"/><circle cx="395.45" cy="294.4" r="2.15"/><circle cx="395.45" cy="297.77" r="2.15"/><circle cx="395.45" cy="301.14" r="2.15"/><circle cx="401.04" cy="280.92" r="2.15"/><circle cx="401.04" cy="284.29" r="2.15"/><circle cx="401.04" cy="287.66" r="2.15"/><circle cx="401.04" cy="291.03" r="2.15"/><circle cx="401.04" cy="294.4" r="2.15"/><circle cx="401.04" cy="297.77" r="2.15"/></g>
<path d="M255.7 253.06V268.34M261.29 236.21V281.82M266.88 226.1V291.93M272.47 222.73V302.04M278.06 219.36V305.41M283.65 215.99V308.78M289.24 215.99V308.78M294.83 215.99V312.15M300.42 209.25V312.15M306.01 209.25V312.15M311.6 205.88V315.52M317.19 205.88V315.52M322.78 205.88V315.52M328.37 202.51V318.89M333.96 202.51V318.89M339.55 202.51V318.89M345.14 202.51V318.89M350.73 205.88V315.52M356.32 205.88V315.52M361.91 205.88V315.52M367.5 209.25V312.15M373.09 209.25V312.15M378.68 209.25V312.15M384.27 212.62V308.78M389.86 212.62V305.41M395.45 215.99V302.04M401.04 215.99V298.67M406.63 222.73V295.3M412.22 232.84V288.56M417.81 242.95V258.23M417.81 273.28V278.45" stroke="#e0301a" stroke-width="2.2" stroke-dasharray="1.8 1.57" fill="none" opacity="0.8"/>
<path d="M258.5 253.46V267.94M264.08 236.61V281.42M269.68 226.5V291.53M275.26 223.13V301.64M280.86 219.76V305.01M286.44 216.39V308.38M292.04 216.39V308.38M297.62 216.39V311.75M303.21 209.65V311.75M308.81 209.65V311.75M314.39 206.28V315.12M319.99 206.28V315.12M325.57 206.28V315.12M331.17 202.91V318.49M336.75 202.91V318.49M342.34 202.91V318.49M347.94 202.91V318.49M353.53 206.28V315.12M359.12 206.28V315.12M364.7 206.28V315.12M370.3 209.65V311.75M375.88 209.65V311.75M381.47 209.65V311.75M387.06 213.02V308.38M392.66 213.02V305.01M398.25 216.39V301.64M403.83 216.39V298.27M409.43 223.13V294.9M415.01 233.24V288.16M420.6 243.35V257.83M420.6 273.68V278.05" stroke="#8c8c8c" stroke-width="1.5" stroke-dasharray="1.6 1.77" fill="none" opacity="0.8"/>
<path d="M256.1 255.15V269.62M261.69 238.3V283.11M267.28 228.19V293.22M272.87 224.82V303.32M278.46 221.45V306.69M284.05 218.08V310.06M289.64 218.08V310.06M295.23 218.08V313.44M300.82 211.34V313.44M306.41 211.34V313.44M312 207.97V316.81M317.59 207.97V316.81M323.18 207.97V316.81M328.77 204.6V320.18M334.36 204.6V320.18M339.95 204.6V320.18M345.54 204.6V320.18M351.13 207.97V316.81M356.72 207.97V316.81M362.31 207.97V316.81M367.9 211.34V313.44M373.49 211.34V313.44M379.08 211.34V313.44M384.67 214.71V310.06M390.26 214.71V306.69M395.85 218.08V303.32M401.44 218.08V299.95M407.03 224.82V296.59M412.62 234.93V289.85M418.21 245.04V259.52M418.21 275.37V279.74" stroke="#666" stroke-width="3.6" stroke-dasharray="1 2.37" fill="none" opacity="0.55"/>
<rect x="244.7" y="192.7" width="185.5" height="134.9" fill="none" stroke="#b4b4b4" stroke-width="0.8"/>
<g font-family="'DejaVu Sans','Liberation Sans',sans-serif" font-size="6.8" fill="#1a1a1a">
<text x="241.5" y="330.3" text-anchor="end">10</text>
<path d="M244.7 328.1h-1.6" stroke="#333" stroke-width="0.5"/>
<text x="241.5" y="313.45" text-anchor="end">15</text>
<path d="M244.7 311.25h-1.6" stroke="#333" stroke-width="0.5"/>
<text x="241.5" y="296.6" text-anchor="end">20</text>
<path d="M244.7 294.4h-1.6" stroke="#333" stroke-width="0.5"/>
<text x="241.5" y="279.75" text-anchor="end">25</text>
<path d="M244.7 277.55h-1.6" stroke="#333" stroke-width="0.5"/>
<text x="241.5" y="262.9" text-anchor="end">30</text>
<path d="M244.7 260.7h-1.6" stroke="#333" stroke-width="0.5"/>
<text x="241.5" y="246.05" text-anchor="end">35</text>
<path d="M244.7 243.85h-1.6" stroke="#333" stroke-width="0.5"/>
<text x="241.5" y="229.2" text-anchor="end">40</text>
<path d="M244.7 227h-1.6" stroke="#333" stroke-width="0.5"/>
<text x="241.5" y="212.35" text-anchor="end">45</text>
<path d="M244.7 210.15h-1.6" stroke="#333" stroke-width="0.5"/>
<text x="241.5" y="195.5" text-anchor="end">50</text>
<path d="M244.7 193.3h-1.6" stroke="#333" stroke-width="0.5"/>
<text x="255.7" y="336.2" text-anchor="middle">10</text>
<path d="M255.7 327.6v1.6" stroke="#333" stroke-width="0.5"/>
<text x="283.65" y="336.2" text-anchor="middle">15</text>
<path d="M283.65 327.6v1.6" stroke="#333" stroke-width="0.5"/>
<text x="311.6" y="336.2" text-anchor="middle">20</text>
<path d="M311.6 327.6v1.6" stroke="#333" stroke-width="0.5"/>
<text x="339.55" y="336.2" text-anchor="middle">25</text>
<path d="M339.55 327.6v1.6" stroke="#333" stroke-width="0.5"/>
<text x="367.5" y="336.2" text-anchor="middle">30</text>
<path d="M367.5 327.6v1.6" stroke="#333" stroke-width="0.5"/>
<text x="395.45" y="336.2" text-anchor="middle">35</text>
<path d="M395.45 327.6v1.6" stroke="#333" stroke-width="0.5"/>
<text x="423.4" y="336.2" text-anchor="middle">40</text>
<path d="M423.4 327.6v1.6" stroke="#333" stroke-width="0.5"/>
</g>
<text x="337.45" y="347.1" text-anchor="middle" font-family="'DejaVu Sans','Liberation Sans',sans-serif" font-size="11" fill="#111">X Co-ordinates</text>
<text transform="translate(230.3 260.15) rotate(-90)" text-anchor="middle" font-family="'DejaVu Sans','Liberation Sans',sans-serif" font-size="11.1" fill="#111">Y Co-ordinates</text>
<text x="335" y="357.4" text-anchor="middle" font-family="'Liberation Sans',sans-serif" font-weight="bold" font-size="8" fill="#1a1a1a">(d)</text>
<g><path d="M249.1 269.1L424.8 239.4" stroke="#000" stroke-width="1.6" fill="none"/><path d="M419.2 236.8L425.6 239.3L421.8 243.8" stroke="#000" stroke-width="1.3" fill="none"/></g>
<text x="412.6" y="223.2" font-family="'Liberation Sans',sans-serif" font-weight="bold" font-size="4.2" fill="#222">Mining</text>
<text x="412.6" y="228" font-family="'Liberation Sans',sans-serif" font-weight="bold" font-size="4.2" fill="#222">Direction</text>
<rect x="444.4" y="30.3" width="101" height="273.1" fill="#fff" stroke="#222" stroke-width="1.2"/>
<rect x="444.4" y="305.6" width="101" height="35.4" fill="#fff" stroke="#222" stroke-width="1.2"/>
<rect x="450.3" y="51.3" width="12.5" height="89.4" fill="#fff" stroke="#444" stroke-width="0.7"/>
<rect x="450.3" y="142.2" width="12.5" height="84.2" fill="#fff" stroke="#444" stroke-width="0.7"/>
<rect x="450.3" y="229.1" width="12.5" height="68.8" fill="#fff" stroke="#444" stroke-width="0.7"/>
<circle cx="456.4" cy="56.9" r="3.35" fill="#b8122a"/>
<circle cx="456.4" cy="65.3" r="3.35" fill="#b5200f"/>
<circle cx="456.4" cy="73.7" r="3.35" fill="#ee1111"/>
<circle cx="456.4" cy="82" r="3.35" fill="#f03a28"/>
<circle cx="456.4" cy="90.4" r="3.35" fill="#f01010"/>
<circle cx="456.4" cy="98.8" r="3.35" fill="#ee2a20"/>
<circle cx="456.4" cy="107.2" r="3.35" fill="#f21414"/>
<circle cx="456.4" cy="115.6" r="3.35" fill="#f57a10"/>
<circle cx="456.4" cy="124" r="3.35" fill="#f514d8"/>
<circle cx="456.4" cy="132.4" r="3.35" fill="#e88898"/>
<circle cx="456.4" cy="146.9" r="3.35" fill="#c8700a"/>
<circle cx="456.4" cy="155.5" r="3.35" fill="#e8b010"/>
<circle cx="456.4" cy="163.9" r="3.35" fill="#e8b810"/>
<circle cx="456.4" cy="173" r="3.35" fill="#e8a810"/>
<circle cx="456.4" cy="182.3" r="3.35" fill="#ffdc10"/>
<circle cx="456.4" cy="191.3" r="3.35" fill="#f8e050"/>
<circle cx="456.4" cy="199.8" r="3.35" fill="#fff060"/>
<circle cx="456.4" cy="209" r="3.35" fill="#fff250"/>
<circle cx="456.4" cy="218" r="3.35" fill="#fff460"/>
<circle cx="456.4" cy="236.3" r="3.35" fill="#0e1e5e"/>
<circle cx="456.4" cy="246.3" r="3.35" fill="#1040b0"/>
<circle cx="456.4" cy="256.4" r="3.35" fill="#2a62a8"/>
<circle cx="456.4" cy="265.6" r="3.35" fill="#4a90d8"/>
<circle cx="456.4" cy="275.5" r="3.35" fill="#2a10e0"/>
<circle cx="456.4" cy="283.9" r="3.35" fill="#9a88f0"/>
<circle cx="456.4" cy="292.7" r="3.35" fill="#10e8f8"/>
<text x="489.7" y="45.6" text-anchor="middle" font-size="12.5" font-family="'Liberation Sans',sans-serif" font-weight="bold" fill="#111">Legend</text>
<text x="465.3" y="100" font-size="10.9" textLength="76.8" lengthAdjust="spacingAndGlyphs" font-family="'Liberation Sans',sans-serif" font-weight="bold" fill="#111">Waste Clusters</text>
<text x="465.8" y="187" font-size="10.9" textLength="64.2" lengthAdjust="spacingAndGlyphs" font-family="'Liberation Sans',sans-serif" font-weight="bold" fill="#111">Mill Clusters</text>
<text x="465.5" y="271.1" font-size="10.9" textLength="75.8" lengthAdjust="spacingAndGlyphs" font-family="'Liberation Sans',sans-serif" font-weight="bold" fill="#111">Leach Clusters</text>
<text x="493.3" y="318" text-anchor="middle" font-size="12.5" font-family="'Liberation Sans',sans-serif" font-weight="bold" fill="#111">Scale</text>
<text x="447.5" y="332" font-size="9.3" textLength="96.7" lengthAdjust="spacingAndGlyphs" font-family="'Liberation Sans',sans-serif" font-weight="bold" fill="#111">1 unit in X or Y = 30 m</text>
</svg></body></html>
